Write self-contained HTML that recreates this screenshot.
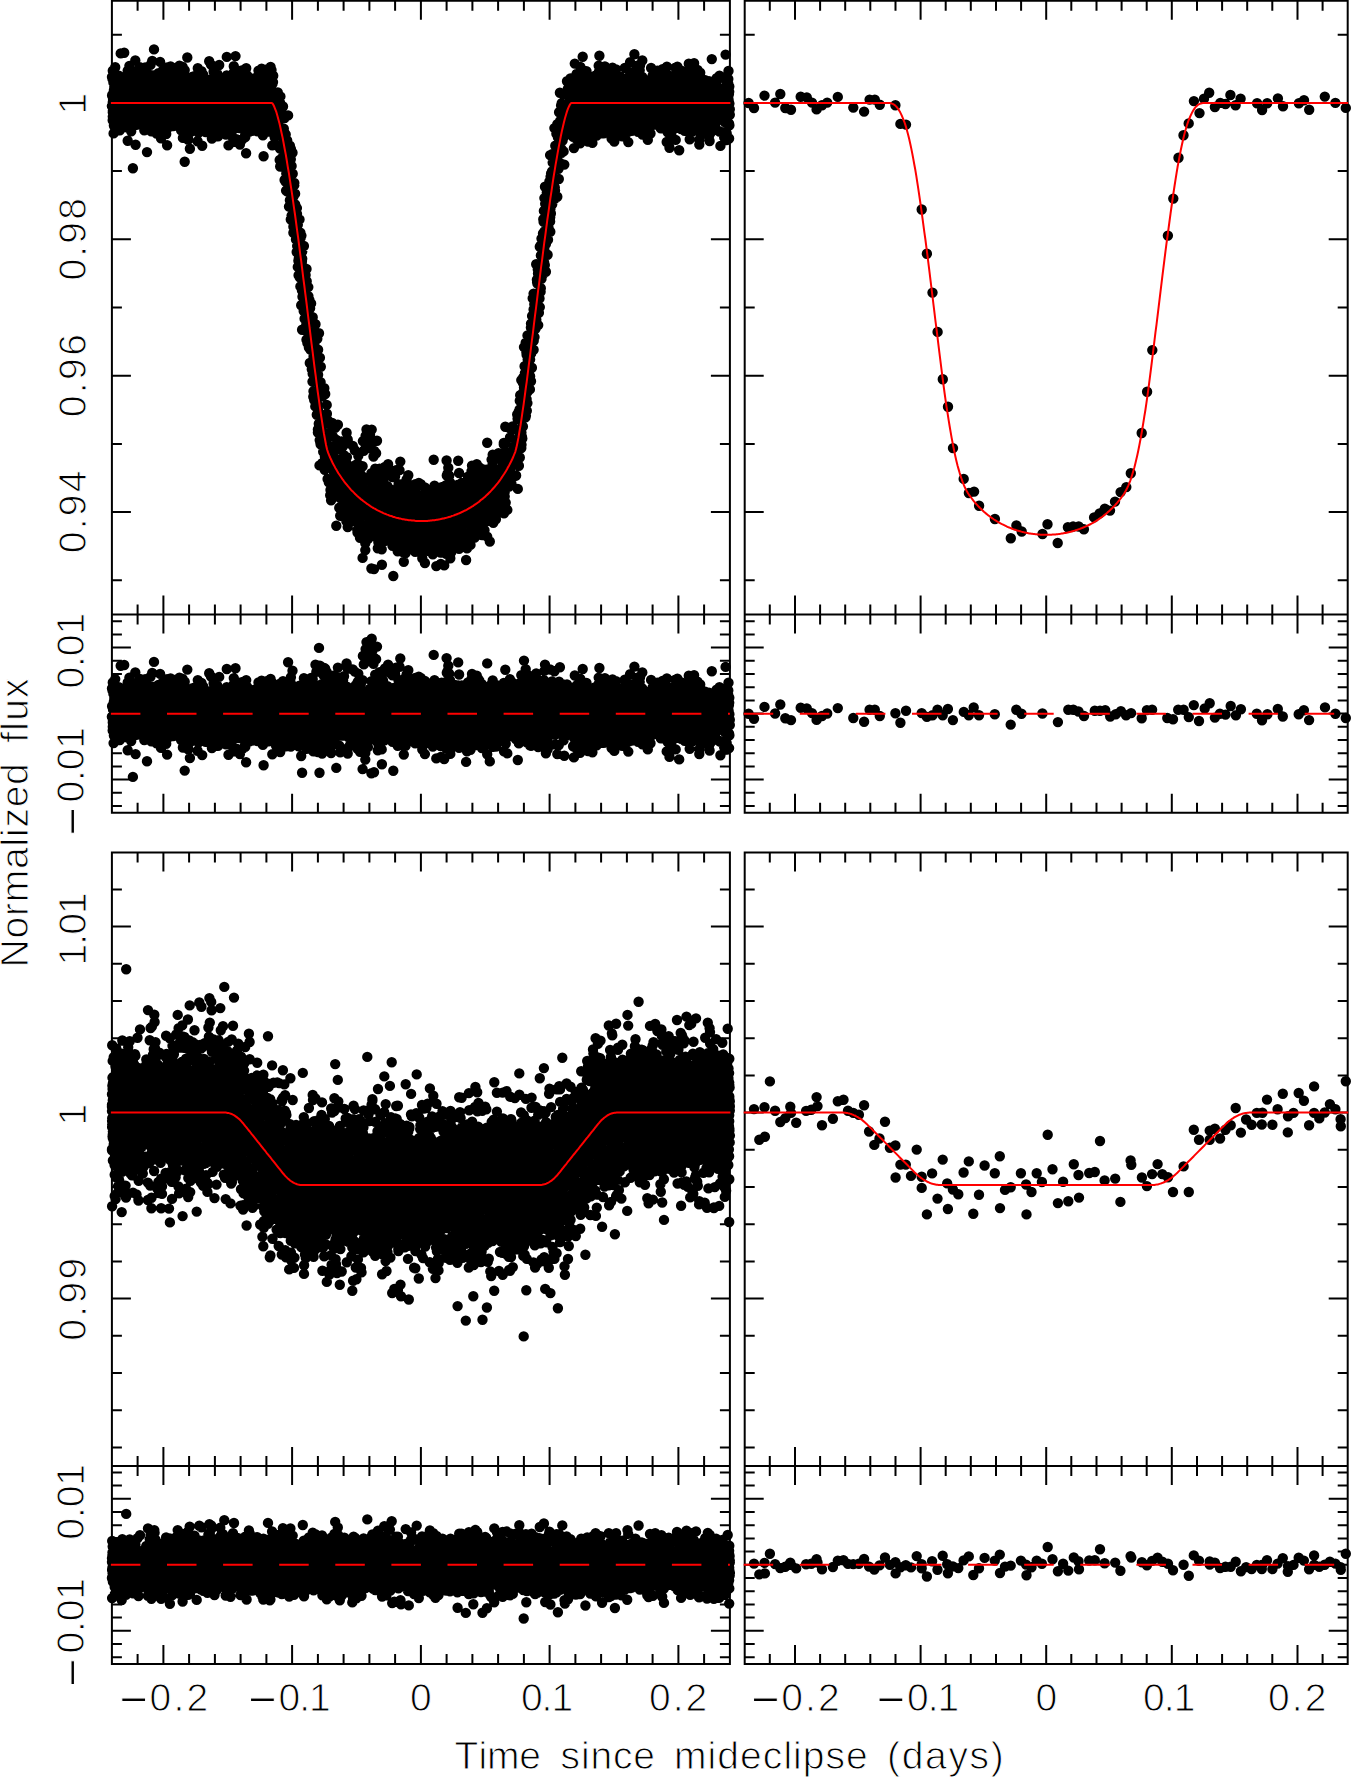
<!DOCTYPE html>
<html lang="en"><head><meta charset="utf-8"><title>Normalized flux vs time since mideclipse</title><style>html,body{margin:0;padding:0;background:#fff}svg{display:block}</style></head><body>
<svg width="1351" height="1777" viewBox="0 0 1351 1777">
<rect width="1351" height="1777" fill="#fff"/>
<path d="M111.9 0.8H729.9V614.5H111.9ZM111.9 0.8v10.0M111.9 614.5v-10.0M137.6 0.8v10.0M137.6 614.5v-10.0M163.4 0.8v19.0M163.4 614.5v-19.0M189.1 0.8v10.0M189.1 614.5v-10.0M214.9 0.8v10.0M214.9 614.5v-10.0M240.6 0.8v10.0M240.6 614.5v-10.0M266.4 0.8v10.0M266.4 614.5v-10.0M292.1 0.8v19.0M292.1 614.5v-19.0M317.9 0.8v10.0M317.9 614.5v-10.0M343.6 0.8v10.0M343.6 614.5v-10.0M369.4 0.8v10.0M369.4 614.5v-10.0M395.1 0.8v10.0M395.1 614.5v-10.0M420.9 0.8v19.0M420.9 614.5v-19.0M446.6 0.8v10.0M446.6 614.5v-10.0M472.4 0.8v10.0M472.4 614.5v-10.0M498.1 0.8v10.0M498.1 614.5v-10.0M523.9 0.8v10.0M523.9 614.5v-10.0M549.6 0.8v19.0M549.6 614.5v-19.0M575.4 0.8v10.0M575.4 614.5v-10.0M601.1 0.8v10.0M601.1 614.5v-10.0M626.9 0.8v10.0M626.9 614.5v-10.0M652.6 0.8v10.0M652.6 614.5v-10.0M678.4 0.8v19.0M678.4 614.5v-19.0M704.1 0.8v10.0M704.1 614.5v-10.0M729.9 0.8v10.0M729.9 614.5v-10.0M111.9 580.3h10.0M729.9 580.3h-10.0M111.9 512.1h19.0M729.9 512.1h-19.0M111.9 443.9h10.0M729.9 443.9h-10.0M111.9 375.7h19.0M729.9 375.7h-19.0M111.9 307.5h10.0M729.9 307.5h-10.0M111.9 239.3h19.0M729.9 239.3h-19.0M111.9 171.1h10.0M729.9 171.1h-10.0M111.9 102.9h19.0M729.9 102.9h-19.0M111.9 34.7h10.0M729.9 34.7h-10.0M111.9 614.5H729.9V812.8H111.9ZM111.9 614.5v10.0M111.9 812.8v-10.0M137.6 614.5v10.0M137.6 812.8v-10.0M163.4 614.5v19.0M163.4 812.8v-19.0M189.1 614.5v10.0M189.1 812.8v-10.0M214.9 614.5v10.0M214.9 812.8v-10.0M240.6 614.5v10.0M240.6 812.8v-10.0M266.4 614.5v10.0M266.4 812.8v-10.0M292.1 614.5v19.0M292.1 812.8v-19.0M317.9 614.5v10.0M317.9 812.8v-10.0M343.6 614.5v10.0M343.6 812.8v-10.0M369.4 614.5v10.0M369.4 812.8v-10.0M395.1 614.5v10.0M395.1 812.8v-10.0M420.9 614.5v19.0M420.9 812.8v-19.0M446.6 614.5v10.0M446.6 812.8v-10.0M472.4 614.5v10.0M472.4 812.8v-10.0M498.1 614.5v10.0M498.1 812.8v-10.0M523.9 614.5v10.0M523.9 812.8v-10.0M549.6 614.5v19.0M549.6 812.8v-19.0M575.4 614.5v10.0M575.4 812.8v-10.0M601.1 614.5v10.0M601.1 812.8v-10.0M626.9 614.5v10.0M626.9 812.8v-10.0M652.6 614.5v10.0M652.6 812.8v-10.0M678.4 614.5v19.0M678.4 812.8v-19.0M704.1 614.5v10.0M704.1 812.8v-10.0M729.9 614.5v10.0M729.9 812.8v-10.0M111.9 806h10.0M729.9 806h-10.0M111.9 792.8h10.0M729.9 792.8h-10.0M111.9 779.6h19.0M729.9 779.6h-19.0M111.9 766.4h10.0M729.9 766.4h-10.0M111.9 753.2h10.0M729.9 753.2h-10.0M111.9 740h10.0M729.9 740h-10.0M111.9 726.8h10.0M729.9 726.8h-10.0M111.9 713.6h19.0M729.9 713.6h-19.0M111.9 700.4h10.0M729.9 700.4h-10.0M111.9 687.2h10.0M729.9 687.2h-10.0M111.9 674h10.0M729.9 674h-10.0M111.9 660.8h10.0M729.9 660.8h-10.0M111.9 647.6h19.0M729.9 647.6h-19.0M111.9 634.4h10.0M729.9 634.4h-10.0M111.9 621.2h10.0M729.9 621.2h-10.0M111.9 852.5H729.9V1466.0H111.9ZM111.9 852.5v10.0M111.9 1466.0v-10.0M137.6 852.5v10.0M137.6 1466.0v-10.0M163.4 852.5v19.0M163.4 1466.0v-19.0M189.1 852.5v10.0M189.1 1466.0v-10.0M214.9 852.5v10.0M214.9 1466.0v-10.0M240.6 852.5v10.0M240.6 1466.0v-10.0M266.4 852.5v10.0M266.4 1466.0v-10.0M292.1 852.5v19.0M292.1 1466.0v-19.0M317.9 852.5v10.0M317.9 1466.0v-10.0M343.6 852.5v10.0M343.6 1466.0v-10.0M369.4 852.5v10.0M369.4 1466.0v-10.0M395.1 852.5v10.0M395.1 1466.0v-10.0M420.9 852.5v19.0M420.9 1466.0v-19.0M446.6 852.5v10.0M446.6 1466.0v-10.0M472.4 852.5v10.0M472.4 1466.0v-10.0M498.1 852.5v10.0M498.1 1466.0v-10.0M523.9 852.5v10.0M523.9 1466.0v-10.0M549.6 852.5v19.0M549.6 1466.0v-19.0M575.4 852.5v10.0M575.4 1466.0v-10.0M601.1 852.5v10.0M601.1 1466.0v-10.0M626.9 852.5v10.0M626.9 1466.0v-10.0M652.6 852.5v10.0M652.6 1466.0v-10.0M678.4 852.5v19.0M678.4 1466.0v-19.0M704.1 852.5v10.0M704.1 1466.0v-10.0M729.9 852.5v10.0M729.9 1466.0v-10.0M111.9 1447.4h10.0M729.9 1447.4h-10.0M111.9 1410.2h10.0M729.9 1410.2h-10.0M111.9 1373h10.0M729.9 1373h-10.0M111.9 1335.8h10.0M729.9 1335.8h-10.0M111.9 1298.6h19.0M729.9 1298.6h-19.0M111.9 1261.4h10.0M729.9 1261.4h-10.0M111.9 1224.2h10.0M729.9 1224.2h-10.0M111.9 1187h10.0M729.9 1187h-10.0M111.9 1149.8h10.0M729.9 1149.8h-10.0M111.9 1112.6h19.0M729.9 1112.6h-19.0M111.9 1075.4h10.0M729.9 1075.4h-10.0M111.9 1038.2h10.0M729.9 1038.2h-10.0M111.9 1001h10.0M729.9 1001h-10.0M111.9 963.8h10.0M729.9 963.8h-10.0M111.9 926.6h19.0M729.9 926.6h-19.0M111.9 889.4h10.0M729.9 889.4h-10.0M111.9 1466.0H729.9V1664.0H111.9ZM111.9 1466.0v10.0M111.9 1664.0v-10.0M137.6 1466.0v10.0M137.6 1664.0v-10.0M163.4 1466.0v19.0M163.4 1664.0v-19.0M189.1 1466.0v10.0M189.1 1664.0v-10.0M214.9 1466.0v10.0M214.9 1664.0v-10.0M240.6 1466.0v10.0M240.6 1664.0v-10.0M266.4 1466.0v10.0M266.4 1664.0v-10.0M292.1 1466.0v19.0M292.1 1664.0v-19.0M317.9 1466.0v10.0M317.9 1664.0v-10.0M343.6 1466.0v10.0M343.6 1664.0v-10.0M369.4 1466.0v10.0M369.4 1664.0v-10.0M395.1 1466.0v10.0M395.1 1664.0v-10.0M420.9 1466.0v19.0M420.9 1664.0v-19.0M446.6 1466.0v10.0M446.6 1664.0v-10.0M472.4 1466.0v10.0M472.4 1664.0v-10.0M498.1 1466.0v10.0M498.1 1664.0v-10.0M523.9 1466.0v10.0M523.9 1664.0v-10.0M549.6 1466.0v19.0M549.6 1664.0v-19.0M575.4 1466.0v10.0M575.4 1664.0v-10.0M601.1 1466.0v10.0M601.1 1664.0v-10.0M626.9 1466.0v10.0M626.9 1664.0v-10.0M652.6 1466.0v10.0M652.6 1664.0v-10.0M678.4 1466.0v19.0M678.4 1664.0v-19.0M704.1 1466.0v10.0M704.1 1664.0v-10.0M729.9 1466.0v10.0M729.9 1664.0v-10.0M111.9 1657.2h10.0M729.9 1657.2h-10.0M111.9 1644h10.0M729.9 1644h-10.0M111.9 1630.8h19.0M729.9 1630.8h-19.0M111.9 1617.6h10.0M729.9 1617.6h-10.0M111.9 1604.4h10.0M729.9 1604.4h-10.0M111.9 1591.2h10.0M729.9 1591.2h-10.0M111.9 1578h10.0M729.9 1578h-10.0M111.9 1564.8h19.0M729.9 1564.8h-19.0M111.9 1551.6h10.0M729.9 1551.6h-10.0M111.9 1538.4h10.0M729.9 1538.4h-10.0M111.9 1525.2h10.0M729.9 1525.2h-10.0M111.9 1512h10.0M729.9 1512h-10.0M111.9 1498.8h19.0M729.9 1498.8h-19.0M111.9 1485.6h10.0M729.9 1485.6h-10.0M111.9 1472.4h10.0M729.9 1472.4h-10.0M744.7 0.8H1347.7V614.5H744.7ZM744.7 0.8v10.0M744.7 614.5v-10.0M769.8 0.8v10.0M769.8 614.5v-10.0M795 0.8v19.0M795 614.5v-19.0M820.1 0.8v10.0M820.1 614.5v-10.0M845.2 0.8v10.0M845.2 614.5v-10.0M870.3 0.8v10.0M870.3 614.5v-10.0M895.5 0.8v10.0M895.5 614.5v-10.0M920.6 0.8v19.0M920.6 614.5v-19.0M945.7 0.8v10.0M945.7 614.5v-10.0M970.8 0.8v10.0M970.8 614.5v-10.0M996 0.8v10.0M996 614.5v-10.0M1021.1 0.8v10.0M1021.1 614.5v-10.0M1046.2 0.8v19.0M1046.2 614.5v-19.0M1071.3 0.8v10.0M1071.3 614.5v-10.0M1096.5 0.8v10.0M1096.5 614.5v-10.0M1121.6 0.8v10.0M1121.6 614.5v-10.0M1146.7 0.8v10.0M1146.7 614.5v-10.0M1171.8 0.8v19.0M1171.8 614.5v-19.0M1197 0.8v10.0M1197 614.5v-10.0M1222.1 0.8v10.0M1222.1 614.5v-10.0M1247.2 0.8v10.0M1247.2 614.5v-10.0M1272.3 0.8v10.0M1272.3 614.5v-10.0M1297.5 0.8v19.0M1297.5 614.5v-19.0M1322.6 0.8v10.0M1322.6 614.5v-10.0M1347.7 0.8v10.0M1347.7 614.5v-10.0M744.7 580.3h10.0M1347.7 580.3h-10.0M744.7 512.1h19.0M1347.7 512.1h-19.0M744.7 443.9h10.0M1347.7 443.9h-10.0M744.7 375.7h19.0M1347.7 375.7h-19.0M744.7 307.5h10.0M1347.7 307.5h-10.0M744.7 239.3h19.0M1347.7 239.3h-19.0M744.7 171.1h10.0M1347.7 171.1h-10.0M744.7 102.9h19.0M1347.7 102.9h-19.0M744.7 34.7h10.0M1347.7 34.7h-10.0M744.7 614.5H1347.7V812.8H744.7ZM744.7 614.5v10.0M744.7 812.8v-10.0M769.8 614.5v10.0M769.8 812.8v-10.0M795 614.5v19.0M795 812.8v-19.0M820.1 614.5v10.0M820.1 812.8v-10.0M845.2 614.5v10.0M845.2 812.8v-10.0M870.3 614.5v10.0M870.3 812.8v-10.0M895.5 614.5v10.0M895.5 812.8v-10.0M920.6 614.5v19.0M920.6 812.8v-19.0M945.7 614.5v10.0M945.7 812.8v-10.0M970.8 614.5v10.0M970.8 812.8v-10.0M996 614.5v10.0M996 812.8v-10.0M1021.1 614.5v10.0M1021.1 812.8v-10.0M1046.2 614.5v19.0M1046.2 812.8v-19.0M1071.3 614.5v10.0M1071.3 812.8v-10.0M1096.5 614.5v10.0M1096.5 812.8v-10.0M1121.6 614.5v10.0M1121.6 812.8v-10.0M1146.7 614.5v10.0M1146.7 812.8v-10.0M1171.8 614.5v19.0M1171.8 812.8v-19.0M1197 614.5v10.0M1197 812.8v-10.0M1222.1 614.5v10.0M1222.1 812.8v-10.0M1247.2 614.5v10.0M1247.2 812.8v-10.0M1272.3 614.5v10.0M1272.3 812.8v-10.0M1297.5 614.5v19.0M1297.5 812.8v-19.0M1322.6 614.5v10.0M1322.6 812.8v-10.0M1347.7 614.5v10.0M1347.7 812.8v-10.0M744.7 806h10.0M1347.7 806h-10.0M744.7 792.8h10.0M1347.7 792.8h-10.0M744.7 779.6h19.0M1347.7 779.6h-19.0M744.7 766.4h10.0M1347.7 766.4h-10.0M744.7 753.2h10.0M1347.7 753.2h-10.0M744.7 740h10.0M1347.7 740h-10.0M744.7 726.8h10.0M1347.7 726.8h-10.0M744.7 713.6h19.0M1347.7 713.6h-19.0M744.7 700.4h10.0M1347.7 700.4h-10.0M744.7 687.2h10.0M1347.7 687.2h-10.0M744.7 674h10.0M1347.7 674h-10.0M744.7 660.8h10.0M1347.7 660.8h-10.0M744.7 647.6h19.0M1347.7 647.6h-19.0M744.7 634.4h10.0M1347.7 634.4h-10.0M744.7 621.2h10.0M1347.7 621.2h-10.0M744.7 852.5H1347.7V1466.0H744.7ZM744.7 852.5v10.0M744.7 1466.0v-10.0M769.8 852.5v10.0M769.8 1466.0v-10.0M795 852.5v19.0M795 1466.0v-19.0M820.1 852.5v10.0M820.1 1466.0v-10.0M845.2 852.5v10.0M845.2 1466.0v-10.0M870.3 852.5v10.0M870.3 1466.0v-10.0M895.5 852.5v10.0M895.5 1466.0v-10.0M920.6 852.5v19.0M920.6 1466.0v-19.0M945.7 852.5v10.0M945.7 1466.0v-10.0M970.8 852.5v10.0M970.8 1466.0v-10.0M996 852.5v10.0M996 1466.0v-10.0M1021.1 852.5v10.0M1021.1 1466.0v-10.0M1046.2 852.5v19.0M1046.2 1466.0v-19.0M1071.3 852.5v10.0M1071.3 1466.0v-10.0M1096.5 852.5v10.0M1096.5 1466.0v-10.0M1121.6 852.5v10.0M1121.6 1466.0v-10.0M1146.7 852.5v10.0M1146.7 1466.0v-10.0M1171.8 852.5v19.0M1171.8 1466.0v-19.0M1197 852.5v10.0M1197 1466.0v-10.0M1222.1 852.5v10.0M1222.1 1466.0v-10.0M1247.2 852.5v10.0M1247.2 1466.0v-10.0M1272.3 852.5v10.0M1272.3 1466.0v-10.0M1297.5 852.5v19.0M1297.5 1466.0v-19.0M1322.6 852.5v10.0M1322.6 1466.0v-10.0M1347.7 852.5v10.0M1347.7 1466.0v-10.0M744.7 1447.4h10.0M1347.7 1447.4h-10.0M744.7 1410.2h10.0M1347.7 1410.2h-10.0M744.7 1373h10.0M1347.7 1373h-10.0M744.7 1335.8h10.0M1347.7 1335.8h-10.0M744.7 1298.6h19.0M1347.7 1298.6h-19.0M744.7 1261.4h10.0M1347.7 1261.4h-10.0M744.7 1224.2h10.0M1347.7 1224.2h-10.0M744.7 1187h10.0M1347.7 1187h-10.0M744.7 1149.8h10.0M1347.7 1149.8h-10.0M744.7 1112.6h19.0M1347.7 1112.6h-19.0M744.7 1075.4h10.0M1347.7 1075.4h-10.0M744.7 1038.2h10.0M1347.7 1038.2h-10.0M744.7 1001h10.0M1347.7 1001h-10.0M744.7 963.8h10.0M1347.7 963.8h-10.0M744.7 926.6h19.0M1347.7 926.6h-19.0M744.7 889.4h10.0M1347.7 889.4h-10.0M744.7 1466.0H1347.7V1664.0H744.7ZM744.7 1466.0v10.0M744.7 1664.0v-10.0M769.8 1466.0v10.0M769.8 1664.0v-10.0M795 1466.0v19.0M795 1664.0v-19.0M820.1 1466.0v10.0M820.1 1664.0v-10.0M845.2 1466.0v10.0M845.2 1664.0v-10.0M870.3 1466.0v10.0M870.3 1664.0v-10.0M895.5 1466.0v10.0M895.5 1664.0v-10.0M920.6 1466.0v19.0M920.6 1664.0v-19.0M945.7 1466.0v10.0M945.7 1664.0v-10.0M970.8 1466.0v10.0M970.8 1664.0v-10.0M996 1466.0v10.0M996 1664.0v-10.0M1021.1 1466.0v10.0M1021.1 1664.0v-10.0M1046.2 1466.0v19.0M1046.2 1664.0v-19.0M1071.3 1466.0v10.0M1071.3 1664.0v-10.0M1096.5 1466.0v10.0M1096.5 1664.0v-10.0M1121.6 1466.0v10.0M1121.6 1664.0v-10.0M1146.7 1466.0v10.0M1146.7 1664.0v-10.0M1171.8 1466.0v19.0M1171.8 1664.0v-19.0M1197 1466.0v10.0M1197 1664.0v-10.0M1222.1 1466.0v10.0M1222.1 1664.0v-10.0M1247.2 1466.0v10.0M1247.2 1664.0v-10.0M1272.3 1466.0v10.0M1272.3 1664.0v-10.0M1297.5 1466.0v19.0M1297.5 1664.0v-19.0M1322.6 1466.0v10.0M1322.6 1664.0v-10.0M1347.7 1466.0v10.0M1347.7 1664.0v-10.0M744.7 1657.2h10.0M1347.7 1657.2h-10.0M744.7 1644h10.0M1347.7 1644h-10.0M744.7 1630.8h19.0M1347.7 1630.8h-19.0M744.7 1617.6h10.0M1347.7 1617.6h-10.0M744.7 1604.4h10.0M1347.7 1604.4h-10.0M744.7 1591.2h10.0M1347.7 1591.2h-10.0M744.7 1578h10.0M1347.7 1578h-10.0M744.7 1564.8h19.0M1347.7 1564.8h-19.0M744.7 1551.6h10.0M1347.7 1551.6h-10.0M744.7 1538.4h10.0M1347.7 1538.4h-10.0M744.7 1525.2h10.0M1347.7 1525.2h-10.0M744.7 1512h10.0M1347.7 1512h-10.0M744.7 1498.8h19.0M1347.7 1498.8h-19.0M744.7 1485.6h10.0M1347.7 1485.6h-10.0M744.7 1472.4h10.0M1347.7 1472.4h-10.0" fill="none" stroke="#000" stroke-width="2" stroke-linecap="butt"/>
<path d="M111.9 83.8L113.4 83.8L115 83.8L116.5 83.8L118.1 83.8L119.6 83.8L121.2 83.8L122.7 83.8L124.3 83.8L125.8 83.8L127.4 83.8L128.9 83.8L130.5 83.8L132 83.8L133.6 83.8L135.1 83.8L136.7 83.8L138.2 83.8L139.8 83.8L141.3 83.8L142.9 83.8L144.4 83.8L146 83.8L147.5 83.8L149.1 83.8L150.6 83.8L152.2 83.8L153.7 83.8L155.3 83.8L156.8 83.8L158.4 83.8L159.9 83.8L161.5 83.8L163 83.8L164.6 83.8L166.1 83.8L167.7 83.8L169.2 83.8L170.8 83.8L172.3 83.8L173.9 83.8L175.4 83.8L177 83.8L178.5 83.8L180.1 83.8L181.6 83.8L183.1 83.8L184.7 83.8L186.2 83.8L187.8 83.8L189.3 83.8L190.9 83.8L192.4 83.8L194 83.8L195.5 83.8L197.1 83.8L198.6 83.8L200.2 83.8L201.7 83.8L203.3 83.8L204.8 83.8L206.4 83.8L207.9 83.8L209.5 83.8L211 83.8L212.6 83.8L214.1 83.8L215.7 83.8L217.2 83.8L218.8 83.8L220.3 83.8L221.9 83.8L223.4 83.8L225 83.8L226.5 83.8L228.1 83.8L229.6 83.8L231.2 83.8L232.7 83.8L234.3 83.8L235.8 83.8L237.4 83.8L238.9 83.8L240.5 83.8L242 83.8L243.6 83.8L245.1 83.8L246.7 83.8L248.2 83.8L249.7 83.8L251.3 83.8L252.8 83.8L254.4 83.8L255.9 83.8L257.5 83.8L259 83.8L260.6 83.8L262.1 83.8L263.7 83.8L265.2 83.8L266.8 83.8L268.3 83.8L269.9 83.8L271.4 83.8L273 85.2L274.5 88.2L276.1 92.3L277.6 97.5L279.2 103.4L280.7 110L282.3 117.1L283.8 125.1L285.4 133.4L286.9 142.3L288.5 151.6L290 161.5L291.6 171.7L293.1 182.2L294.7 193.2L296.2 204.4L297.8 215.9L299.3 227.6L300.9 239.6L302.4 251.6L304 263.9L305.5 276.1L307.1 288.5L308.6 300.9L310.2 313.4L311.7 325.8L313.3 338.1L314.8 350.1L316.4 362.2L317.9 373.6L319.4 385.1L321 395.7L322.5 405.9L324.1 415.3L325.6 423.9L327.2 430.7L328.7 435.1L330.3 438.7L331.8 442.2L333.4 445.2L334.9 448L336.5 450.7L338 453.4L339.6 455.9L341.1 458.1L342.7 460.4L344.2 462.5L345.8 464.6L347.3 466.3L348.9 468.2L350.4 469.9L352 471.8L353.5 473.2L355.1 474.9L356.6 476.2L358.2 477.7L359.7 479L361.3 480.4L362.8 481.6L364.4 482.8L365.9 483.9L367.5 485.1L369 486.1L370.6 487.1L372.1 488L373.7 489.1L375.2 489.9L376.8 490.9L378.3 491.5L379.9 492.4L381.4 493L383 493.8L384.5 494.4L386.1 495.1L387.6 495.6L389.1 496.4L390.7 496.9L392.2 497.3L393.8 497.8L395.3 498.3L396.9 498.8L398.4 499L400 499.4L401.5 499.9L403.1 500.3L404.6 500.3L406.2 500.7L407.7 500.8L409.3 501.2L410.8 501.2L412.4 501.6L413.9 501.5L415.5 501.9L417 501.8L418.6 501.9L420.1 501.9L421.7 502L423.2 501.9L424.8 502L426.3 501.8L427.9 501.8L429.4 501.6L431 501.5L432.5 501.2L434.1 501.1L435.6 500.8L437.2 500.8L438.7 500.3L440.3 500.2L441.8 499.7L443.4 499.4L444.9 499L446.5 498.7L448 498.2L449.6 497.8L451.1 497.2L452.7 496.8L454.2 496.2L455.7 495.5L457.3 494.9L458.8 494.4L460.4 493.7L461.9 492.9L463.5 492.1L465 491.4L466.6 490.7L468.1 489.7L469.7 488.9L471.2 487.8L472.8 487L474.3 485.9L475.9 484.9L477.4 483.7L479 482.6L480.5 481.4L482.1 480.2L483.6 478.7L485.2 477.5L486.7 476L488.3 474.7L489.8 473L491.4 471.4L492.9 469.6L494.5 468L496 466.1L497.6 464.2L499.1 462L500.7 460.1L502.2 457.7L503.8 455.5L505.3 452.9L506.9 450.4L508.4 447.6L510 444.8L511.5 441.6L513.1 438.2L514.6 434.4L516.2 429.7L517.7 422.5L519.3 413.7L520.8 404.2L522.4 394L523.9 383.2L525.4 371.7L527 360.1L528.5 348L530.1 336.1L531.6 323.6L533.2 311.3L534.7 298.8L536.3 286.4L537.8 274L539.4 261.8L540.9 249.5L542.5 237.6L544 225.6L545.6 214L547.1 202.5L548.7 191.3L550.2 180.5L551.8 170L553.3 159.8L554.9 150L556.4 140.7L558 132L559.5 123.7L561.1 115.9L562.6 108.8L564.2 102.4L565.7 96.5L567.3 91.6L568.8 87.6L570.4 84.8L571.9 83.8L573.5 83.8L575 83.8L576.6 83.8L578.1 83.8L579.7 83.8L581.2 83.8L582.8 83.8L584.3 83.8L585.9 83.8L587.4 83.8L589 83.8L590.5 83.8L592.1 83.8L593.6 83.8L595.1 83.8L596.7 83.8L598.2 83.8L599.8 83.8L601.3 83.8L602.9 83.8L604.4 83.8L606 83.8L607.5 83.8L609.1 83.8L610.6 83.8L612.2 83.8L613.7 83.8L615.3 83.8L616.8 83.8L618.4 83.8L619.9 83.8L621.5 83.8L623 83.8L624.6 83.8L626.1 83.8L627.7 83.8L629.2 83.8L630.8 83.8L632.3 83.8L633.9 83.8L635.4 83.8L637 83.8L638.5 83.8L640.1 83.8L641.6 83.8L643.2 83.8L644.7 83.8L646.3 83.8L647.8 83.8L649.4 83.8L650.9 83.8L652.5 83.8L654 83.8L655.6 83.8L657.1 83.8L658.7 83.8L660.2 83.8L661.7 83.8L663.3 83.8L664.8 83.8L666.4 83.8L667.9 83.8L669.5 83.8L671 83.8L672.6 83.8L674.1 83.8L675.7 83.8L677.2 83.8L678.8 83.8L680.3 83.8L681.9 83.8L683.4 83.8L685 83.8L686.5 83.8L688.1 83.8L689.6 83.8L691.2 83.8L692.7 83.8L694.3 83.8L695.8 83.8L697.4 83.8L698.9 83.8L700.5 83.8L702 83.8L703.6 83.8L705.1 83.8L706.7 83.8L708.2 83.8L709.8 83.8L711.3 83.8L712.9 83.8L714.4 83.8L716 83.8L717.5 83.8L719.1 83.8L720.6 83.8L722.2 83.8L723.7 83.8L725.3 83.8L726.8 83.8L728.4 83.8L729.9 83.8L729.9 122L728.4 122L726.8 122L725.3 122L723.7 122L722.2 122L720.6 122L719.1 122L717.5 122L716 122L714.4 122L712.9 122L711.3 122L709.8 122L708.2 122L706.7 122L705.1 122L703.6 122L702 122L700.5 122L698.9 122L697.4 122L695.8 122L694.3 122L692.7 122L691.2 122L689.6 122L688.1 122L686.5 122L685 122L683.4 122L681.9 122L680.3 122L678.8 122L677.2 122L675.7 122L674.1 122L672.6 122L671 122L669.5 122L667.9 122L666.4 122L664.8 122L663.3 122L661.7 122L660.2 122L658.7 122L657.1 122L655.6 122L654 122L652.5 122L650.9 122L649.4 122L647.8 122L646.3 122L644.7 122L643.2 122L641.6 122L640.1 122L638.5 122L637 122L635.4 122L633.9 122L632.3 122L630.8 122L629.2 122L627.7 122L626.1 122L624.6 122L623 122L621.5 122L619.9 122L618.4 122L616.8 122L615.3 122L613.7 122L612.2 122L610.6 122L609.1 122L607.5 122L606 122L604.4 122L602.9 122L601.3 122L599.8 122L598.2 122L596.7 122L595.1 122L593.6 122L592.1 122L590.5 122L589 122L587.4 122L585.9 122L584.3 122L582.8 122L581.2 122L579.7 122L578.1 122L576.6 122L575 122L573.5 122L571.9 122L570.4 123L568.8 125.8L567.3 129.8L565.7 134.7L564.2 140.6L562.6 147L561.1 154L559.5 161.9L558 170.2L556.4 178.9L554.9 188.2L553.3 198L551.8 208.2L550.2 218.6L548.7 229.5L547.1 240.7L545.6 252.2L544 263.8L542.5 275.8L540.9 287.7L539.4 300L537.8 312.2L536.3 324.6L534.7 337L533.2 349.5L531.6 361.8L530.1 374.3L528.5 386.2L527 398.3L525.4 409.9L523.9 421.4L522.4 432.2L520.8 442.3L519.3 451.9L517.7 460.7L516.2 467.9L514.6 472.6L513.1 476.4L511.5 479.8L510 482.9L508.4 485.7L506.9 488.6L505.3 491.1L503.8 493.7L502.2 495.9L500.7 498.3L499.1 500.2L497.6 502.4L496 504.3L494.5 506.2L492.9 507.8L491.4 509.6L489.8 511.1L488.3 512.8L486.7 514.2L485.2 515.7L483.6 516.9L482.1 518.4L480.5 519.5L479 520.8L477.4 521.9L475.9 523.1L474.3 524.1L472.8 525.2L471.2 526L469.7 527.1L468.1 527.8L466.6 528.9L465 529.6L463.5 530.3L461.9 531L460.4 531.9L458.8 532.6L457.3 533.1L455.7 533.7L454.2 534.4L452.7 535L451.1 535.4L449.6 535.9L448 536.4L446.5 536.9L444.9 537.2L443.4 537.6L441.8 537.9L440.3 538.4L438.7 538.5L437.2 538.9L435.6 539L434.1 539.3L432.5 539.4L431 539.7L429.4 539.8L427.9 540L426.3 540L424.8 540.2L423.2 540.1L421.7 540.2L420.1 540.1L418.6 540.1L417 540L415.5 540.1L413.9 539.7L412.4 539.8L410.8 539.4L409.3 539.3L407.7 539L406.2 538.9L404.6 538.5L403.1 538.5L401.5 538.1L400 537.6L398.4 537.2L396.9 537L395.3 536.5L393.8 536L392.2 535.5L390.7 535.1L389.1 534.6L387.6 533.8L386.1 533.3L384.5 532.5L383 532L381.4 531.2L379.9 530.6L378.3 529.7L376.8 529.1L375.2 528.1L373.7 527.2L372.1 526.2L370.6 525.3L369 524.3L367.5 523.3L365.9 522.1L364.4 521L362.8 519.8L361.3 518.6L359.7 517.2L358.2 515.9L356.6 514.4L355.1 513.1L353.5 511.4L352 509.9L350.4 508.1L348.9 506.4L347.3 504.5L345.8 502.8L344.2 500.6L342.7 498.6L341.1 496.3L339.6 494.1L338 491.6L336.5 488.9L334.9 486.2L333.4 483.4L331.8 480.4L330.3 476.9L328.7 473.3L327.2 468.8L325.6 462.1L324.1 453.4L322.5 444L321 433.9L319.4 423.2L317.9 411.8L316.4 400.4L314.8 388.3L313.3 376.3L311.7 363.9L310.2 351.6L308.6 339.1L307.1 326.7L305.5 314.3L304 302.1L302.4 289.8L300.9 277.7L299.3 265.8L297.8 254.1L296.2 242.6L294.7 231.4L293.1 220.4L291.6 209.9L290 199.7L288.5 189.8L286.9 180.5L285.4 171.6L283.8 163.3L282.3 155.3L280.7 148.2L279.2 141.6L277.6 135.7L276.1 130.5L274.5 126.4L273 123.3L271.4 122L269.9 122L268.3 122L266.8 122L265.2 122L263.7 122L262.1 122L260.6 122L259 122L257.5 122L255.9 122L254.4 122L252.8 122L251.3 122L249.7 122L248.2 122L246.7 122L245.1 122L243.6 122L242 122L240.5 122L238.9 122L237.4 122L235.8 122L234.3 122L232.7 122L231.2 122L229.6 122L228.1 122L226.5 122L225 122L223.4 122L221.9 122L220.3 122L218.8 122L217.2 122L215.7 122L214.1 122L212.6 122L211 122L209.5 122L207.9 122L206.4 122L204.8 122L203.3 122L201.7 122L200.2 122L198.6 122L197.1 122L195.5 122L194 122L192.4 122L190.9 122L189.3 122L187.8 122L186.2 122L184.7 122L183.1 122L181.6 122L180.1 122L178.5 122L177 122L175.4 122L173.9 122L172.3 122L170.8 122L169.2 122L167.7 122L166.1 122L164.6 122L163 122L161.5 122L159.9 122L158.4 122L156.8 122L155.3 122L153.7 122L152.2 122L150.6 122L149.1 122L147.5 122L146 122L144.4 122L142.9 122L141.3 122L139.8 122L138.2 122L136.7 122L135.1 122L133.6 122L132 122L130.5 122L128.9 122L127.4 122L125.8 122L124.3 122L122.7 122L121.2 122L119.6 122L118.1 122L116.5 122L115 122L113.4 122L111.9 122ZM111.9 695.1L113.4 695.1L115 695.1L116.5 695.1L118.1 695.1L119.6 695.1L121.2 695.1L122.7 695.1L124.3 695.1L125.8 695.1L127.4 695.1L128.9 695.1L130.5 695.1L132 695.1L133.6 695.1L135.1 695.1L136.7 695.1L138.2 695.1L139.8 695.1L141.3 695.1L142.9 695.1L144.4 695.1L146 695.1L147.5 695.1L149.1 695.1L150.6 695.1L152.2 695.1L153.7 695.1L155.3 695.1L156.8 695.1L158.4 695.1L159.9 695.1L161.5 695.1L163 695.1L164.6 695.1L166.1 695.1L167.7 695.1L169.2 695.1L170.8 695.1L172.3 695.1L173.9 695.1L175.4 695.1L177 695.1L178.5 695.1L180.1 695.1L181.6 695.1L183.1 695.1L184.7 695.1L186.2 695.1L187.8 695.1L189.3 695.1L190.9 695.1L192.4 695.1L194 695.1L195.5 695.1L197.1 695.1L198.6 695.1L200.2 695.1L201.7 695.1L203.3 695.1L204.8 695.1L206.4 695.1L207.9 695.1L209.5 695.1L211 695.1L212.6 695.1L214.1 695.1L215.7 695.1L217.2 695.1L218.8 695.1L220.3 695.1L221.9 695.1L223.4 695.1L225 695.1L226.5 695.1L228.1 695.1L229.6 695.1L231.2 695.1L232.7 695.1L234.3 695.1L235.8 695.1L237.4 695.1L238.9 695.1L240.5 695.1L242 695.1L243.6 695.1L245.1 695.1L246.7 695.1L248.2 695.1L249.7 695.1L251.3 695.1L252.8 695.1L254.4 695.1L255.9 695.1L257.5 695.1L259 695.1L260.6 695.1L262.1 695.1L263.7 695.1L265.2 695.1L266.8 695.1L268.3 695.1L269.9 695.1L271.4 695.1L273 695.1L274.5 695.1L276.1 695.1L277.6 695.1L279.2 695.1L280.7 695.1L282.3 695.1L283.8 695.1L285.4 695.1L286.9 695.1L288.5 695.1L290 695.1L291.6 695.1L293.1 695.1L294.7 695.1L296.2 695.1L297.8 695.1L299.3 695.1L300.9 695.1L302.4 695.1L304 695.1L305.5 695.1L307.1 695.1L308.6 695.1L310.2 695.1L311.7 695.1L313.3 695.1L314.8 695.1L316.4 695.1L317.9 695.1L319.4 695.1L321 695.1L322.5 695.1L324.1 695.1L325.6 695.1L327.2 695.1L328.7 695.1L330.3 695.1L331.8 695.1L333.4 695.1L334.9 695.1L336.5 695.1L338 695.1L339.6 695.1L341.1 695.1L342.7 695.1L344.2 695.1L345.8 695.1L347.3 695.1L348.9 695.1L350.4 695.1L352 695.1L353.5 695.1L355.1 695.1L356.6 695.1L358.2 695.1L359.7 695.1L361.3 695.1L362.8 695.1L364.4 695.1L365.9 695.1L367.5 695.1L369 695.1L370.6 695.1L372.1 695.1L373.7 695.1L375.2 695.1L376.8 695.1L378.3 695.1L379.9 695.1L381.4 695.1L383 695.1L384.5 695.1L386.1 695.1L387.6 695.1L389.1 695.1L390.7 695.1L392.2 695.1L393.8 695.1L395.3 695.1L396.9 695.1L398.4 695.1L400 695.1L401.5 695.1L403.1 695.1L404.6 695.1L406.2 695.1L407.7 695.1L409.3 695.1L410.8 695.1L412.4 695.1L413.9 695.1L415.5 695.1L417 695.1L418.6 695.1L420.1 695.1L421.7 695.1L423.2 695.1L424.8 695.1L426.3 695.1L427.9 695.1L429.4 695.1L431 695.1L432.5 695.1L434.1 695.1L435.6 695.1L437.2 695.1L438.7 695.1L440.3 695.1L441.8 695.1L443.4 695.1L444.9 695.1L446.5 695.1L448 695.1L449.6 695.1L451.1 695.1L452.7 695.1L454.2 695.1L455.7 695.1L457.3 695.1L458.8 695.1L460.4 695.1L461.9 695.1L463.5 695.1L465 695.1L466.6 695.1L468.1 695.1L469.7 695.1L471.2 695.1L472.8 695.1L474.3 695.1L475.9 695.1L477.4 695.1L479 695.1L480.5 695.1L482.1 695.1L483.6 695.1L485.2 695.1L486.7 695.1L488.3 695.1L489.8 695.1L491.4 695.1L492.9 695.1L494.5 695.1L496 695.1L497.6 695.1L499.1 695.1L500.7 695.1L502.2 695.1L503.8 695.1L505.3 695.1L506.9 695.1L508.4 695.1L510 695.1L511.5 695.1L513.1 695.1L514.6 695.1L516.2 695.1L517.7 695.1L519.3 695.1L520.8 695.1L522.4 695.1L523.9 695.1L525.4 695.1L527 695.1L528.5 695.1L530.1 695.1L531.6 695.1L533.2 695.1L534.7 695.1L536.3 695.1L537.8 695.1L539.4 695.1L540.9 695.1L542.5 695.1L544 695.1L545.6 695.1L547.1 695.1L548.7 695.1L550.2 695.1L551.8 695.1L553.3 695.1L554.9 695.1L556.4 695.1L558 695.1L559.5 695.1L561.1 695.1L562.6 695.1L564.2 695.1L565.7 695.1L567.3 695.1L568.8 695.1L570.4 695.1L571.9 695.1L573.5 695.1L575 695.1L576.6 695.1L578.1 695.1L579.7 695.1L581.2 695.1L582.8 695.1L584.3 695.1L585.9 695.1L587.4 695.1L589 695.1L590.5 695.1L592.1 695.1L593.6 695.1L595.1 695.1L596.7 695.1L598.2 695.1L599.8 695.1L601.3 695.1L602.9 695.1L604.4 695.1L606 695.1L607.5 695.1L609.1 695.1L610.6 695.1L612.2 695.1L613.7 695.1L615.3 695.1L616.8 695.1L618.4 695.1L619.9 695.1L621.5 695.1L623 695.1L624.6 695.1L626.1 695.1L627.7 695.1L629.2 695.1L630.8 695.1L632.3 695.1L633.9 695.1L635.4 695.1L637 695.1L638.5 695.1L640.1 695.1L641.6 695.1L643.2 695.1L644.7 695.1L646.3 695.1L647.8 695.1L649.4 695.1L650.9 695.1L652.5 695.1L654 695.1L655.6 695.1L657.1 695.1L658.7 695.1L660.2 695.1L661.7 695.1L663.3 695.1L664.8 695.1L666.4 695.1L667.9 695.1L669.5 695.1L671 695.1L672.6 695.1L674.1 695.1L675.7 695.1L677.2 695.1L678.8 695.1L680.3 695.1L681.9 695.1L683.4 695.1L685 695.1L686.5 695.1L688.1 695.1L689.6 695.1L691.2 695.1L692.7 695.1L694.3 695.1L695.8 695.1L697.4 695.1L698.9 695.1L700.5 695.1L702 695.1L703.6 695.1L705.1 695.1L706.7 695.1L708.2 695.1L709.8 695.1L711.3 695.1L712.9 695.1L714.4 695.1L716 695.1L717.5 695.1L719.1 695.1L720.6 695.1L722.2 695.1L723.7 695.1L725.3 695.1L726.8 695.1L728.4 695.1L729.9 695.1L729.9 732.1L728.4 732.1L726.8 732.1L725.3 732.1L723.7 732.1L722.2 732.1L720.6 732.1L719.1 732.1L717.5 732.1L716 732.1L714.4 732.1L712.9 732.1L711.3 732.1L709.8 732.1L708.2 732.1L706.7 732.1L705.1 732.1L703.6 732.1L702 732.1L700.5 732.1L698.9 732.1L697.4 732.1L695.8 732.1L694.3 732.1L692.7 732.1L691.2 732.1L689.6 732.1L688.1 732.1L686.5 732.1L685 732.1L683.4 732.1L681.9 732.1L680.3 732.1L678.8 732.1L677.2 732.1L675.7 732.1L674.1 732.1L672.6 732.1L671 732.1L669.5 732.1L667.9 732.1L666.4 732.1L664.8 732.1L663.3 732.1L661.7 732.1L660.2 732.1L658.7 732.1L657.1 732.1L655.6 732.1L654 732.1L652.5 732.1L650.9 732.1L649.4 732.1L647.8 732.1L646.3 732.1L644.7 732.1L643.2 732.1L641.6 732.1L640.1 732.1L638.5 732.1L637 732.1L635.4 732.1L633.9 732.1L632.3 732.1L630.8 732.1L629.2 732.1L627.7 732.1L626.1 732.1L624.6 732.1L623 732.1L621.5 732.1L619.9 732.1L618.4 732.1L616.8 732.1L615.3 732.1L613.7 732.1L612.2 732.1L610.6 732.1L609.1 732.1L607.5 732.1L606 732.1L604.4 732.1L602.9 732.1L601.3 732.1L599.8 732.1L598.2 732.1L596.7 732.1L595.1 732.1L593.6 732.1L592.1 732.1L590.5 732.1L589 732.1L587.4 732.1L585.9 732.1L584.3 732.1L582.8 732.1L581.2 732.1L579.7 732.1L578.1 732.1L576.6 732.1L575 732.1L573.5 732.1L571.9 732.1L570.4 732.1L568.8 732.1L567.3 732.1L565.7 732.1L564.2 732.1L562.6 732.1L561.1 732.1L559.5 732.1L558 732.1L556.4 732.1L554.9 732.1L553.3 732.1L551.8 732.1L550.2 732.1L548.7 732.1L547.1 732.1L545.6 732.1L544 732.1L542.5 732.1L540.9 732.1L539.4 732.1L537.8 732.1L536.3 732.1L534.7 732.1L533.2 732.1L531.6 732.1L530.1 732.1L528.5 732.1L527 732.1L525.4 732.1L523.9 732.1L522.4 732.1L520.8 732.1L519.3 732.1L517.7 732.1L516.2 732.1L514.6 732.1L513.1 732.1L511.5 732.1L510 732.1L508.4 732.1L506.9 732.1L505.3 732.1L503.8 732.1L502.2 732.1L500.7 732.1L499.1 732.1L497.6 732.1L496 732.1L494.5 732.1L492.9 732.1L491.4 732.1L489.8 732.1L488.3 732.1L486.7 732.1L485.2 732.1L483.6 732.1L482.1 732.1L480.5 732.1L479 732.1L477.4 732.1L475.9 732.1L474.3 732.1L472.8 732.1L471.2 732.1L469.7 732.1L468.1 732.1L466.6 732.1L465 732.1L463.5 732.1L461.9 732.1L460.4 732.1L458.8 732.1L457.3 732.1L455.7 732.1L454.2 732.1L452.7 732.1L451.1 732.1L449.6 732.1L448 732.1L446.5 732.1L444.9 732.1L443.4 732.1L441.8 732.1L440.3 732.1L438.7 732.1L437.2 732.1L435.6 732.1L434.1 732.1L432.5 732.1L431 732.1L429.4 732.1L427.9 732.1L426.3 732.1L424.8 732.1L423.2 732.1L421.7 732.1L420.1 732.1L418.6 732.1L417 732.1L415.5 732.1L413.9 732.1L412.4 732.1L410.8 732.1L409.3 732.1L407.7 732.1L406.2 732.1L404.6 732.1L403.1 732.1L401.5 732.1L400 732.1L398.4 732.1L396.9 732.1L395.3 732.1L393.8 732.1L392.2 732.1L390.7 732.1L389.1 732.1L387.6 732.1L386.1 732.1L384.5 732.1L383 732.1L381.4 732.1L379.9 732.1L378.3 732.1L376.8 732.1L375.2 732.1L373.7 732.1L372.1 732.1L370.6 732.1L369 732.1L367.5 732.1L365.9 732.1L364.4 732.1L362.8 732.1L361.3 732.1L359.7 732.1L358.2 732.1L356.6 732.1L355.1 732.1L353.5 732.1L352 732.1L350.4 732.1L348.9 732.1L347.3 732.1L345.8 732.1L344.2 732.1L342.7 732.1L341.1 732.1L339.6 732.1L338 732.1L336.5 732.1L334.9 732.1L333.4 732.1L331.8 732.1L330.3 732.1L328.7 732.1L327.2 732.1L325.6 732.1L324.1 732.1L322.5 732.1L321 732.1L319.4 732.1L317.9 732.1L316.4 732.1L314.8 732.1L313.3 732.1L311.7 732.1L310.2 732.1L308.6 732.1L307.1 732.1L305.5 732.1L304 732.1L302.4 732.1L300.9 732.1L299.3 732.1L297.8 732.1L296.2 732.1L294.7 732.1L293.1 732.1L291.6 732.1L290 732.1L288.5 732.1L286.9 732.1L285.4 732.1L283.8 732.1L282.3 732.1L280.7 732.1L279.2 732.1L277.6 732.1L276.1 732.1L274.5 732.1L273 732.1L271.4 732.1L269.9 732.1L268.3 732.1L266.8 732.1L265.2 732.1L263.7 732.1L262.1 732.1L260.6 732.1L259 732.1L257.5 732.1L255.9 732.1L254.4 732.1L252.8 732.1L251.3 732.1L249.7 732.1L248.2 732.1L246.7 732.1L245.1 732.1L243.6 732.1L242 732.1L240.5 732.1L238.9 732.1L237.4 732.1L235.8 732.1L234.3 732.1L232.7 732.1L231.2 732.1L229.6 732.1L228.1 732.1L226.5 732.1L225 732.1L223.4 732.1L221.9 732.1L220.3 732.1L218.8 732.1L217.2 732.1L215.7 732.1L214.1 732.1L212.6 732.1L211 732.1L209.5 732.1L207.9 732.1L206.4 732.1L204.8 732.1L203.3 732.1L201.7 732.1L200.2 732.1L198.6 732.1L197.1 732.1L195.5 732.1L194 732.1L192.4 732.1L190.9 732.1L189.3 732.1L187.8 732.1L186.2 732.1L184.7 732.1L183.1 732.1L181.6 732.1L180.1 732.1L178.5 732.1L177 732.1L175.4 732.1L173.9 732.1L172.3 732.1L170.8 732.1L169.2 732.1L167.7 732.1L166.1 732.1L164.6 732.1L163 732.1L161.5 732.1L159.9 732.1L158.4 732.1L156.8 732.1L155.3 732.1L153.7 732.1L152.2 732.1L150.6 732.1L149.1 732.1L147.5 732.1L146 732.1L144.4 732.1L142.9 732.1L141.3 732.1L139.8 732.1L138.2 732.1L136.7 732.1L135.1 732.1L133.6 732.1L132 732.1L130.5 732.1L128.9 732.1L127.4 732.1L125.8 732.1L124.3 732.1L122.7 732.1L121.2 732.1L119.6 732.1L118.1 732.1L116.5 732.1L115 732.1L113.4 732.1L111.9 732.1ZM111.9 1082.8L113.4 1082.8L115 1082.8L116.5 1082.8L118.1 1082.8L119.6 1082.8L121.2 1082.8L122.7 1082.8L124.3 1082.8L125.8 1082.8L127.4 1082.8L128.9 1082.8L130.5 1082.8L132 1082.8L133.6 1082.8L135.1 1082.8L136.7 1082.8L138.2 1082.8L139.8 1082.8L141.3 1082.8L142.9 1082.8L144.4 1082.8L146 1082.8L147.5 1082.8L149.1 1082.8L150.6 1082.8L152.2 1082.8L153.7 1082.8L155.3 1082.8L156.8 1082.8L158.4 1082.8L159.9 1082.8L161.5 1082.8L163 1082.8L164.6 1082.8L166.1 1082.8L167.7 1082.8L169.2 1082.8L170.8 1082.8L172.3 1082.8L173.9 1082.8L175.4 1082.8L177 1082.8L178.5 1082.8L180.1 1082.8L181.6 1082.8L183.1 1082.8L184.7 1082.8L186.2 1082.8L187.8 1082.8L189.3 1082.8L190.9 1082.8L192.4 1082.8L194 1082.8L195.5 1082.8L197.1 1082.8L198.6 1082.8L200.2 1082.8L201.7 1082.8L203.3 1082.8L204.8 1082.8L206.4 1082.8L207.9 1082.8L209.5 1082.8L211 1082.8L212.6 1082.8L214.1 1082.8L215.7 1082.8L217.2 1082.8L218.8 1082.8L220.3 1082.8L221.9 1082.8L223.4 1082.8L225 1082.8L226.5 1082.9L228.1 1083.1L229.6 1083.5L231.2 1084.1L232.7 1084.8L234.3 1085.7L235.8 1086.7L237.4 1087.8L238.9 1089.2L240.5 1090.7L242 1092.3L243.6 1094.1L245.1 1096L246.7 1098L248.2 1099.9L249.7 1101.8L251.3 1103.8L252.8 1105.7L254.4 1107.7L255.9 1109.6L257.5 1111.6L259 1113.5L260.6 1115.4L262.1 1117.4L263.7 1119.3L265.2 1121.3L266.8 1123.2L268.3 1125.2L269.9 1127.1L271.4 1129L273 1131L274.5 1132.9L276.1 1134.9L277.6 1136.8L279.2 1138.8L280.7 1140.7L282.3 1142.6L283.8 1144.5L285.4 1146.3L286.9 1147.9L288.5 1149.3L290 1150.6L291.6 1151.7L293.1 1152.7L294.7 1153.5L296.2 1154.1L297.8 1154.6L299.3 1155L300.9 1155.2L302.4 1155.2L304 1155.2L305.5 1155.2L307.1 1155.2L308.6 1155.2L310.2 1155.2L311.7 1155.2L313.3 1155.2L314.8 1155.2L316.4 1155.2L317.9 1155.2L319.4 1155.2L321 1155.2L322.5 1155.2L324.1 1155.2L325.6 1155.2L327.2 1155.2L328.7 1155.2L330.3 1155.2L331.8 1155.2L333.4 1155.2L334.9 1155.2L336.5 1155.2L338 1155.2L339.6 1155.2L341.1 1155.2L342.7 1155.2L344.2 1155.2L345.8 1155.2L347.3 1155.2L348.9 1155.2L350.4 1155.2L352 1155.2L353.5 1155.2L355.1 1155.2L356.6 1155.2L358.2 1155.2L359.7 1155.2L361.3 1155.2L362.8 1155.2L364.4 1155.2L365.9 1155.2L367.5 1155.2L369 1155.2L370.6 1155.2L372.1 1155.2L373.7 1155.2L375.2 1155.2L376.8 1155.2L378.3 1155.2L379.9 1155.2L381.4 1155.2L383 1155.2L384.5 1155.2L386.1 1155.2L387.6 1155.2L389.1 1155.2L390.7 1155.2L392.2 1155.2L393.8 1155.2L395.3 1155.2L396.9 1155.2L398.4 1155.2L400 1155.2L401.5 1155.2L403.1 1155.2L404.6 1155.2L406.2 1155.2L407.7 1155.2L409.3 1155.2L410.8 1155.2L412.4 1155.2L413.9 1155.2L415.5 1155.2L417 1155.2L418.6 1155.2L420.1 1155.2L421.7 1155.2L423.2 1155.2L424.8 1155.2L426.3 1155.2L427.9 1155.2L429.4 1155.2L431 1155.2L432.5 1155.2L434.1 1155.2L435.6 1155.2L437.2 1155.2L438.7 1155.2L440.3 1155.2L441.8 1155.2L443.4 1155.2L444.9 1155.2L446.5 1155.2L448 1155.2L449.6 1155.2L451.1 1155.2L452.7 1155.2L454.2 1155.2L455.7 1155.2L457.3 1155.2L458.8 1155.2L460.4 1155.2L461.9 1155.2L463.5 1155.2L465 1155.2L466.6 1155.2L468.1 1155.2L469.7 1155.2L471.2 1155.2L472.8 1155.2L474.3 1155.2L475.9 1155.2L477.4 1155.2L479 1155.2L480.5 1155.2L482.1 1155.2L483.6 1155.2L485.2 1155.2L486.7 1155.2L488.3 1155.2L489.8 1155.2L491.4 1155.2L492.9 1155.2L494.5 1155.2L496 1155.2L497.6 1155.2L499.1 1155.2L500.7 1155.2L502.2 1155.2L503.8 1155.2L505.3 1155.2L506.9 1155.2L508.4 1155.2L510 1155.2L511.5 1155.2L513.1 1155.2L514.6 1155.2L516.2 1155.2L517.7 1155.2L519.3 1155.2L520.8 1155.2L522.4 1155.2L523.9 1155.2L525.4 1155.2L527 1155.2L528.5 1155.2L530.1 1155.2L531.6 1155.2L533.2 1155.2L534.7 1155.2L536.3 1155.2L537.8 1155.2L539.4 1155.2L540.9 1155.2L542.5 1155L544 1154.6L545.6 1154.1L547.1 1153.5L548.7 1152.7L550.2 1151.7L551.8 1150.6L553.3 1149.3L554.9 1147.9L556.4 1146.3L558 1144.5L559.5 1142.6L561.1 1140.7L562.6 1138.8L564.2 1136.8L565.7 1134.9L567.3 1132.9L568.8 1131L570.4 1129L571.9 1127.1L573.5 1125.2L575 1123.2L576.6 1121.3L578.1 1119.3L579.7 1117.4L581.2 1115.4L582.8 1113.5L584.3 1111.6L585.9 1109.6L587.4 1107.7L589 1105.7L590.5 1103.8L592.1 1101.8L593.6 1099.9L595.1 1098L596.7 1096L598.2 1094.1L599.8 1092.3L601.3 1090.7L602.9 1089.2L604.4 1087.8L606 1086.7L607.5 1085.7L609.1 1084.8L610.6 1084.1L612.2 1083.5L613.7 1083.1L615.3 1082.9L616.8 1082.8L618.4 1082.8L619.9 1082.8L621.5 1082.8L623 1082.8L624.6 1082.8L626.1 1082.8L627.7 1082.8L629.2 1082.8L630.8 1082.8L632.3 1082.8L633.9 1082.8L635.4 1082.8L637 1082.8L638.5 1082.8L640.1 1082.8L641.6 1082.8L643.2 1082.8L644.7 1082.8L646.3 1082.8L647.8 1082.8L649.4 1082.8L650.9 1082.8L652.5 1082.8L654 1082.8L655.6 1082.8L657.1 1082.8L658.7 1082.8L660.2 1082.8L661.7 1082.8L663.3 1082.8L664.8 1082.8L666.4 1082.8L667.9 1082.8L669.5 1082.8L671 1082.8L672.6 1082.8L674.1 1082.8L675.7 1082.8L677.2 1082.8L678.8 1082.8L680.3 1082.8L681.9 1082.8L683.4 1082.8L685 1082.8L686.5 1082.8L688.1 1082.8L689.6 1082.8L691.2 1082.8L692.7 1082.8L694.3 1082.8L695.8 1082.8L697.4 1082.8L698.9 1082.8L700.5 1082.8L702 1082.8L703.6 1082.8L705.1 1082.8L706.7 1082.8L708.2 1082.8L709.8 1082.8L711.3 1082.8L712.9 1082.8L714.4 1082.8L716 1082.8L717.5 1082.8L719.1 1082.8L720.6 1082.8L722.2 1082.8L723.7 1082.8L725.3 1082.8L726.8 1082.8L728.4 1082.8L729.9 1082.8L729.9 1142.4L728.4 1142.4L726.8 1142.4L725.3 1142.4L723.7 1142.4L722.2 1142.4L720.6 1142.4L719.1 1142.4L717.5 1142.4L716 1142.4L714.4 1142.4L712.9 1142.4L711.3 1142.4L709.8 1142.4L708.2 1142.4L706.7 1142.4L705.1 1142.4L703.6 1142.4L702 1142.4L700.5 1142.4L698.9 1142.4L697.4 1142.4L695.8 1142.4L694.3 1142.4L692.7 1142.4L691.2 1142.4L689.6 1142.4L688.1 1142.4L686.5 1142.4L685 1142.4L683.4 1142.4L681.9 1142.4L680.3 1142.4L678.8 1142.4L677.2 1142.4L675.7 1142.4L674.1 1142.4L672.6 1142.4L671 1142.4L669.5 1142.4L667.9 1142.4L666.4 1142.4L664.8 1142.4L663.3 1142.4L661.7 1142.4L660.2 1142.4L658.7 1142.4L657.1 1142.4L655.6 1142.4L654 1142.4L652.5 1142.4L650.9 1142.4L649.4 1142.4L647.8 1142.4L646.3 1142.4L644.7 1142.4L643.2 1142.4L641.6 1142.4L640.1 1142.4L638.5 1142.4L637 1142.4L635.4 1142.4L633.9 1142.4L632.3 1142.4L630.8 1142.4L629.2 1142.4L627.7 1142.4L626.1 1142.4L624.6 1142.4L623 1142.4L621.5 1142.4L619.9 1142.4L618.4 1142.4L616.8 1142.4L615.3 1142.4L613.7 1142.7L612.2 1143.1L610.6 1143.6L609.1 1144.3L607.5 1145.2L606 1146.2L604.4 1147.4L602.9 1148.7L601.3 1150.2L599.8 1151.8L598.2 1153.6L596.7 1155.5L595.1 1157.5L593.6 1159.4L592.1 1161.4L590.5 1163.3L589 1165.3L587.4 1167.2L585.9 1169.1L584.3 1171.1L582.8 1173L581.2 1175L579.7 1176.9L578.1 1178.9L576.6 1180.8L575 1182.7L573.5 1184.7L571.9 1186.6L570.4 1188.6L568.8 1190.5L567.3 1192.5L565.7 1194.4L564.2 1196.3L562.6 1198.3L561.1 1200.2L559.5 1202.2L558 1204.1L556.4 1205.8L554.9 1207.4L553.3 1208.8L551.8 1210.1L550.2 1211.2L548.7 1212.2L547.1 1213L545.6 1213.7L544 1214.2L542.5 1214.5L540.9 1214.7L539.4 1214.7L537.8 1214.7L536.3 1214.7L534.7 1214.7L533.2 1214.7L531.6 1214.7L530.1 1214.7L528.5 1214.7L527 1214.7L525.4 1214.7L523.9 1214.7L522.4 1214.7L520.8 1214.7L519.3 1214.7L517.7 1214.7L516.2 1214.7L514.6 1214.7L513.1 1214.7L511.5 1214.7L510 1214.7L508.4 1214.7L506.9 1214.7L505.3 1214.7L503.8 1214.7L502.2 1214.7L500.7 1214.7L499.1 1214.7L497.6 1214.7L496 1214.7L494.5 1214.7L492.9 1214.7L491.4 1214.7L489.8 1214.7L488.3 1214.7L486.7 1214.7L485.2 1214.7L483.6 1214.7L482.1 1214.7L480.5 1214.7L479 1214.7L477.4 1214.7L475.9 1214.7L474.3 1214.7L472.8 1214.7L471.2 1214.7L469.7 1214.7L468.1 1214.7L466.6 1214.7L465 1214.7L463.5 1214.7L461.9 1214.7L460.4 1214.7L458.8 1214.7L457.3 1214.7L455.7 1214.7L454.2 1214.7L452.7 1214.7L451.1 1214.7L449.6 1214.7L448 1214.7L446.5 1214.7L444.9 1214.7L443.4 1214.7L441.8 1214.7L440.3 1214.7L438.7 1214.7L437.2 1214.7L435.6 1214.7L434.1 1214.7L432.5 1214.7L431 1214.7L429.4 1214.7L427.9 1214.7L426.3 1214.7L424.8 1214.7L423.2 1214.7L421.7 1214.7L420.1 1214.7L418.6 1214.7L417 1214.7L415.5 1214.7L413.9 1214.7L412.4 1214.7L410.8 1214.7L409.3 1214.7L407.7 1214.7L406.2 1214.7L404.6 1214.7L403.1 1214.7L401.5 1214.7L400 1214.7L398.4 1214.7L396.9 1214.7L395.3 1214.7L393.8 1214.7L392.2 1214.7L390.7 1214.7L389.1 1214.7L387.6 1214.7L386.1 1214.7L384.5 1214.7L383 1214.7L381.4 1214.7L379.9 1214.7L378.3 1214.7L376.8 1214.7L375.2 1214.7L373.7 1214.7L372.1 1214.7L370.6 1214.7L369 1214.7L367.5 1214.7L365.9 1214.7L364.4 1214.7L362.8 1214.7L361.3 1214.7L359.7 1214.7L358.2 1214.7L356.6 1214.7L355.1 1214.7L353.5 1214.7L352 1214.7L350.4 1214.7L348.9 1214.7L347.3 1214.7L345.8 1214.7L344.2 1214.7L342.7 1214.7L341.1 1214.7L339.6 1214.7L338 1214.7L336.5 1214.7L334.9 1214.7L333.4 1214.7L331.8 1214.7L330.3 1214.7L328.7 1214.7L327.2 1214.7L325.6 1214.7L324.1 1214.7L322.5 1214.7L321 1214.7L319.4 1214.7L317.9 1214.7L316.4 1214.7L314.8 1214.7L313.3 1214.7L311.7 1214.7L310.2 1214.7L308.6 1214.7L307.1 1214.7L305.5 1214.7L304 1214.7L302.4 1214.7L300.9 1214.7L299.3 1214.5L297.8 1214.2L296.2 1213.7L294.7 1213L293.1 1212.2L291.6 1211.2L290 1210.1L288.5 1208.8L286.9 1207.4L285.4 1205.8L283.8 1204.1L282.3 1202.2L280.7 1200.2L279.2 1198.3L277.6 1196.3L276.1 1194.4L274.5 1192.5L273 1190.5L271.4 1188.6L269.9 1186.6L268.3 1184.7L266.8 1182.7L265.2 1180.8L263.7 1178.9L262.1 1176.9L260.6 1175L259 1173L257.5 1171.1L255.9 1169.1L254.4 1167.2L252.8 1165.3L251.3 1163.3L249.7 1161.4L248.2 1159.4L246.7 1157.5L245.1 1155.5L243.6 1153.6L242 1151.8L240.5 1150.2L238.9 1148.7L237.4 1147.4L235.8 1146.2L234.3 1145.2L232.7 1144.3L231.2 1143.6L229.6 1143.1L228.1 1142.7L226.5 1142.4L225 1142.4L223.4 1142.4L221.9 1142.4L220.3 1142.4L218.8 1142.4L217.2 1142.4L215.7 1142.4L214.1 1142.4L212.6 1142.4L211 1142.4L209.5 1142.4L207.9 1142.4L206.4 1142.4L204.8 1142.4L203.3 1142.4L201.7 1142.4L200.2 1142.4L198.6 1142.4L197.1 1142.4L195.5 1142.4L194 1142.4L192.4 1142.4L190.9 1142.4L189.3 1142.4L187.8 1142.4L186.2 1142.4L184.7 1142.4L183.1 1142.4L181.6 1142.4L180.1 1142.4L178.5 1142.4L177 1142.4L175.4 1142.4L173.9 1142.4L172.3 1142.4L170.8 1142.4L169.2 1142.4L167.7 1142.4L166.1 1142.4L164.6 1142.4L163 1142.4L161.5 1142.4L159.9 1142.4L158.4 1142.4L156.8 1142.4L155.3 1142.4L153.7 1142.4L152.2 1142.4L150.6 1142.4L149.1 1142.4L147.5 1142.4L146 1142.4L144.4 1142.4L142.9 1142.4L141.3 1142.4L139.8 1142.4L138.2 1142.4L136.7 1142.4L135.1 1142.4L133.6 1142.4L132 1142.4L130.5 1142.4L128.9 1142.4L127.4 1142.4L125.8 1142.4L124.3 1142.4L122.7 1142.4L121.2 1142.4L119.6 1142.4L118.1 1142.4L116.5 1142.4L115 1142.4L113.4 1142.4L111.9 1142.4ZM111.9 1546.3L113.4 1546.3L115 1546.3L116.5 1546.3L118.1 1546.3L119.6 1546.3L121.2 1546.3L122.7 1546.3L124.3 1546.3L125.8 1546.3L127.4 1546.3L128.9 1546.3L130.5 1546.3L132 1546.3L133.6 1546.3L135.1 1546.3L136.7 1546.3L138.2 1546.3L139.8 1546.3L141.3 1546.3L142.9 1546.3L144.4 1546.3L146 1546.3L147.5 1546.3L149.1 1546.3L150.6 1546.3L152.2 1546.3L153.7 1546.3L155.3 1546.3L156.8 1546.3L158.4 1546.3L159.9 1546.3L161.5 1546.3L163 1546.3L164.6 1546.3L166.1 1546.3L167.7 1546.3L169.2 1546.3L170.8 1546.3L172.3 1546.3L173.9 1546.3L175.4 1546.3L177 1546.3L178.5 1546.3L180.1 1546.3L181.6 1546.3L183.1 1546.3L184.7 1546.3L186.2 1546.3L187.8 1546.3L189.3 1546.3L190.9 1546.3L192.4 1546.3L194 1546.3L195.5 1546.3L197.1 1546.3L198.6 1546.3L200.2 1546.3L201.7 1546.3L203.3 1546.3L204.8 1546.3L206.4 1546.3L207.9 1546.3L209.5 1546.3L211 1546.3L212.6 1546.3L214.1 1546.3L215.7 1546.3L217.2 1546.3L218.8 1546.3L220.3 1546.3L221.9 1546.3L223.4 1546.3L225 1546.3L226.5 1546.3L228.1 1546.3L229.6 1546.3L231.2 1546.3L232.7 1546.3L234.3 1546.3L235.8 1546.3L237.4 1546.3L238.9 1546.3L240.5 1546.3L242 1546.3L243.6 1546.3L245.1 1546.3L246.7 1546.3L248.2 1546.3L249.7 1546.3L251.3 1546.3L252.8 1546.3L254.4 1546.3L255.9 1546.3L257.5 1546.3L259 1546.3L260.6 1546.3L262.1 1546.3L263.7 1546.3L265.2 1546.3L266.8 1546.3L268.3 1546.3L269.9 1546.3L271.4 1546.3L273 1546.3L274.5 1546.3L276.1 1546.3L277.6 1546.3L279.2 1546.3L280.7 1546.3L282.3 1546.3L283.8 1546.3L285.4 1546.3L286.9 1546.3L288.5 1546.3L290 1546.3L291.6 1546.3L293.1 1546.3L294.7 1546.3L296.2 1546.3L297.8 1546.3L299.3 1546.3L300.9 1546.3L302.4 1546.3L304 1546.3L305.5 1546.3L307.1 1546.3L308.6 1546.3L310.2 1546.3L311.7 1546.3L313.3 1546.3L314.8 1546.3L316.4 1546.3L317.9 1546.3L319.4 1546.3L321 1546.3L322.5 1546.3L324.1 1546.3L325.6 1546.3L327.2 1546.3L328.7 1546.3L330.3 1546.3L331.8 1546.3L333.4 1546.3L334.9 1546.3L336.5 1546.3L338 1546.3L339.6 1546.3L341.1 1546.3L342.7 1546.3L344.2 1546.3L345.8 1546.3L347.3 1546.3L348.9 1546.3L350.4 1546.3L352 1546.3L353.5 1546.3L355.1 1546.3L356.6 1546.3L358.2 1546.3L359.7 1546.3L361.3 1546.3L362.8 1546.3L364.4 1546.3L365.9 1546.3L367.5 1546.3L369 1546.3L370.6 1546.3L372.1 1546.3L373.7 1546.3L375.2 1546.3L376.8 1546.3L378.3 1546.3L379.9 1546.3L381.4 1546.3L383 1546.3L384.5 1546.3L386.1 1546.3L387.6 1546.3L389.1 1546.3L390.7 1546.3L392.2 1546.3L393.8 1546.3L395.3 1546.3L396.9 1546.3L398.4 1546.3L400 1546.3L401.5 1546.3L403.1 1546.3L404.6 1546.3L406.2 1546.3L407.7 1546.3L409.3 1546.3L410.8 1546.3L412.4 1546.3L413.9 1546.3L415.5 1546.3L417 1546.3L418.6 1546.3L420.1 1546.3L421.7 1546.3L423.2 1546.3L424.8 1546.3L426.3 1546.3L427.9 1546.3L429.4 1546.3L431 1546.3L432.5 1546.3L434.1 1546.3L435.6 1546.3L437.2 1546.3L438.7 1546.3L440.3 1546.3L441.8 1546.3L443.4 1546.3L444.9 1546.3L446.5 1546.3L448 1546.3L449.6 1546.3L451.1 1546.3L452.7 1546.3L454.2 1546.3L455.7 1546.3L457.3 1546.3L458.8 1546.3L460.4 1546.3L461.9 1546.3L463.5 1546.3L465 1546.3L466.6 1546.3L468.1 1546.3L469.7 1546.3L471.2 1546.3L472.8 1546.3L474.3 1546.3L475.9 1546.3L477.4 1546.3L479 1546.3L480.5 1546.3L482.1 1546.3L483.6 1546.3L485.2 1546.3L486.7 1546.3L488.3 1546.3L489.8 1546.3L491.4 1546.3L492.9 1546.3L494.5 1546.3L496 1546.3L497.6 1546.3L499.1 1546.3L500.7 1546.3L502.2 1546.3L503.8 1546.3L505.3 1546.3L506.9 1546.3L508.4 1546.3L510 1546.3L511.5 1546.3L513.1 1546.3L514.6 1546.3L516.2 1546.3L517.7 1546.3L519.3 1546.3L520.8 1546.3L522.4 1546.3L523.9 1546.3L525.4 1546.3L527 1546.3L528.5 1546.3L530.1 1546.3L531.6 1546.3L533.2 1546.3L534.7 1546.3L536.3 1546.3L537.8 1546.3L539.4 1546.3L540.9 1546.3L542.5 1546.3L544 1546.3L545.6 1546.3L547.1 1546.3L548.7 1546.3L550.2 1546.3L551.8 1546.3L553.3 1546.3L554.9 1546.3L556.4 1546.3L558 1546.3L559.5 1546.3L561.1 1546.3L562.6 1546.3L564.2 1546.3L565.7 1546.3L567.3 1546.3L568.8 1546.3L570.4 1546.3L571.9 1546.3L573.5 1546.3L575 1546.3L576.6 1546.3L578.1 1546.3L579.7 1546.3L581.2 1546.3L582.8 1546.3L584.3 1546.3L585.9 1546.3L587.4 1546.3L589 1546.3L590.5 1546.3L592.1 1546.3L593.6 1546.3L595.1 1546.3L596.7 1546.3L598.2 1546.3L599.8 1546.3L601.3 1546.3L602.9 1546.3L604.4 1546.3L606 1546.3L607.5 1546.3L609.1 1546.3L610.6 1546.3L612.2 1546.3L613.7 1546.3L615.3 1546.3L616.8 1546.3L618.4 1546.3L619.9 1546.3L621.5 1546.3L623 1546.3L624.6 1546.3L626.1 1546.3L627.7 1546.3L629.2 1546.3L630.8 1546.3L632.3 1546.3L633.9 1546.3L635.4 1546.3L637 1546.3L638.5 1546.3L640.1 1546.3L641.6 1546.3L643.2 1546.3L644.7 1546.3L646.3 1546.3L647.8 1546.3L649.4 1546.3L650.9 1546.3L652.5 1546.3L654 1546.3L655.6 1546.3L657.1 1546.3L658.7 1546.3L660.2 1546.3L661.7 1546.3L663.3 1546.3L664.8 1546.3L666.4 1546.3L667.9 1546.3L669.5 1546.3L671 1546.3L672.6 1546.3L674.1 1546.3L675.7 1546.3L677.2 1546.3L678.8 1546.3L680.3 1546.3L681.9 1546.3L683.4 1546.3L685 1546.3L686.5 1546.3L688.1 1546.3L689.6 1546.3L691.2 1546.3L692.7 1546.3L694.3 1546.3L695.8 1546.3L697.4 1546.3L698.9 1546.3L700.5 1546.3L702 1546.3L703.6 1546.3L705.1 1546.3L706.7 1546.3L708.2 1546.3L709.8 1546.3L711.3 1546.3L712.9 1546.3L714.4 1546.3L716 1546.3L717.5 1546.3L719.1 1546.3L720.6 1546.3L722.2 1546.3L723.7 1546.3L725.3 1546.3L726.8 1546.3L728.4 1546.3L729.9 1546.3L729.9 1583.3L728.4 1583.3L726.8 1583.3L725.3 1583.3L723.7 1583.3L722.2 1583.3L720.6 1583.3L719.1 1583.3L717.5 1583.3L716 1583.3L714.4 1583.3L712.9 1583.3L711.3 1583.3L709.8 1583.3L708.2 1583.3L706.7 1583.3L705.1 1583.3L703.6 1583.3L702 1583.3L700.5 1583.3L698.9 1583.3L697.4 1583.3L695.8 1583.3L694.3 1583.3L692.7 1583.3L691.2 1583.3L689.6 1583.3L688.1 1583.3L686.5 1583.3L685 1583.3L683.4 1583.3L681.9 1583.3L680.3 1583.3L678.8 1583.3L677.2 1583.3L675.7 1583.3L674.1 1583.3L672.6 1583.3L671 1583.3L669.5 1583.3L667.9 1583.3L666.4 1583.3L664.8 1583.3L663.3 1583.3L661.7 1583.3L660.2 1583.3L658.7 1583.3L657.1 1583.3L655.6 1583.3L654 1583.3L652.5 1583.3L650.9 1583.3L649.4 1583.3L647.8 1583.3L646.3 1583.3L644.7 1583.3L643.2 1583.3L641.6 1583.3L640.1 1583.3L638.5 1583.3L637 1583.3L635.4 1583.3L633.9 1583.3L632.3 1583.3L630.8 1583.3L629.2 1583.3L627.7 1583.3L626.1 1583.3L624.6 1583.3L623 1583.3L621.5 1583.3L619.9 1583.3L618.4 1583.3L616.8 1583.3L615.3 1583.3L613.7 1583.3L612.2 1583.3L610.6 1583.3L609.1 1583.3L607.5 1583.3L606 1583.3L604.4 1583.3L602.9 1583.3L601.3 1583.3L599.8 1583.3L598.2 1583.3L596.7 1583.3L595.1 1583.3L593.6 1583.3L592.1 1583.3L590.5 1583.3L589 1583.3L587.4 1583.3L585.9 1583.3L584.3 1583.3L582.8 1583.3L581.2 1583.3L579.7 1583.3L578.1 1583.3L576.6 1583.3L575 1583.3L573.5 1583.3L571.9 1583.3L570.4 1583.3L568.8 1583.3L567.3 1583.3L565.7 1583.3L564.2 1583.3L562.6 1583.3L561.1 1583.3L559.5 1583.3L558 1583.3L556.4 1583.3L554.9 1583.3L553.3 1583.3L551.8 1583.3L550.2 1583.3L548.7 1583.3L547.1 1583.3L545.6 1583.3L544 1583.3L542.5 1583.3L540.9 1583.3L539.4 1583.3L537.8 1583.3L536.3 1583.3L534.7 1583.3L533.2 1583.3L531.6 1583.3L530.1 1583.3L528.5 1583.3L527 1583.3L525.4 1583.3L523.9 1583.3L522.4 1583.3L520.8 1583.3L519.3 1583.3L517.7 1583.3L516.2 1583.3L514.6 1583.3L513.1 1583.3L511.5 1583.3L510 1583.3L508.4 1583.3L506.9 1583.3L505.3 1583.3L503.8 1583.3L502.2 1583.3L500.7 1583.3L499.1 1583.3L497.6 1583.3L496 1583.3L494.5 1583.3L492.9 1583.3L491.4 1583.3L489.8 1583.3L488.3 1583.3L486.7 1583.3L485.2 1583.3L483.6 1583.3L482.1 1583.3L480.5 1583.3L479 1583.3L477.4 1583.3L475.9 1583.3L474.3 1583.3L472.8 1583.3L471.2 1583.3L469.7 1583.3L468.1 1583.3L466.6 1583.3L465 1583.3L463.5 1583.3L461.9 1583.3L460.4 1583.3L458.8 1583.3L457.3 1583.3L455.7 1583.3L454.2 1583.3L452.7 1583.3L451.1 1583.3L449.6 1583.3L448 1583.3L446.5 1583.3L444.9 1583.3L443.4 1583.3L441.8 1583.3L440.3 1583.3L438.7 1583.3L437.2 1583.3L435.6 1583.3L434.1 1583.3L432.5 1583.3L431 1583.3L429.4 1583.3L427.9 1583.3L426.3 1583.3L424.8 1583.3L423.2 1583.3L421.7 1583.3L420.1 1583.3L418.6 1583.3L417 1583.3L415.5 1583.3L413.9 1583.3L412.4 1583.3L410.8 1583.3L409.3 1583.3L407.7 1583.3L406.2 1583.3L404.6 1583.3L403.1 1583.3L401.5 1583.3L400 1583.3L398.4 1583.3L396.9 1583.3L395.3 1583.3L393.8 1583.3L392.2 1583.3L390.7 1583.3L389.1 1583.3L387.6 1583.3L386.1 1583.3L384.5 1583.3L383 1583.3L381.4 1583.3L379.9 1583.3L378.3 1583.3L376.8 1583.3L375.2 1583.3L373.7 1583.3L372.1 1583.3L370.6 1583.3L369 1583.3L367.5 1583.3L365.9 1583.3L364.4 1583.3L362.8 1583.3L361.3 1583.3L359.7 1583.3L358.2 1583.3L356.6 1583.3L355.1 1583.3L353.5 1583.3L352 1583.3L350.4 1583.3L348.9 1583.3L347.3 1583.3L345.8 1583.3L344.2 1583.3L342.7 1583.3L341.1 1583.3L339.6 1583.3L338 1583.3L336.5 1583.3L334.9 1583.3L333.4 1583.3L331.8 1583.3L330.3 1583.3L328.7 1583.3L327.2 1583.3L325.6 1583.3L324.1 1583.3L322.5 1583.3L321 1583.3L319.4 1583.3L317.9 1583.3L316.4 1583.3L314.8 1583.3L313.3 1583.3L311.7 1583.3L310.2 1583.3L308.6 1583.3L307.1 1583.3L305.5 1583.3L304 1583.3L302.4 1583.3L300.9 1583.3L299.3 1583.3L297.8 1583.3L296.2 1583.3L294.7 1583.3L293.1 1583.3L291.6 1583.3L290 1583.3L288.5 1583.3L286.9 1583.3L285.4 1583.3L283.8 1583.3L282.3 1583.3L280.7 1583.3L279.2 1583.3L277.6 1583.3L276.1 1583.3L274.5 1583.3L273 1583.3L271.4 1583.3L269.9 1583.3L268.3 1583.3L266.8 1583.3L265.2 1583.3L263.7 1583.3L262.1 1583.3L260.6 1583.3L259 1583.3L257.5 1583.3L255.9 1583.3L254.4 1583.3L252.8 1583.3L251.3 1583.3L249.7 1583.3L248.2 1583.3L246.7 1583.3L245.1 1583.3L243.6 1583.3L242 1583.3L240.5 1583.3L238.9 1583.3L237.4 1583.3L235.8 1583.3L234.3 1583.3L232.7 1583.3L231.2 1583.3L229.6 1583.3L228.1 1583.3L226.5 1583.3L225 1583.3L223.4 1583.3L221.9 1583.3L220.3 1583.3L218.8 1583.3L217.2 1583.3L215.7 1583.3L214.1 1583.3L212.6 1583.3L211 1583.3L209.5 1583.3L207.9 1583.3L206.4 1583.3L204.8 1583.3L203.3 1583.3L201.7 1583.3L200.2 1583.3L198.6 1583.3L197.1 1583.3L195.5 1583.3L194 1583.3L192.4 1583.3L190.9 1583.3L189.3 1583.3L187.8 1583.3L186.2 1583.3L184.7 1583.3L183.1 1583.3L181.6 1583.3L180.1 1583.3L178.5 1583.3L177 1583.3L175.4 1583.3L173.9 1583.3L172.3 1583.3L170.8 1583.3L169.2 1583.3L167.7 1583.3L166.1 1583.3L164.6 1583.3L163 1583.3L161.5 1583.3L159.9 1583.3L158.4 1583.3L156.8 1583.3L155.3 1583.3L153.7 1583.3L152.2 1583.3L150.6 1583.3L149.1 1583.3L147.5 1583.3L146 1583.3L144.4 1583.3L142.9 1583.3L141.3 1583.3L139.8 1583.3L138.2 1583.3L136.7 1583.3L135.1 1583.3L133.6 1583.3L132 1583.3L130.5 1583.3L128.9 1583.3L127.4 1583.3L125.8 1583.3L124.3 1583.3L122.7 1583.3L121.2 1583.3L119.6 1583.3L118.1 1583.3L116.5 1583.3L115 1583.3L113.4 1583.3L111.9 1583.3Z" fill="#000"/>
<path d="M371.7 429.6h0M366.5 429.5h0M370 435h0M377 440.8h0M368.2 436.6h0M319 333.2h0M370.8 439h0M365.6 436h0M132.9 168.3h0M372.6 442.1h0M369.1 441.3h0M371.4 568.5h0M302.1 329.8h0M319.5 465.4h0M374 569.1h0M433.7 459.7h0M362.9 441.1h0M364.7 442.9h0M393.3 576h0M184.7 161.8h0M374.3 451h0M362.6 557.9h0M446.6 460.5h0M400.3 461.6h0M376.1 453.2h0M336.3 525.7h0M367.3 448.2h0M524 347.1h0M154 49.4h0M263.6 156.3h0M288.1 115.4h0M458.2 460.7h0M381.9 564.7h0M346.6 432.7h0M487.2 442.8h0M373.5 456.5h0M363.8 450.7h0M388.1 464.3h0M545 186.7h0M315.5 324.2h0M246.1 153.2h0M124.2 52.7h0M466.1 560h0M120.7 53.4h0M319.9 357.8h0M448.3 467.7h0M489.8 541.5h0M317.3 338.7h0M147 152.1h0M634.4 54.3h0M399.5 470.1h0M725.6 54.6h0M517.8 488.9h0M559.9 92.8h0M365.3 550.1h0M396 470.1h0M337.9 424.7h0M679.2 150.3h0M324.3 388.3h0M599.4 55.7h0M444.2 565.4h0M235.5 56.1h0M384.9 467h0M320.8 366.8h0M347.7 439.4h0M325.2 394h0M387.2 468.2h0M436.3 566.1h0M582.7 56.8h0M226.8 56.9h0M525.7 342.6h0M189.9 148.8h0M550.1 155.1h0M352.8 445.9h0M187.3 57.5h0M505.3 426.7h0M573.9 148.1h0M440.8 564h0M408.3 475.3h0M318.1 349.7h0M669.5 147.7h0M292.5 152.8h0M544.4 198.1h0M711.8 59.1h0M301.2 305.3h0M447.5 473.8h0M554.4 128.1h0M564.3 164.6h0M354.8 450.3h0M720.4 145.9h0M326.7 404.9h0M202.2 145.8h0M379.6 468.6h0M228.5 145.4h0M642.3 60.5h0M135.3 60.5h0M167.1 145.3h0M403.8 561.7h0M389.9 473.4h0M446.8 475.5h0M272.3 145.4h0M487.2 536.6h0M152.2 60.9h0M424.9 563h0M557.3 196.7h0M135.6 144.7h0M525.7 346.9h0M239.9 144.6h0M699.3 144.6h0M450.3 558.3h0M209.2 61.3h0M536.2 264.3h0M347.7 527.1h0M322.1 463.2h0M358.3 455.7h0M449.2 475.7h0M507.3 509.9h0M395.1 476.3h0M160.1 61.9h0M545.9 271.7h0M377.9 469.5h0M472 465.6h0M630.1 62.1h0M365.3 543.3h0M331.1 500.3h0M580.1 143.3h0M459.1 473h0M406.6 479.4h0M375.2 468.7h0M527.5 335.4h0M340.2 515.8h0M592.4 142.9h0M335.2 427.9h0M317.9 432.6h0M521.3 380.1h0M694.1 63.2h0M280.2 166.5h0M360 537.8h0M392.5 477h0M574.8 63.6h0M628.3 142.1h0M476.8 464.1h0M688.8 63.8h0M666.7 142h0M313.3 396.8h0M234.6 141.9h0M467 548.4h0M332.2 423h0M504 513.2h0M344 442.5h0M588 141.6h0M381.4 473.4h0M614.3 141.5h0M211 64.6h0M197.6 141.2h0M709.6 141h0M418.8 482.9h0M150.5 64.9h0M219.2 65h0M377.8 548.3h0M127.7 140.7h0M330.2 495.3h0M689.7 65.4h0M290.9 149h0M470.5 544.9h0M640 65.6h0M598.7 65.7h0M637.1 65.7h0M669.3 140.1h0M726.5 140h0M422.3 558.2h0M179.4 65.8h0M381.7 549.3h0M647.8 139.9h0M129.4 65.9h0M547.6 254.8h0M675.7 139.9h0M420.8 484.3h0M699.4 139.8h0M415.3 484.1h0M469.6 544.8h0M346.3 521h0M311.1 303.4h0M188.2 139.7h0M233.8 66.2h0M342.8 516.2h0M317.9 429.5h0M303.9 246h0M306.5 339.8h0M604.9 66.5h0M242.5 139.3h0M170.6 66.5h0M236.4 139.2h0M689.7 139.2h0M666.9 66.7h0M357.5 532.5h0M677.4 66.7h0M341.4 441.5h0M451.2 552.3h0M580.4 67h0M380.2 475.8h0M331.1 423.7h0M446.1 553.8h0M270.6 67h0M182.7 67h0M139.9 67.1h0M471.5 471.2h0M532.7 298.3h0M211.9 138.6h0M115.2 67.2h0M729.1 138.5h0M279.7 160h0M611.6 138.5h0M312.7 317.3h0M167.2 67.4h0M481.9 535h0M509.9 428.3h0M478.4 466.8h0M161 138.3h0M575.7 138.3h0M145.2 67.5h0M314.2 400.1h0M403.1 484h0M612.5 67.6h0M459.1 548.7h0M176.8 67.7h0M380.5 476.6h0M675.4 67.8h0M545 272.1h0M187.9 138h0M449.4 551.9h0M182.9 137.9h0M624.8 67.9h0M326.9 413.7h0M586.2 137.8h0M651.1 68h0M724.2 137.6h0M543.9 210.9h0M538.2 325.1h0M197.8 68.3h0M246.2 68.3h0M367.9 539.1h0M144.3 68.3h0M434.5 485.6h0M306.5 269h0M178.5 68.5h0M493.3 522.7h0M362.6 466.2h0M319.7 440.1h0M492.7 454.7h0M450.1 482.5h0M245.3 137.1h0M290.8 219.5h0M261.6 68.8h0M383.1 478.9h0M495.9 519.3h0M357.3 530.1h0M432.8 554.3h0M449.4 550.8h0M343.1 446.1h0M289.9 145.7h0M398.6 484.3h0M349.5 521.8h0M479.4 467.5h0M573.1 136.7h0M286.1 190.6h0M662.5 69.2h0M298.6 275.2h0M424.9 487.4h0M366.1 536.8h0M315.3 406.4h0M371.4 473.3h0M616.1 69.4h0M440.6 552.6h0M283 106.5h0M709 136.3h0M615.5 136.3h0M622.2 136.3h0M218.1 136.2h0M265.3 69.6h0M533.6 293.6h0M232 136.2h0M339.3 507.8h0M397.7 551.2h0M552 154.1h0M405.6 553.1h0M455.9 547.8h0M349.7 521.4h0M309.8 363h0M361.2 466.2h0M614.1 69.7h0M266.2 69.7h0M671.5 136.1h0M276.1 144.8h0M531 381.2h0M484.5 530.3h0M161.9 136h0M403.3 552.4h0M271.5 69.9h0M593.2 135.9h0M307.4 343.1h0M416.1 487.8h0M697.6 70h0M559.1 112.2h0M615.2 135.7h0M405.6 552.7h0M410.9 487.5h0M475.8 471.3h0M184.7 70.1h0M474.7 537.5h0M245.1 135.7h0M357.7 463.6h0M242.6 70.2h0M529.9 389.4h0M596.7 135.5h0M145 70.3h0M639.7 70.3h0M472 474h0M289 206.6h0M558.8 179h0M550.3 231.7h0M688.8 70.5h0M445.7 485.4h0M162.8 70.5h0M680.9 70.5h0M262.9 135.2h0M127.7 70.6h0M258.5 70.6h0M320.3 442.6h0M320.6 444.3h0M112.8 70.7h0M238.1 70.8h0M595.9 135h0M468 476.8h0M473.2 538h0M591.5 135h0M657.3 70.8h0M378.4 542.6h0M545.2 203.7h0M512.5 426.4h0M185.3 134.8h0M297.8 266.9h0M625.5 134.8h0M290.7 153.4h0M313.5 391.3h0M728.5 71h0M175.9 71.1h0M441.6 487.2h0M284.6 180h0M555.3 198.3h0M586.5 71.1h0M245.2 134.7h0M434.5 488.4h0M201.5 71.2h0M520.2 395.2h0M330.5 490h0M324.7 469.7h0M642.4 134.5h0M225.9 134.5h0M503.8 442.9h0M230.5 134.5h0M694.1 71.4h0M213.6 71.5h0M546.8 192.8h0M526.4 352.5h0M133.8 71.5h0M300.4 286.4h0M700.9 134.2h0M583.6 71.7h0M505.7 502.6h0M227.6 134.1h0M159.5 134.1h0M139.1 71.7h0M603.8 71.7h0M543.3 219.3h0M280.4 96.4h0M166.2 134h0M304.6 318.7h0M453 546.8h0M360.9 468.2h0M616.9 133.9h0M539.8 246.8h0M581 133.9h0M358.6 466.2h0M598.8 72h0M131.2 72h0M415.2 551.7h0M327.6 420.2h0M518.9 465.8h0M421.4 551.8h0M233.9 72.2h0M312.5 381.6h0M648.5 133.6h0M482.8 529.3h0M383.7 482.5h0M491.6 459.6h0M650.5 133.5h0M671.3 133.5h0M726.7 133.5h0M630.9 72.3h0M524.6 366.3h0M156.6 133.5h0M169.7 72.3h0M308.3 287.1h0M557.3 124.1h0M246.9 133.4h0M113.6 133.4h0M321.7 388.7h0M130.3 72.4h0M481.9 469h0M664.3 72.5h0M429.3 551.1h0M303.7 311.1h0M523.1 377.6h0M454 545.8h0M284.6 118.1h0M603.8 133.2h0M602.9 133.2h0M424 551.2h0M567 81.3h0M364.4 532.1h0M584.3 72.7h0M687.9 72.7h0M710.5 133.1h0M683.5 72.8h0M170.6 72.8h0M495 456.3h0M556.4 129.6h0M503.8 444.4h0M700.2 72.8h0M563.4 94.5h0M472.4 476.3h0M113.8 72.9h0M517.2 414.4h0M645 132.8h0M463.7 541h0M316.8 414.8h0M377.6 480.4h0M198.5 132.8h0M526.8 410.8h0M398.6 488.5h0M293.4 232.8h0M158.4 73.3h0M320.6 382.3h0M448.6 487.5h0M218.8 132.5h0M336.1 439.8h0M454.7 485.5h0M217.1 73.4h0M274.7 137.3h0M667.7 132.3h0M496.8 454.8h0M239 73.5h0M355.7 465h0M287 191.4h0M561.1 105.5h0M392.5 545.8h0M539.8 307.1h0M587.1 132.1h0M461.8 482.9h0M155.5 132.1h0M205.7 132.1h0M398.8 489.2h0M458.2 484.6h0M353.2 521.1h0M147.8 73.8h0M158.4 131.9h0M720.3 131.9h0M576.6 73.9h0M638 131.9h0M273.2 75.7h0M561.7 103.2h0M498.5 453.1h0M519.8 400.7h0M236.7 73.9h0M226.5 131.9h0M190.8 131.8h0M695.8 74h0M724.8 131.7h0M339.9 446.6h0M465.2 539.3h0M641.5 131.7h0M299.5 219.5h0M677.2 74.2h0M503.6 503.6h0M268.8 131.6h0M692.5 131.6h0M719.5 131.5h0M322.5 396.2h0M426.7 492.3h0M249.5 131.5h0M417.9 549.5h0M682.7 74.4h0M219.5 131.4h0M583.6 131.4h0M382.2 484h0M285.5 181.6h0M151.3 131.4h0M656.4 74.4h0M670.7 131.4h0M629.1 131.4h0M327.8 423.3h0M597.6 74.4h0M330.9 430.6h0M445.2 489.7h0M387.5 486.2h0M257.4 131.3h0M526.6 410.4h0M498.6 510.4h0M131.2 131.3h0M397.7 489.7h0M262.5 74.6h0M403.2 491.1h0M214.2 131.2h0M263.7 131.2h0M162.7 131.2h0M339.6 446.8h0M133.8 74.7h0M521.3 448.1h0M525.9 415.7h0M244.2 74.7h0M643.4 131.1h0M282.6 166.1h0M719.5 131.1h0M601.2 131.1h0M203.2 74.8h0M636.5 74.8h0M328.8 482.3h0M337 442.7h0M495 514.4h0M137.3 74.9h0M131.1 130.9h0M684.6 130.9h0M205.7 130.9h0M437.2 491.9h0M412.6 492.6h0M612.6 130.9h0M252.2 130.8h0M318.2 367.3h0M327.6 479h0M538.9 312.7h0M432.8 548.1h0M631.8 130.7h0M148.7 75.1h0M669.3 130.7h0M154.8 75.1h0M346.9 457.1h0M161.9 75.1h0M360.9 527h0M353.7 520.2h0M644.1 130.7h0M151.3 75.2h0M375.6 536.9h0M660.8 75.2h0M506.2 442.7h0M331.7 433.4h0M450.1 544.5h0M299.5 276.2h0M460 540.6h0M695.3 75.3h0M384.5 541.1h0M563.6 151.4h0M338.7 446.1h0M704.4 130.5h0M519.8 457.5h0M526.6 354.7h0M196.1 130.4h0M455 542.4h0M168 75.4h0M301.4 235.6h0M247.2 75.4h0M579 130.4h0M438 547h0M144.3 130.3h0M226.7 75.5h0M181.1 130.3h0M668.6 75.5h0M119.8 130.3h0M585.4 75.6h0M138.2 75.6h0M527.4 403.1h0M710 130.2h0M595.2 75.6h0M118.9 75.6h0M719.5 75.7h0M444 491.3h0M299.7 277.2h0M114.7 75.7h0M350.3 516.1h0M359.1 524.8h0M540.4 245.6h0M202.5 75.8h0M696.7 130h0M634.5 130h0M652.6 75.8h0M189 129.9h0M513.5 429.3h0M449.5 489.8h0M586.9 75.9h0M161.9 129.9h0M610.8 75.9h0M427.5 547.9h0M184.7 76h0M715.1 129.8h0M475.7 531.1h0M525.5 417.2h0M531.9 367.8h0M444.5 545h0M676.7 76.1h0M232.9 129.7h0M662.8 76.1h0M394.2 543.8h0M499.4 454h0M332.9 436.5h0M160.1 129.6h0M333 490.3h0M428.4 494.1h0M194.3 76.2h0M670.2 76.2h0M183.7 129.6h0M478.4 475.6h0M522.9 382.8h0M606.2 76.2h0M410.6 493.7h0M516.1 475.5h0M575.7 129.5h0M479.3 475h0M244.6 129.4h0M226.7 76.4h0M636.9 129.4h0M543.6 221.8h0M467.8 535.5h0M334.6 492.9h0M464.3 484.5h0M702 129.3h0M261 129.3h0M596.8 76.5h0M205.7 129.3h0M592.4 129.3h0M432.2 494h0M692.3 76.5h0M510 437.5h0M355.6 520.7h0M392.5 490.2h0M625.7 129.2h0M487.1 521h0M201.3 76.6h0M607.3 129.2h0M294.3 183h0M192.6 76.7h0M290.8 159.3h0M455.5 488.4h0M544.8 265.1h0M309.4 300h0M116.4 76.7h0M403 545.5h0M598.5 76.7h0M592.1 129.1h0M681.1 129.1h0M369.4 531.6h0M291.6 217.4h0M118.7 129h0M339.9 449.3h0M381.7 538.3h0M474 531.4h0M696.7 129h0M692.3 129h0M396 491.6h0M642.3 76.9h0M344 455.2h0M683.6 128.9h0M556.4 133.8h0M112 76.9h0M233.2 128.9h0M541.5 238.6h0M685.3 128.8h0M521.5 444.7h0M590.9 77h0M620.4 77h0M378.7 485h0M410.9 546.2h0M379.3 485.2h0M143.2 77.1h0M302.5 296.8h0M180.1 77.1h0M273.2 130.5h0M693.2 77.1h0M657.2 77.1h0M125 77.1h0M669.7 128.7h0M718.6 77.1h0M603.8 77.1h0M418.8 495.3h0M486.3 469.8h0M444.8 492.4h0M453.3 490h0M442.4 493h0M440.7 493.5h0M474.2 479.5h0M643.9 128.5h0M331.1 485.2h0M266.9 77.3h0M492.6 514.7h0M430.2 546.1h0M235.8 77.3h0M423.8 546.5h0M601.1 128.5h0M385.2 539.4h0M660.8 128.4h0M587.9 128.4h0M349.5 513.4h0M369.7 480.1h0M574.2 128.4h0M681.6 128.4h0M576.6 128.3h0M373.3 482.5h0M401.2 544.1h0M438.1 544.9h0M356.3 469.7h0M390.9 490.6h0M570.4 78.4h0M479.2 526.9h0M627.4 77.6h0M195.2 128.2h0M471.4 532.2h0M623.7 128.1h0M456.5 539.8h0M271.4 77.7h0M618.5 128.1h0M345.1 457.6h0M440 494.2h0M239.2 128.1h0M291.6 166h0M296.7 252h0M476.6 478.2h0M568.7 81.9h0M643.9 128h0M200.4 77.8h0M587.1 128h0M181.8 77.8h0M458.4 488.5h0M253.9 127.9h0M259.2 77.9h0M132.1 77.9h0M444 493.5h0M370.6 481.3h0M272.1 78.2h0M220.6 77.9h0M257.6 77.9h0M420.3 545.9h0M700.2 127.8h0M474.9 529.5h0M608.2 127.8h0M678.3 127.8h0M481.2 474.9h0M522.3 438.6h0M606.4 78h0M265.6 127.8h0M248.7 78h0M419.6 496.1h0M652.9 78h0M180.4 127.8h0M308.9 347.6h0M451 491.5h0M582.7 78.1h0M517.9 416h0M469.8 483.1h0M189.1 127.7h0M593.3 78.2h0M463.3 536.1h0M465.3 535.1h0M168.2 127.6h0M409.8 495.7h0M502.4 501.3h0M715.1 127.6h0M475.1 479.9h0M291.6 215.6h0M629.2 78.3h0M437.2 495.2h0M429.3 545.3h0M716.6 78.3h0M313.8 336.7h0M115.4 127.5h0M488.9 517.5h0M254.8 127.5h0M254.6 78.3h0M417 496.4h0M243.6 127.4h0M724.8 78.4h0M126.8 127.4h0M413.5 545.2h0M277.8 92.5h0M160.3 78.4h0M622.2 127.3h0M577.2 127.3h0M281.8 158.2h0M402.8 494.9h0M292.7 173.8h0M237.3 127.3h0M682.7 78.5h0M531 323.6h0M473.1 481.6h0M543.4 273.7h0M440.5 543.5h0M666 127.2h0M644.1 127.2h0M294.3 185.1h0M168.3 127.2h0M227.6 78.6h0M179.7 78.7h0M549.4 181.4h0M191.7 127.1h0M260.1 78.7h0M548 239.8h0M609.9 127h0M236.4 127h0M468.5 532.7h0M492.4 465.2h0M518.7 411.8h0M397.7 493.9h0M318.8 423.7h0M148.5 78.8h0M451.9 492h0M537.8 269.4h0M579.2 78.9h0M411 544.4h0M728.3 78.9h0M212.5 78.9h0M254.1 78.9h0M112.5 78.9h0M717.7 78.9h0M211.8 78.9h0M150.8 126.9h0M486.5 519.2h0M393.5 540.8h0M411.8 496.7h0M280.2 103h0M662.3 79h0M515.2 476.1h0M444.2 542.3h0M597.6 126.8h0M646.7 126.8h0M363.7 525.3h0M359.2 473.8h0M114.5 126.7h0M156.6 79.1h0M699.3 79.1h0M266.4 126.7h0M149.6 126.7h0M415 497h0M479.9 524.7h0M258.3 126.6h0M230.3 126.6h0M381.1 535.6h0M389.8 491.9h0M188.3 126.6h0M208.3 126.6h0M310.1 308.2h0M197.2 126.5h0M362.1 476.3h0M165.3 79.3h0M463.5 487.6h0M272.4 127h0M190.8 79.3h0M306.7 281.2h0M248.7 126.4h0M460.8 536h0M335.5 444.7h0M403.9 495.8h0M588.3 79.4h0M461.9 488.5h0M311.8 369.3h0M218 126.3h0M230.2 79.5h0M122.4 79.5h0M301.9 290.3h0M659 79.5h0M142.4 79.5h0M532.1 315.9h0M517.6 418.7h0M132.9 79.6h0M477.7 479.2h0M293.4 226.8h0M123.3 79.6h0M115.4 126.2h0M504.7 496.5h0M511.5 484h0M347.1 508.5h0M175.7 79.7h0M417.8 544.2h0M373.1 530.9h0M669.5 126.1h0M391.6 539.4h0M706.4 126.1h0M194.5 126h0M501 455.7h0M173.3 126h0M423.1 544.1h0M131.5 79.8h0M479.3 524.6h0M352.3 514.3h0M136.2 79.8h0M339 497.1h0M220.6 125.9h0M255 79.9h0M323.2 451.8h0M651.1 125.9h0M377.6 487.3h0M409.3 497.3h0M417.2 543.8h0M630.7 79.9h0M306.3 324.6h0M324.9 461.9h0M182.3 80h0M429.5 543.6h0M358.3 519.8h0M590.6 125.8h0M455.6 491.7h0M436.5 542.6h0M676.5 80h0M421.2 498.3h0M716.9 80.1h0M378.4 487.8h0M183.6 125.7h0M287.2 140.5h0M640.6 80.1h0M533.6 349.8h0M124.3 125.6h0M611.4 125.6h0M300.4 232.6h0M114.8 80.2h0M342.5 502h0M577.2 80.2h0M228.8 125.6h0M374.7 486h0M629.4 80.2h0M609.9 80.3h0M113.9 125.5h0M440.7 496.5h0M382.6 535.4h0M705.2 80.3h0M308.4 296.1h0M280 148.5h0M468.8 486h0M664.3 125.4h0M695.8 80.4h0M251.1 125.4h0M243.4 80.4h0M591.5 80.4h0M694.2 125.3h0M647.9 80.5h0M607.3 125.3h0M115.4 80.5h0M241.4 80.5h0M445.4 540.4h0M131.2 125.3h0M729.4 125.3h0M395.2 539.8h0M693.4 80.5h0M459.1 491h0M409.3 497.9h0M193.4 125.3h0M599.2 80.6h0M611.7 125.2h0M635.1 125.2h0M615.2 125.2h0M427.6 543.2h0M464.5 488.5h0M595.2 125.1h0M366.2 525.5h0M588.9 80.7h0M255.7 80.7h0M186.4 125.1h0M273 82.1h0M617.8 125.1h0M566.9 133.8h0M484.5 474.9h0M640.6 125.1h0M455.7 536.8h0M168.8 125.1h0M314.6 345.7h0M484.3 519.5h0M185.6 80.8h0M368.8 527.1h0M709.9 125h0M592.6 80.8h0M452.1 538h0M195.8 80.8h0M361.6 477.7h0M524.9 373.1h0M203.3 80.9h0M346 461.9h0M408.2 542.2h0M700.9 80.9h0M555 190.6h0M471.6 528.9h0M264.4 124.9h0M712.5 124.9h0M269.7 124.9h0M612.5 80.9h0M253 124.8h0M645.6 124.8h0M677.4 81h0M295.1 193.7h0M439.8 541.2h0M543 274.3h0M431.2 498.8h0M215.4 124.7h0M439.8 497.5h0M131.8 81.1h0M658.3 81.1h0M396.9 496.1h0M658.3 124.7h0M190.6 124.7h0M227.4 124.7h0M114.5 124.7h0M125.9 124.7h0M116.9 81.1h0M136.4 124.7h0M116.3 124.6h0M656.4 124.6h0M674.2 81.2h0M606.4 124.6h0M665.1 81.2h0M415.9 499.3h0M522 437h0M652 124.6h0M121.5 124.5h0M403.9 497.7h0M696.5 124.5h0M377.3 531.8h0M709 81.3h0M385.7 492.4h0M268.9 81.3h0M210 81.3h0M692.6 81.4h0M198 124.4h0M690.3 81.4h0M648.5 81.4h0M453.2 494.2h0M142.9 81.5h0M304.8 268.1h0M233.8 81.5h0M605.5 124.3h0M472.2 485h0M572.9 124.3h0M626 81.5h0M429.9 542h0M651.8 81.5h0M519.6 409.4h0M703 124.3h0M600.2 81.6h0M172.4 81.6h0M348.4 465.5h0M356.5 473.9h0M372.3 486h0M364.6 480.8h0M530.1 376.3h0M352.2 469.8h0M388.7 493.9h0M569.6 84h0M616.2 81.6h0M128.3 81.6h0M594.8 124.2h0M305.6 275.1h0M224.1 81.7h0M715.3 124.1h0M312.7 373.8h0M509.1 486.6h0M478.5 480.9h0M180.3 124.1h0M490.7 470.2h0M421.4 500h0M168.9 124h0M204.8 123.9h0M619.5 123.9h0M628.3 123.9h0M586.9 123.9h0M218 81.9h0M601.1 123.9h0M607.3 82h0M174.4 82h0M161.6 123.8h0M688.8 82h0M447.7 496.6h0M261.8 82.1h0M240.8 123.7h0M561.7 152.9h0M670.4 82.1h0M298.4 260.7h0M177.9 123.7h0M536.9 279.8h0M559.7 162.7h0M540.6 291.8h0M419.6 541.8h0M550.1 221.5h0M729.1 123.7h0M260.9 123.7h0M555.3 145.7h0M386.3 535.1h0M190.8 82.2h0M687.4 82.2h0M530.9 327.6h0M581.1 123.5h0M566.4 92.8h0M296.9 208.1h0M255.5 82.3h0M476.6 524h0M680.9 82.3h0M714.9 82.3h0M622 82.3h0M289.9 200.2h0M552.7 162.5h0M145.9 123.4h0M726.5 82.4h0M113.4 82.4h0M500.1 459.4h0M424 500.5h0M671.3 123.3h0M638.2 82.5h0M550.6 176.7h0M665.3 123.3h0M206.6 123.2h0M381.9 492.1h0M251.3 82.6h0M558.5 168.7h0M497.5 503.7h0M438.9 499.2h0M567.8 89h0M235.5 123h0M673.9 123h0M691.7 122.9h0M674.7 122.9h0M504.6 453.3h0M308.3 337.5h0M272.5 83.7h0M551.1 173.4h0M118.2 83.1h0M505.6 451.8h0M407.1 539.7h0M218.9 122.6h0M285.7 134.4h0M150.4 122.5h0M689.8 122.5h0M410.8 539.9h0M523.8 383.8h0M158.4 83.3h0M686.2 122.4h0M143.5 122.4h0M460.9 532h0M242.5 122.4h0M522.4 393.4h0M679.5 122.3h0M645.2 83.6h0M318.1 374.8h0M133.8 83.6h0M150.5 83.8h0M728.3 83.8h0M544.2 262.8h0M724.8 122h0M543 233.4h0M568.9 125.7h0M588.9 83.9h0M389.8 534.5h0M527.5 356.5h0M401.2 537.6h0M539.5 298.5h0M504.7 492h0M560.1 121h0M550.9 213.4h0M536.4 323.3h0M496.1 503.7h0M716 84.2h0M245.2 121.6h0M493.4 506.8h0M552.9 200.3h0M155.9 121.5h0M180.3 84.3h0M540.8 288.3h0M585.3 84.4h0M300.6 237.9h0M165.4 84.7h0M554.8 187.5h0M538 273.6h0M548.7 228.4h0M533.6 309.4h0M552.2 204.2h0M308.1 333.5h0M295.3 234.5h0M550.2 217.2h0M324.9 456.8h0M527.6 391.8h0M534.5 337.1h0M488.9 510.4h0M296 239.5h0M112.7 120.3h0M534.3 304.3h0M302.2 251.6h0M521.6 435.6h0M315.1 354.3h0M535.5 328.7h0M522.9 426.5h0M561.6 149.1h0M526.6 399.1h0M537.1 282.3h0M729.3 86.5h0M281.1 114.6h0M552 171.4h0M114.3 86.9h0M284.8 133.3h0M298.8 258.5h0M286.3 173.6h0M727.4 118.6h0M297 214h0M310.3 349.5h0M564.3 136.2h0M297.2 246h0M296 206.8h0M283.8 128.8h0M541.5 278.8h0M524 387.4h0M527.7 359.6h0M536.3 319.8h0M546.2 242.5h0M557.9 137.2h0M533.7 340.7h0M112.8 116.6h0M545.9 244.1h0M727.2 89.7h0M543.9 258.8h0M540.9 255.4h0M311.8 332.7h0M521.4 432.6h0M115.4 90h0M537.4 283.6h0M113.9 90.3h0M562.6 140.6h0M729.8 114.7h0M528.4 356.8h0M295.2 204.5h0M299.3 257.8h0M729.2 91.7h0M299.7 260.6h0M550.4 209.1h0M729.2 113.7h0M113.7 92.4h0M297.8 224.7h0M312.4 361h0M544.4 231.5h0M302.2 258.8h0M728.3 93.3h0M112.8 112.2h0M728.9 94.2h0M112.2 94.9h0M112.9 110.5h0M112.1 95.4h0M531.2 353.4h0M544.3 249.2h0M729.8 109.3h0M293.3 196.8h0M301.9 261.7h0M727.6 97.8h0M113 98.7h0M530.1 359.4h0M728.4 98.8h0M313.6 356.3h0M111.9 106.1h0M728.6 99.9h0M728.3 105.7h0M728.9 102h0M729.4 103.6h0M112.8 102.2h0M371.7 638.7h0M366.5 642.1h0M370 644.9h0M377 646.6h0M368.2 647.7h0M319 647.9h0M370.8 648.3h0M365.6 649.1h0M132.9 776.9h0M372.6 650.3h0M369.1 651.7h0M371.4 773.2h0M302.1 772.8h0M319.5 772.8h0M374 772.3h0M433.7 654.9h0M362.9 655.9h0M364.7 656.1h0M393.3 770.8h0M184.7 770.6h0M374.3 658h0M362.6 769.1h0M446.6 658.1h0M400.3 658.5h0M376.1 659.2h0M336.3 767.9h0M367.3 659.4h0M524 660.6h0M154 661.9h0M263.6 765.3h0M288.1 662.2h0M458.2 662.4h0M381.9 764.2h0M346.6 663.4h0M487.2 663.4h0M373.5 663.8h0M363.8 664.4h0M388.1 664.6h0M545 664.6h0M315.5 664.7h0M388.1 664.7h0M246.1 762.2h0M124.2 665h0M466.1 761.9h0M120.7 665.7h0M319.9 665.7h0M448.3 665.7h0M489.8 761.4h0M317.3 665.8h0M147 761.2h0M634.4 666.6h0M399.5 666.7h0M725.6 666.9h0M517.8 760h0M559.9 667.2h0M365.3 759.6h0M396 667.6h0M337.9 667.6h0M679.2 759.4h0M324.3 667.9h0M599.4 668h0M444.2 759.1h0M235.5 668.3h0M384.9 668.5h0M320.8 668.5h0M347.7 668.6h0M325.2 668.7h0M387.2 668.7h0M436.3 758.4h0M582.7 669h0M226.8 669h0M525.7 669.1h0M189.9 758h0M550.1 669.5h0M352.8 669.5h0M187.3 669.6h0M505.3 669.8h0M573.9 757.4h0M440.8 757h0M408.3 670.2h0M318.1 670.2h0M669.5 756.9h0M292.5 670.8h0M544.4 670.9h0M711.8 671.2h0M301.2 756h0M447.5 671.3h0M554.4 671.3h0M564.3 755.8h0M354.8 671.6h0M316.4 671.7h0M720.4 755.2h0M326.7 672h0M202.2 755.1h0M379.6 672.3h0M228.5 754.7h0M642.3 672.5h0M135.3 672.5h0M167.1 754.6h0M403.8 754.6h0M389.9 672.8h0M446.8 672.8h0M272.3 754.3h0M487.2 754.3h0M152.2 673h0M424.9 754.1h0M557.3 754.1h0M135.6 754.1h0M525.7 673.1h0M239.9 754h0M699.3 754h0M450.3 753.9h0M209.2 673.3h0M536.2 673.4h0M347.7 753.5h0M322.1 753.5h0M358.3 673.7h0M449.2 673.7h0M507.3 753.4h0M395.1 673.9h0M160.1 673.9h0M545.9 753.3h0M377.9 673.9h0M472 674h0M630.1 674.1h0M365.3 753h0M331.1 753h0M580.1 752.7h0M459.1 674.5h0M406.6 674.5h0M375.2 674.6h0M527.5 674.8h0M340.2 752.4h0M592.4 752.3h0M335.2 675.1h0M323.4 675.1h0M317.9 752.1h0M521.3 675.1h0M694.1 675.2h0M280.2 752h0M360 751.8h0M392.5 675.4h0M574.8 675.5h0M628.3 751.6h0M476.8 675.7h0M688.8 675.7h0M666.7 751.4h0M313.3 751.4h0M234.6 751.3h0M467 751.3h0M332.2 675.9h0M504 751.3h0M344 676.2h0M588 751h0M381.4 676.2h0M614.3 750.9h0M211 676.5h0M197.6 750.7h0M709.6 750.5h0M418.8 676.7h0M150.5 676.8h0M219.2 676.9h0M377.8 750.2h0M127.7 750.2h0M330.2 750.1h0M689.7 677.3h0M290.9 677.3h0M470.5 749.8h0M640 677.5h0M598.7 677.6h0M637.1 677.6h0M669.3 749.6h0M726.5 749.5h0M422.3 749.5h0M179.4 677.7h0M381.7 749.4h0M647.8 749.4h0M129.4 677.8h0M547.6 749.4h0M675.7 749.4h0M420.8 677.9h0M699.4 749.3h0M415.3 677.9h0M469.6 749.2h0M346.3 749.2h0M311.1 678h0M188.2 749.2h0M233.8 678.1h0M342.8 749h0M317.9 749h0M303.9 678.3h0M306.5 748.9h0M604.9 678.3h0M242.5 748.8h0M170.6 678.4h0M236.4 748.8h0M689.7 748.7h0M666.9 678.5h0M357.5 748.7h0M677.4 678.6h0M341.4 678.7h0M451.2 748.4h0M580.4 678.9h0M380.2 678.9h0M331.1 678.9h0M446.1 748.3h0M270.6 678.9h0M182.7 678.9h0M139.9 679h0M471.5 679h0M532.7 679h0M211.9 748.1h0M115.2 679.1h0M729.1 748.1h0M279.7 748.1h0M611.6 748.1h0M312.7 679.2h0M167.2 679.2h0M481.9 748h0M509.9 679.2h0M478.4 679.3h0M161 747.9h0M575.7 747.9h0M145.2 679.3h0M314.2 747.9h0M403.1 679.4h0M612.5 679.4h0M459.1 747.7h0M176.8 679.5h0M380.5 679.5h0M675.4 679.6h0M545 747.6h0M187.9 747.5h0M449.4 747.5h0M182.9 747.5h0M624.8 679.7h0M326.9 679.8h0M586.2 747.4h0M651.1 679.9h0M724.2 747.2h0M543.9 680.1h0M538.2 747.1h0M197.8 680.1h0M246.2 680.1h0M367.9 747.1h0M144.3 680.1h0M434.5 680.1h0M306.5 680.2h0M178.5 680.3h0M537.2 680.3h0M493.3 746.9h0M362.6 680.3h0M319.7 746.8h0M492.7 680.4h0M450.1 680.4h0M245.3 746.7h0M290.8 746.6h0M261.6 680.6h0M383.1 680.7h0M495.9 746.5h0M357.3 746.5h0M432.8 746.5h0M449.4 746.5h0M343.1 680.8h0M289.9 680.8h0M398.6 680.8h0M349.5 746.4h0M479.4 680.8h0M573.1 746.3h0M286.1 746.3h0M662.5 681h0M298.6 746.2h0M424.9 681h0M366.1 746.1h0M315.3 746.1h0M371.4 681.1h0M616.1 681.1h0M440.6 746h0M283 681.2h0M709 745.9h0M615.5 745.9h0M622.2 745.9h0M218.1 745.9h0M265.3 681.4h0M533.6 681.4h0M232 745.8h0M339.3 745.8h0M397.7 745.8h0M552 681.4h0M405.6 745.8h0M455.9 745.8h0M349.7 745.8h0M309.8 745.8h0M361.2 681.5h0M614.1 681.5h0M266.2 681.5h0M671.5 745.7h0M276.1 745.7h0M531 745.7h0M484.5 745.6h0M161.9 745.6h0M403.3 745.6h0M271.5 681.6h0M593.2 745.6h0M307.4 745.5h0M416.1 681.7h0M697.6 681.8h0M559.1 681.8h0M615.2 745.4h0M405.6 745.4h0M410.9 681.8h0M475.8 681.8h0M184.7 681.8h0M474.7 745.4h0M245.1 745.3h0M357.7 681.9h0M242.6 681.9h0M529.9 745.2h0M596.7 745.2h0M145 682.1h0M639.7 682.1h0M472 682.1h0M289 745.1h0M558.8 745h0M550.3 745h0M688.8 682.2h0M445.7 682.2h0M162.8 682.2h0M680.9 682.2h0M262.9 744.9h0M127.7 682.4h0M281.3 744.8h0M258.5 682.4h0M320.3 744.8h0M320.6 744.7h0M112.8 682.5h0M238.1 682.5h0M595.9 744.7h0M468 682.5h0M473.2 744.6h0M591.5 744.6h0M657.3 682.6h0M378.4 744.6h0M545.2 682.6h0M512.5 682.7h0M185.3 744.5h0M297.8 744.5h0M625.5 744.5h0M290.7 682.7h0M313.5 744.5h0M728.5 682.8h0M175.9 682.8h0M441.6 682.8h0M284.6 744.4h0M555.3 744.4h0M586.5 682.9h0M245.2 744.3h0M434.5 682.9h0M201.5 682.9h0M520.2 682.9h0M330.5 744.3h0M324.7 744.2h0M545 683h0M642.4 744.2h0M225.9 744.2h0M503.8 683h0M230.5 744.1h0M694.1 683.1h0M213.6 683.2h0M546.8 683.2h0M526.4 683.2h0M133.8 683.2h0M300.4 743.9h0M700.9 743.8h0M583.6 683.4h0M505.7 743.8h0M159.5 743.8h0M139.1 683.4h0M603.8 683.4h0M543.3 683.4h0M280.4 683.5h0M166.2 743.7h0M304.6 743.7h0M453 743.7h0M360.9 683.6h0M616.9 743.6h0M539.8 683.6h0M581 743.6h0M358.6 683.6h0M598.8 683.7h0M131.2 683.7h0M415.2 743.4h0M327.6 683.8h0M518.9 743.4h0M421.4 743.4h0M233.9 683.9h0M303.2 683.9h0M312.5 743.3h0M648.5 743.3h0M482.8 743.3h0M383.7 683.9h0M491.6 683.9h0M650.5 743.2h0M671.3 743.2h0M726.7 743.2h0M630.9 684h0M524.6 684h0M156.6 743.2h0M169.7 684h0M308.3 684h0M557.3 684h0M246.9 743.1h0M113.6 743.1h0M321.7 684.1h0M130.3 684.1h0M481.9 684.1h0M664.3 684.2h0M429.3 743h0M303.7 743h0M523.1 684.3h0M454 742.9h0M284.6 684.3h0M603.8 742.9h0M602.9 742.9h0M424 742.9h0M567 684.4h0M364.4 742.8h0M584.3 684.4h0M687.9 684.4h0M710.5 742.8h0M683.5 684.4h0M170.6 684.4h0M495 684.5h0M556.4 684.5h0M324.1 742.7h0M503.8 684.5h0M700.2 684.5h0M563.4 684.5h0M472.4 684.6h0M113.8 684.6h0M517.2 684.6h0M645 742.6h0M463.7 742.6h0M316.8 742.6h0M377.6 684.7h0M198.5 742.5h0M526.8 742.4h0M398.6 684.8h0M520.5 684.8h0M293.4 742.3h0M158.4 684.9h0M320.6 684.9h0M448.6 685h0M218.8 742.2h0M336.1 685h0M454.7 685h0M217.1 685.1h0M274.7 742.1h0M667.7 742.1h0M496.8 685.1h0M239 685.2h0M355.7 685.2h0M287 742h0M561.1 685.2h0M392.5 741.9h0M539.8 741.9h0M587.1 741.9h0M461.8 685.4h0M155.5 741.8h0M205.7 741.8h0M398.8 685.4h0M458.2 685.5h0M353.2 741.7h0M147.8 685.5h0M158.4 741.7h0M720.3 741.7h0M576.6 685.5h0M638 741.7h0M273.2 685.6h0M498.5 685.6h0M519.8 685.6h0M236.7 685.6h0M226.5 741.6h0M190.8 741.6h0M695.8 685.7h0M724.8 741.5h0M339.9 685.7h0M465.2 741.5h0M641.5 741.5h0M299.5 685.7h0M677.2 685.8h0M503.6 741.4h0M268.8 741.4h0M692.5 741.4h0M719.5 741.3h0M322.5 685.9h0M426.7 686h0M249.5 741.2h0M417.9 741.2h0M682.7 686h0M219.5 741.2h0M583.6 741.2h0M382.2 686h0M285.5 741.2h0M151.3 741.2h0M656.4 686h0M670.7 741.2h0M629.1 741.2h0M327.8 686h0M597.6 686h0M330.9 686.1h0M445.2 686.1h0M387.5 686.1h0M257.4 741.1h0M526.6 741.1h0M498.6 741.1h0M131.2 741h0M397.7 686.2h0M262.5 686.2h0M403.2 686.2h0M214.2 741h0M263.7 741h0M162.7 741h0M339.6 686.3h0M133.8 686.3h0M521.3 740.9h0M244.2 686.3h0M643.4 740.9h0M282.6 740.9h0M719.5 740.9h0M601.2 740.8h0M203.2 686.4h0M636.5 686.4h0M328.8 740.8h0M337 686.5h0M495 740.7h0M137.3 686.5h0M131.1 740.7h0M684.6 740.7h0M205.7 740.7h0M437.2 686.5h0M412.6 686.5h0M612.6 740.6h0M252.2 740.6h0M318.2 686.6h0M327.6 740.6h0M538.9 740.6h0M432.8 740.6h0M631.8 740.5h0M148.7 686.7h0M669.3 740.5h0M154.8 686.7h0M346.9 686.7h0M161.9 686.7h0M360.9 740.5h0M353.7 740.5h0M644.1 740.5h0M151.3 686.8h0M375.6 740.4h0M660.8 686.8h0M506.2 686.8h0M331.7 686.8h0M450.1 740.4h0M299.5 740.4h0M460 740.4h0M695.3 686.9h0M384.5 740.3h0M563.6 740.3h0M338.7 686.9h0M704.4 740.3h0M519.8 740.3h0M526.6 687h0M196.1 740.2h0M455 740.2h0M168 687h0M301.4 687h0M247.2 687h0M579 740.2h0M438 740.2h0M144.3 740.1h0M314.2 740.1h0M226.7 687.1h0M181.1 740.1h0M668.6 687.1h0M544.8 687.1h0M119.8 740.1h0M585.4 687.1h0M138.2 687.2h0M527.4 740h0M710 740h0M595.2 687.2h0M118.9 687.2h0M719.5 687.2h0M444 687.2h0M299.7 739.9h0M114.7 687.3h0M350.3 739.9h0M359.1 739.9h0M540.4 687.3h0M202.5 687.3h0M696.7 739.8h0M634.5 739.8h0M324.2 687.4h0M652.6 687.4h0M189 739.8h0M513.5 687.4h0M449.5 687.5h0M586.9 687.5h0M161.9 739.7h0M610.8 687.5h0M427.5 739.7h0M184.7 687.5h0M715.1 739.6h0M475.7 739.6h0M525.5 739.6h0M531.9 739.6h0M444.5 739.6h0M676.7 687.6h0M232.9 739.6h0M662.8 687.6h0M394.2 739.5h0M499.4 687.7h0M332.9 687.7h0M160.1 739.5h0M333 739.5h0M428.4 687.7h0M194.3 687.8h0M670.2 687.8h0M183.7 739.4h0M478.4 687.8h0M522.9 687.8h0M606.2 687.8h0M410.6 687.8h0M516.1 739.4h0M575.7 739.4h0M479.3 687.9h0M244.6 739.3h0M226.7 687.9h0M636.9 739.3h0M543.6 688h0M467.8 739.2h0M334.6 739.2h0M464.3 688h0M702 739.2h0M261 739.2h0M514.1 688.1h0M596.8 688.1h0M205.7 739.1h0M592.4 739.1h0M432.2 688.1h0M692.3 688.1h0M510 688.1h0M355.6 739.1h0M392.5 688.1h0M625.7 739.1h0M487.1 739.1h0M201.3 688.1h0M607.3 739.1h0M294.3 688.2h0M192.6 688.2h0M290.8 688.2h0M455.5 688.2h0M544.8 739h0M309.4 688.2h0M116.4 688.2h0M403 738.9h0M598.5 688.3h0M592.1 738.9h0M560.8 688.3h0M681.1 738.9h0M369.4 738.9h0M291.6 738.9h0M118.7 738.9h0M339.9 688.3h0M381.7 738.8h0M474 738.8h0M696.7 738.8h0M692.3 738.8h0M396 688.4h0M642.3 688.4h0M344 688.4h0M683.6 738.8h0M556.4 688.4h0M112 688.4h0M233.2 738.8h0M541.5 688.5h0M685.3 738.7h0M521.5 738.7h0M590.9 688.5h0M620.4 688.5h0M378.7 688.5h0M410.9 738.7h0M518 738.6h0M143.2 688.6h0M545.7 688.6h0M520.5 688.6h0M302.5 738.6h0M180.1 688.6h0M273.2 738.6h0M693.2 688.6h0M657.2 688.7h0M125 688.7h0M669.7 738.5h0M718.6 688.7h0M603.8 688.7h0M418.8 688.7h0M486.3 688.7h0M444.8 688.7h0M453.3 688.8h0M508.2 688.8h0M442.4 688.8h0M440.7 688.8h0M474.2 688.8h0M643.9 738.4h0M331.1 738.4h0M266.9 688.8h0M492.6 738.4h0M430.2 738.4h0M329.5 688.8h0M235.8 688.8h0M423.8 738.4h0M560.8 688.8h0M601.1 738.3h0M385.2 738.3h0M660.8 738.3h0M587.9 738.3h0M349.5 738.3h0M340.5 688.9h0M369.7 688.9h0M574.2 738.3h0M681.6 738.2h0M576.6 738.2h0M373.3 689h0M401.2 738.2h0M438.1 738.1h0M356.3 689.1h0M390.9 689.1h0M570.4 689.1h0M479.2 738.1h0M627.4 689.1h0M195.2 738h0M471.4 738h0M623.7 738h0M456.5 738h0M271.4 689.2h0M618.5 738h0M345.1 689.2h0M440 689.2h0M239.2 738h0M291.6 689.2h0M296.7 738h0M476.6 689.3h0M328.4 689.3h0M568.7 689.3h0M643.9 737.9h0M200.4 689.3h0M523.8 689.3h0M587.1 737.8h0M181.8 689.4h0M458.4 689.4h0M253.9 737.8h0M259.2 689.4h0M132.1 689.4h0M444 689.4h0M370.6 689.4h0M272.1 689.4h0M220.6 689.4h0M257.6 689.5h0M420.3 737.7h0M700.2 737.7h0M474.9 737.7h0M608.2 737.7h0M678.3 737.7h0M481.2 689.5h0M522.3 737.7h0M606.4 689.5h0M265.6 737.7h0M248.7 689.5h0M419.6 689.5h0M652.9 689.5h0M180.4 737.7h0M308.9 737.7h0M451 689.6h0M582.7 689.6h0M517.9 689.6h0M469.8 689.6h0M189.1 737.6h0M593.3 689.7h0M463.3 737.5h0M340.5 689.7h0M301.1 737.5h0M465.3 737.5h0M168.2 737.5h0M409.8 689.7h0M502.4 737.5h0M715.1 737.5h0M475.1 689.7h0M291.6 737.4h0M629.2 689.8h0M437.2 689.8h0M429.3 737.4h0M716.6 689.8h0M313.8 689.8h0M115.4 737.4h0M488.9 737.4h0M254.8 737.4h0M254.6 689.8h0M417 689.8h0M243.6 737.3h0M724.8 689.9h0M126.8 737.3h0M413.5 737.3h0M277.8 689.9h0M160.3 689.9h0M622.2 737.3h0M577.2 737.3h0M281.8 737.2h0M402.8 690h0M292.7 690h0M237.3 737.2h0M682.7 690h0M531 690h0M287.3 737.2h0M543.4 737.1h0M440.5 737.1h0M322.3 690.1h0M666 737.1h0M644.1 737.1h0M294.3 690.1h0M168.3 737.1h0M227.6 690.1h0M179.7 690.1h0M549.4 690.1h0M191.7 737.1h0M260.1 690.2h0M509.1 690.2h0M328.5 690.2h0M548 737h0M609.9 737h0M468.5 737h0M492.4 690.2h0M518.7 690.2h0M397.7 690.3h0M318.8 736.9h0M148.5 690.3h0M451.9 690.3h0M537.8 690.3h0M579.2 690.3h0M411 736.9h0M728.3 690.4h0M212.5 690.4h0M254.1 690.4h0M112.5 690.4h0M717.7 690.4h0M211.8 690.4h0M150.8 736.8h0M486.5 736.7h0M393.5 736.7h0M411.8 690.5h0M280.2 690.5h0M662.3 690.5h0M515.2 736.7h0M444.2 736.7h0M597.6 736.7h0M646.7 736.7h0M363.7 736.7h0M359.2 690.5h0M114.5 736.6h0M156.6 690.6h0M699.3 690.6h0M266.4 736.6h0M149.6 736.6h0M415 690.6h0M479.9 736.6h0M258.3 736.6h0M230.3 736.6h0M381.1 736.6h0M389.8 690.6h0M188.3 736.5h0M208.3 736.5h0M310.1 690.7h0M197.2 736.5h0M362.1 690.7h0M165.3 690.7h0M286.4 736.4h0M463.5 690.8h0M272.4 736.4h0M190.8 690.8h0M306.7 690.8h0M248.7 736.4h0M460.8 736.4h0M335.5 690.9h0M303.3 736.3h0M403.9 690.9h0M588.3 690.9h0M315.1 736.3h0M461.9 690.9h0M311.8 736.3h0M218 736.3h0M230.2 690.9h0M122.4 690.9h0M301.9 736.3h0M659 691h0M142.4 691h0M532.1 691h0M517.6 691h0M132.9 691h0M477.7 691h0M293.4 736.2h0M123.3 691.1h0M115.4 736.1h0M504.7 736.1h0M511.5 736.1h0M347.1 736.1h0M175.7 691.1h0M417.8 736.1h0M373.1 736.1h0M669.5 736.1h0M391.6 736.1h0M706.4 736h0M541.7 691.2h0M194.5 736h0M338.1 691.2h0M501 691.2h0M173.3 736h0M562.7 691.2h0M423.1 735.9h0M131.5 691.3h0M479.3 735.9h0M332 735.9h0M352.3 735.9h0M136.2 691.3h0M339 735.9h0M220.6 735.9h0M255 691.3h0M323.2 735.9h0M651.1 735.9h0M311.8 691.3h0M377.6 691.3h0M409.3 691.4h0M417.2 735.8h0M630.7 691.4h0M306.3 735.8h0M353 735.8h0M291.8 735.8h0M324.9 735.8h0M182.3 691.4h0M429.5 735.8h0M358.3 735.8h0M590.6 735.7h0M309.2 735.7h0M455.6 691.5h0M436.5 735.7h0M676.5 691.5h0M421.2 691.5h0M716.9 691.5h0M331.7 691.5h0M378.4 691.5h0M183.6 735.6h0M287.2 691.6h0M561.5 691.6h0M640.6 691.6h0M533.6 735.6h0M124.3 735.6h0M611.4 735.6h0M300.4 691.6h0M114.8 691.6h0M342.5 735.5h0M577.2 691.7h0M228.8 735.5h0M374.7 691.7h0M629.4 691.7h0M609.9 691.7h0M113.9 735.5h0M440.7 691.7h0M301.3 735.5h0M382.6 735.5h0M705.2 691.8h0M308.4 691.8h0M280 735.4h0M468.8 691.8h0M664.3 735.4h0M695.8 691.8h0M540.8 691.8h0M251.1 735.4h0M361.7 735.4h0M243.4 691.8h0M591.5 691.9h0M694.2 735.3h0M647.9 691.9h0M350.4 735.3h0M607.3 735.3h0M115.4 691.9h0M241.4 691.9h0M445.4 735.3h0M131.2 735.3h0M729.4 735.3h0M395.2 735.3h0M693.4 691.9h0M459.1 691.9h0M409.3 692h0M193.4 735.2h0M599.2 692h0M635.1 735.2h0M615.2 735.2h0M427.6 735.1h0M464.5 692.1h0M595.2 735.1h0M366.2 735.1h0M588.9 692.1h0M255.7 692.1h0M186.4 735.1h0M273 692.1h0M617.8 735.1h0M566.9 735.1h0M484.5 692.1h0M640.6 735.1h0M455.7 735.1h0M168.8 735h0M314.6 692.2h0M484.3 735h0M185.6 692.2h0M319.7 735h0M368.8 735h0M709.9 735h0M541.3 692.2h0M515 692.2h0M452.1 735h0M195.8 692.2h0M361.6 692.3h0M306.5 692.3h0M524.9 692.3h0M203.3 692.3h0M346 692.3h0M408.2 734.9h0M700.9 692.3h0M555 734.9h0M471.6 734.9h0M264.4 734.9h0M712.5 734.9h0M269.7 734.9h0M612.5 692.3h0M548.5 734.8h0M253 734.8h0M645.6 734.8h0M677.4 692.4h0M357.2 692.4h0M502.2 734.8h0M295.1 692.4h0M439.8 734.8h0M543 734.8h0M431.2 692.5h0M215.4 734.7h0M439.8 692.5h0M131.8 692.5h0M658.3 692.5h0M396.9 692.5h0M658.3 734.7h0M227.4 734.7h0M472.9 734.7h0M114.5 734.7h0M337.9 692.5h0M116.9 692.5h0M136.4 734.7h0M116.3 734.6h0M674.2 692.6h0M606.4 734.6h0M665.1 692.6h0M483.6 692.6h0M415.9 692.6h0M522 734.6h0M334.4 692.6h0M652 734.6h0M121.5 734.5h0M403.9 692.7h0M696.5 734.5h0M377.3 734.5h0M547.6 692.7h0M709 692.7h0M385.7 692.7h0M268.9 692.7h0M210 692.7h0M275.8 734.4h0M441 692.8h0M481.9 692.8h0M595.9 692.8h0M692.6 692.8h0M198 734.4h0M690.3 692.8h0M534.7 692.8h0M648.5 692.8h0M453.2 692.8h0M142.9 692.9h0M233.8 692.9h0M605.5 734.3h0M472.2 692.9h0M572.9 734.3h0M626 692.9h0M429.9 734.3h0M286.4 734.3h0M651.8 692.9h0M519.6 692.9h0M703 734.3h0M600.2 692.9h0M172.4 692.9h0M348.4 693h0M372.3 693h0M364.6 693h0M530.1 734.2h0M388.7 693h0M569.6 693h0M616.2 693h0M128.3 693h0M224.1 693.1h0M316.2 734.1h0M715.3 734.1h0M509.1 734.1h0M478.5 693.1h0M480.8 734.1h0M180.3 734.1h0M278.5 693.2h0M490.7 693.2h0M421.4 693.2h0M168.9 734h0M322.6 693.2h0M204.8 733.9h0M619.5 733.9h0M628.3 733.9h0M586.9 733.9h0M218 693.3h0M601.1 733.9h0M538 733.9h0M607.3 693.4h0M174.4 693.4h0M161.6 733.8h0M688.8 693.4h0M332 693.4h0M447.7 693.4h0M261.8 693.4h0M240.8 733.8h0M561.7 733.8h0M670.4 693.4h0M298.4 733.8h0M419.6 733.7h0M729.1 733.7h0M260.9 733.7h0M555.3 693.5h0M386.3 733.7h0M190.8 693.5h0M687.4 693.5h0M530.9 693.6h0M329.6 733.6h0M172.2 733.6h0M581.1 733.6h0M566.4 693.6h0M255.5 693.6h0M680.9 693.6h0M714.9 693.7h0M622 693.7h0M145.9 733.4h0M726.5 693.8h0M113.4 693.8h0M500.1 693.8h0M424 693.8h0M501.2 693.8h0M671.3 733.3h0M638.2 693.9h0M206.6 733.3h0M381.9 694h0M287.4 694h0M251.3 694h0M497.5 733.2h0M235.5 733.1h0M333.7 733.1h0M673.9 733h0M691.7 733h0M511.7 733h0M504.6 694.3h0M513.7 732.8h0M230.4 694.4h0M118.2 694.4h0M407.1 732.7h0M511.7 694.5h0M218.9 732.6h0M150.4 732.6h0M689.8 732.6h0M410.8 732.6h0M158.4 694.7h0M686.2 732.5h0M574 694.7h0M460.9 732.5h0M242.5 732.5h0M438.9 694.8h0M464.4 732.4h0M679.5 732.4h0M484.5 732.3h0M645.2 694.9h0M133.8 695h0M150.5 695.1h0M728.3 695.1h0M724.8 732h0M588.9 695.2h0M727.7 731.9h0M401.2 731.9h0M496.1 731.7h0M716 695.5h0M493.4 731.6h0M155.9 731.6h0M180.3 695.6h0M585.3 695.7h0M300.6 695.8h0M724.1 695.8h0M633.8 695.9h0M165.4 696h0M240.9 696.2h0M112.7 730.5h0M315.1 697h0M729.3 697.7h0M344.5 729.2h0M114.3 698.1h0M727.4 728.8h0M112.8 726.8h0M727.2 700.8h0M115.4 701.2h0M113.9 701.4h0M729.8 725h0M729.2 702.8h0M729.2 724h0M113.7 703.5h0M728.3 704.3h0M112.8 722.6h0M728.9 705.2h0M112.2 705.9h0M112.9 721h0M112.1 706.3h0M729.8 719.8h0M727.6 708.7h0M113 709.5h0M728.4 709.7h0M111.9 716.7h0M728.6 710.7h0M728.9 712.7h0M729.4 714.3h0M523.7 1336.4h0M126.2 969.3h0M465.8 1320.6h0M482.5 1319.8h0M557.9 1308.3h0M367.3 1056.9h0M224.3 986.9h0M391.7 1062.2h0M486.9 1307.5h0M614.9 1234.3h0M457.6 1306.1h0M335.2 1064.1h0M268 1036.3h0M234 997.6h0M543.9 1068.1h0M585.4 1254.7h0M408.8 1299.5h0M209.4 998.1h0M302.8 1072.9h0M550.4 1293.1h0M519.3 1073.4h0M401 1296.3h0M473.3 1296.2h0M562.3 1057.8h0M638.6 1001.8h0M211.2 1001.9h0M416.7 1074.4h0M199.3 1002.5h0M169.9 1222.4h0M729.2 1222h0M564.9 1274.8h0M384.3 1076.4h0M392.2 1293h0M664 1219.9h0M189.7 1005.4h0M602.1 1226.7h0M539.8 1078.3h0M201.4 1006.7h0M352.3 1290.8h0M494.2 1290.7h0M526.3 1290.3h0M397.9 1290.1h0M337.8 1079.9h0M545.2 1288.9h0M220.3 1008.1h0M394.3 1289h0M182.6 1216.1h0M282.9 1070.3h0M494.3 1082.3h0M148 1010.1h0M290.4 1078.2h0M211.6 1010.3h0M405.7 1084.2h0M269.8 1257.2h0M564.5 1266.2h0M339.8 1284.8h0M400.5 1284.6h0M121.7 1212.1h0M389.9 1085.9h0M196.7 1211.6h0M627.2 1210.9h0M475.4 1087h0M154.3 1014.7h0M270.4 1255.4h0M246.6 1225.5h0M627.5 1014.9h0M177.7 1014.9h0M263.3 1246.3h0M568 1259h0M326.8 1281.9h0M248.9 1033.7h0M429.9 1088.4h0M378 1089h0M686.5 1016.6h0M169 1208.6h0M353.1 1280.8h0M151.4 1208.3h0M161.1 1208.3h0M713.9 1208h0M707 1207.8h0M713.9 1207.4h0M356.4 1279.2h0M696 1018.4h0M272.1 1065.4h0M506.5 1091.1h0M112.1 1206.3h0M418.8 1278.5h0M549.5 1088.6h0M719.2 1205.9h0M681.1 1205.8h0M435.5 1278.1h0M187.9 1019.5h0M477.2 1092.2h0M677 1020h0M502.6 1092.6h0M496.9 1092.8h0M468.9 1093.1h0M699.1 1204.4h0M491.2 1276.1h0M411.1 1093.9h0M609.1 1205.3h0M648.6 1203.3h0M154.6 1022h0M284.3 1084.4h0M704.7 1202.8h0M519.4 1094.8h0M312.7 1094.9h0M209.8 1022.6h0M707.8 1022.7h0M662.2 1202.5h0M502.7 1274.8h0M230.5 1203.4h0M289.2 1269.4h0M329.5 1274.5h0M249.6 1042h0M608.8 1025.5h0M433.3 1095.7h0M382.1 1274.2h0M262.4 1236.7h0M595.9 1215.9h0M233 1025.8h0M304 1273.9h0M595.6 1038.3h0M616.1 1023.8h0M691.2 1023.9h0M655.2 1023.9h0M699.3 1201.2h0M549.1 1093.7h0M510.2 1096.7h0M337 1273.1h0M611 1201.9h0M138.5 1200.5h0M459.2 1097.2h0M689.3 1025.1h0M361.5 1272.4h0M138.4 1200.1h0M147.9 1200h0M531.6 1097.6h0M461.6 1097.7h0M182.2 1025.4h0M652.9 1199.6h0M628.2 1025.6h0M514.9 1098.1h0M334.4 1098.2h0M650 1025.9h0M556.5 1089.3h0M315.4 1098.4h0M225.7 1199.1h0M341.7 1271.5h0M559.2 1086.3h0M115.6 1199.1h0M223 1026.2h0M490.3 1271.4h0M172 1198.9h0M243.1 1209.5h0M499 1271h0M329.9 1271h0M386.5 1271h0M525.9 1098.9h0M151.9 1026.6h0M621.4 1198.6h0M322.4 1270.8h0M372.4 1099.2h0M647.3 1198.3h0M510 1270.7h0M214.5 1198.1h0M438.5 1270.4h0M548.8 1267.8h0M568.8 1246h0M240.5 1205.7h0M279 1083.1h0M208.4 1027.5h0M151.5 1197.7h0M509.1 1270h0M294 1267.9h0M126 1197.5h0M313 1100h0M690.2 1197.4h0M150.6 1028h0M372.4 1100.5h0M709.6 1028.2h0M188.2 1197h0M724.8 1196.9h0M178.6 1028.3h0M575.8 1236.1h0M436.8 1268.9h0M727.7 1028.7h0M277.3 1082.4h0M432.9 1268.7h0M616.1 1196.3h0M338.3 1101.5h0M415.3 1268.3h0M114.7 1195.9h0M661.4 1029.4h0M140 1029.4h0M617.9 1195.7h0M361 1268h0M414.1 1267.7h0M281.8 1254.5h0M616.6 1195.3h0M468.8 1267.5h0M322 1102.4h0M355.8 1267.5h0M535.1 1267.5h0M220.8 1030.2h0M560 1089.4h0M194.5 1030.2h0M580.2 1228.8h0M292.7 1100h0M512.8 1267.1h0M478.5 1102.9h0M596.8 1207.6h0M243 1205.1h0M136.5 1194.4h0M657.4 1031.1h0M162 1193.9h0M590.3 1215h0M427.7 1103.8h0M436.5 1103.8h0M693.3 1193.7h0M593 1049.5h0M554.4 1258.9h0M385.7 1104.1h0M117.2 1193.4h0M179.1 1193.4h0M600.5 1040.6h0M285.1 1095.1h0M286 1257.4h0M159 1193.1h0M710 1032.1h0M597.9 1043.9h0M371.6 1104.6h0M304.1 1265.2h0M118.8 1192.9h0M473.7 1265h0M566.6 1083.5h0M133 1192.6h0M422 1105h0M611.9 1033.4h0M422.4 1105.2h0M331.6 1264.7h0M260.2 1224.5h0M120.5 1192.3h0M159.3 1192.3h0M680.7 1033h0M190.2 1192.1h0M336 1264.3h0M291.3 1260.5h0M207.4 1191.9h0M397.9 1105.7h0M353.6 1105.8h0M660.8 1191.7h0M396.2 1106h0M245.2 1047h0M537.3 1263.9h0M371.5 1106.1h0M273.5 1082.7h0M272.5 1238.8h0M424.6 1106.5h0M263.8 1227.7h0M125.2 1190.9h0M485.2 1106.7h0M176.2 1034.4h0M726.1 1190.7h0M603 1197h0M475 1106.9h0M278.7 1246h0M257.2 1062.8h0M438.7 1263h0M535.7 1106.9h0M436 1263h0M612.3 1035.3h0M550.9 1258.9h0M457.4 1262.8h0M618.9 1190.3h0M533.5 1262.4h0M283.1 1250.8h0M556.6 1253.2h0M338.2 1107.6h0M429.8 1262.2h0M681.9 1035.3h0M531.5 1107.7h0M346.8 1262.2h0M691.7 1189.7h0M544.1 1261.4h0M661.7 1035.6h0M481 1262h0M426.3 1108h0M308.9 1108h0M166.1 1035.7h0M487.8 1261.8h0M479.9 1108.1h0M587.2 1060.9h0M331.2 1108.4h0M668.7 1036.1h0M423.9 1108.5h0M157.5 1188.9h0M593.4 1053.6h0M385.6 1261.1h0M471.2 1261.1h0M120.7 1188.7h0M186.1 1188.6h0M183.5 1036.6h0M208.9 1036.6h0M344.4 1109h0M354.9 1109h0M708.4 1188.4h0M283 1097.6h0M682.4 1036.9h0M486.3 1109.2h0M375.1 1109.2h0M184.4 1036.9h0M483.6 1260.5h0M121.1 1188.1h0M137.5 1037.7h0M450 1259.8h0M568 1236.6h0M705.2 1037.8h0M554.8 1252.5h0M469.2 1110.2h0M665 1037.9h0M724.5 1187.3h0M539.5 1110.3h0M573.2 1229.8h0M457.1 1259.6h0M238.3 1043.8h0M231.7 1039.5h0M714.8 1187.1h0M541.6 1259.4h0M363.6 1110.5h0M294.5 1257.6h0M357.9 1259.4h0M285.2 1250.2h0M169.8 1038.3h0M335.6 1259.2h0M687.8 1186.8h0M538.7 1110.9h0M482.2 1110.9h0M334.3 1111h0M437.9 1258.9h0M450.5 1111h0M581.2 1071.3h0M263.4 1074.8h0M178.5 1186.5h0M526.8 1258.9h0M408 1258.9h0M442.5 1111.1h0M162 1186.4h0M477.4 1111.2h0M551.1 1107.1h0M488.8 1258.7h0M716.1 1039.1h0M118.1 1186.1h0M496.9 1111.6h0M544 1111.1h0M635.5 1039.3h0M203.2 1185.9h0M305.8 1258.1h0M423 1258.1h0M697.8 1185.7h0M213.6 1039.5h0M478.1 1258h0M125.6 1185.6h0M150.2 1185.6h0M462.7 1257.9h0M248.4 1202.8h0M471.1 1257.8h0M544.2 1257.2h0M252.5 1207.8h0M446.2 1257.7h0M723.7 1185.3h0M208.5 1039.9h0M384.2 1112.3h0M460 1112.3h0M390.4 1257.6h0M553.5 1251.4h0M218.6 1040.2h0M332.1 1112.5h0M521.1 1112.5h0M149.7 1040.2h0M684.3 1040.2h0M671.4 1040.3h0M207.6 1184.9h0M249.7 1059.3h0M645 1184.8h0M684.2 1184.8h0M189.3 1040.5h0M613.6 1185.1h0M122.3 1040.5h0M263.7 1221.2h0M511 1257h0M216.5 1184.6h0M570.5 1086.7h0M313.6 1256.8h0M660.4 1184.3h0M614.5 1184.5h0M508.8 1256.7h0M291 1252.8h0M281.7 1100h0M416.3 1113.3h0M448.8 1256.6h0M455.2 1256.4h0M675.1 1041.1h0M129.7 1041.2h0M351.4 1256.3h0M324.2 1256.3h0M545.6 1112.7h0M282.1 1101h0M592.9 1059.4h0M265.5 1222.4h0M228.2 1041.9h0M523.3 1255.9h0M476 1255.9h0M677.6 1183.5h0M375.2 1255.8h0M693.5 1041.7h0M268.2 1083.8h0M720 1183.5h0M588.1 1065.8h0M608.9 1185.4h0M253.2 1206.6h0M544.4 1113.7h0M192.6 1042.1h0M368.5 1114.5h0M155.5 1042.1h0M411 1114.5h0M207.5 1183h0M662.7 1042.2h0M217.3 1042.2h0M653.5 1042.3h0M560.1 1242h0M444 1114.8h0M681.1 1182.8h0M330.9 1255.1h0M147.9 1182.6h0M538.2 1114.9h0M200.9 1182.6h0M248.8 1200.4h0M321.5 1115h0M722.3 1042.7h0M421.5 1254.8h0M560.1 1101.9h0M524.7 1254.8h0M569.7 1229.4h0M639.8 1182.3h0M380.5 1115.2h0M265.9 1221.5h0M231.2 1183.5h0M523.8 1115.3h0M624.9 1182.2h0M179.6 1043h0M725.8 1182.2h0M672.6 1043h0M204.6 1043.1h0M243.6 1193.4h0M305 1254.5h0M218 1043.2h0M608.3 1184.4h0M253.8 1206.1h0M588.9 1066.2h0M158.5 1181.9h0M683.7 1043.3h0M697.2 1181.8h0M382.5 1254.2h0M248.9 1199.8h0M268 1223.8h0M506.2 1254.1h0M596.9 1194.6h0M171.6 1181.7h0M710.1 1043.6h0M604.5 1186.6h0M580.7 1214.8h0M686.4 1181.4h0M470.3 1253.7h0M672.8 1044h0M411.8 1116.4h0M473.9 1253.5h0M432.1 1116.4h0M195.3 1044.1h0M241 1189.3h0M612.4 1181.6h0M268.6 1086.9h0M418 1116.7h0M439.1 1116.7h0M264.2 1081.5h0M231.9 1182.3h0M190.5 1180.8h0M446 1253.1h0M138.7 1180.7h0M208 1044.5h0M313.2 1252.9h0M451.5 1117h0M119.2 1180.5h0M502.3 1252.9h0M303.8 1117.1h0M590.2 1066.1h0M391 1117.1h0M622.3 1044.8h0M662.6 1044.8h0M200.1 1045h0M589.4 1067.4h0M383.1 1252.5h0M459.3 1117.4h0M560.2 1239.1h0M363.5 1252.4h0M373.2 1252.4h0M382.2 1252.4h0M722.7 1179.9h0M246.5 1194.9h0M112.2 1045.3h0M617.8 1179.9h0M552.5 1247h0M419.3 1117.7h0M260.8 1078.3h0M597.7 1057.4h0M162.8 1179.7h0M560.8 1237.9h0M500 1252h0M347.7 1118h0M268.1 1221.6h0M642 1179.5h0M453.1 1118h0M387.5 1251.9h0M607.3 1182.4h0M460.6 1118h0M481.6 1251.8h0M172.5 1045.8h0M652.6 1045.8h0M663.9 1179.3h0M729.3 1179.2h0M395.3 1118.4h0M236.9 1050.7h0M664.5 1046.1h0M503 1118.5h0M566.2 1230.5h0M634.9 1046.2h0M345.7 1118.5h0M242.8 1189.4h0M220.7 1046.2h0M563.2 1234.2h0M436.9 1251.3h0M175.1 1046.3h0M186.5 1046.3h0M695.1 1178.9h0M594.2 1062.7h0M161.1 1178.8h0M380 1251.1h0M415.4 1251.1h0M324.8 1118.9h0M584.2 1207.5h0M398.4 1251h0M396.7 1119h0M451.3 1119.1h0M511.1 1119.1h0M353.2 1119.2h0M461.3 1250.7h0M359 1119.3h0M188.3 1178.1h0M202.8 1047.1h0M455.7 1250.4h0M365.5 1250.3h0M197 1178h0M200.1 1047.2h0M493.6 1119.6h0M257.1 1075.5h0M128.2 1047.3h0M225.1 1177.9h0M630.6 1177.8h0M319 1119.8h0M510.6 1250.1h0M118.6 1177.6h0M358 1119.9h0M180.4 1047.6h0M449.6 1249.9h0M359.6 1120.1h0M167.3 1177.5h0M448.3 1249.8h0M618 1047.8h0M183.9 1047.8h0M284.9 1110.8h0M116 1177.4h0M522.4 1249.7h0M154.9 1047.9h0M353.7 1249.7h0M473.9 1249.6h0M566.6 1098.9h0M526.8 1120.3h0M511.4 1120.4h0M175.6 1177.2h0M695.2 1177.2h0M360.1 1120.4h0M217.8 1048.1h0M246.8 1192.3h0M315.4 1249.3h0M241.1 1056.6h0M398.3 1249.3h0M517.1 1249.3h0M276.6 1229.6h0M187.2 1048.3h0M722.6 1176.8h0M631.9 1176.7h0M534.6 1120.8h0M201 1048.5h0M340.4 1249.1h0M116.3 1048.5h0M610.1 1050h0M358.8 1248.9h0M357.1 1121h0M270 1220.9h0M215.8 1048.7h0M505 1248.8h0M369.5 1121.1h0M314.2 1121.2h0M651.4 1048.9h0M439.9 1248.6h0M286 1113h0M245.3 1189.6h0M713.2 1049.1h0M569.3 1223.6h0M428.1 1121.5h0M303 1248.4h0M153.7 1049.2h0M472.1 1121.6h0M566.8 1100h0M600.2 1058.3h0M590.9 1196.3h0M333.9 1248.1h0M375.1 1121.9h0M336.2 1248h0M280.3 1233h0M355 1248h0M362 1248h0M498.2 1122h0M491.7 1122h0M347.5 1122h0M723.5 1175.6h0M641.1 1049.6h0M315.9 1122h0M670.5 1049.7h0M618 1049.8h0M212.4 1049.8h0M678.4 1049.8h0M132.7 1175.4h0M593.3 1067.3h0M305.9 1247.7h0M206 1175.3h0M595.1 1190.5h0M131.9 1175.3h0M436.1 1247.6h0M232.1 1176.8h0M642.4 1050h0M499.7 1122.4h0M352.3 1247.5h0M382.9 1247.5h0M509.3 1247.5h0M649.5 1175.1h0M432.9 1122.6h0M521.5 1122.6h0M696 1174.9h0M240.9 1058.6h0M646.6 1174.8h0M404.9 1247.2h0M114.7 1174.8h0M226.5 1050.5h0M321.2 1247.1h0M286.4 1115.1h0M223.8 1174.7h0M301.3 1247h0M323.5 1247h0M257.6 1079.5h0M307.6 1123.1h0M385.1 1123.1h0M430 1123.1h0M442.1 1123.2h0M443.6 1246.7h0M244.4 1063.1h0M646.7 1174.3h0M227.6 1051.2h0M237.4 1056h0M398.2 1246.5h0M425.2 1246.5h0M266.3 1213.9h0M307.1 1123.5h0M415.2 1246.4h0M192 1174h0M354.5 1123.6h0M546.1 1122.3h0M264.3 1211.2h0M666.3 1051.2h0M524 1246.3h0M303.2 1123.6h0M412.8 1246.3h0M593.4 1191.1h0M570.6 1219.7h0M613.5 1174.2h0M407.4 1246.1h0M509.2 1123.8h0M368.4 1246.1h0M360.7 1123.9h0M316.9 1246.1h0M639.3 1173.7h0M142.8 1173.6h0M378.5 1245.9h0M468.8 1124h0M130.5 1173.6h0M211.9 1051.7h0M400.2 1124h0M587.6 1076.3h0M484.6 1245.7h0M640.7 1051.9h0M388.2 1245.6h0M333.7 1245.6h0M634.4 1052h0M454 1245.5h0M234.4 1176h0M604.8 1177.8h0M557.5 1235.4h0M365.8 1245.4h0M456.3 1245.4h0M197.7 1173h0M476.7 1245.3h0M563.4 1107.3h0M165.6 1172.9h0M699.8 1052.3h0M534.8 1245.2h0M321.3 1124.7h0M191.4 1052.4h0M703.4 1172.8h0M575.7 1091.9h0M588.1 1076.4h0M593.8 1189.5h0M586.8 1198.3h0M258.4 1082.4h0M325.4 1124.9h0M674 1172.6h0M523.6 1125h0M159.4 1052.6h0M294.8 1243.2h0M650.3 1052.7h0M516.7 1244.9h0M509 1244.8h0M501.5 1125.1h0M724.6 1172.5h0M290.8 1240.8h0M321.7 1244.8h0M661.9 1172.4h0M555.8 1116.9h0M681.6 1172.4h0M333.4 1244.8h0M221.8 1052.8h0M387.8 1125.2h0M254.9 1078.3h0M420.4 1125.2h0M709.1 1172.3h0M169.8 1172.3h0M435.2 1125.3h0M385.5 1244.6h0M334.7 1244.6h0M431.2 1125.3h0M326.4 1244.6h0M653.4 1053h0M294.9 1242.9h0M517.1 1244.4h0M707.8 1053.1h0M557.8 1115h0M533.8 1125.5h0M380.3 1244.4h0M563.1 1108.6h0M212.6 1171.9h0M414.5 1244.3h0M122.1 1171.9h0M464.6 1125.7h0M120.3 1053.3h0M177.3 1171.8h0M461 1244.2h0M590.8 1074h0M406.6 1125.8h0M372.8 1244.1h0M224.3 1053.5h0M602.2 1178.7h0M329.1 1125.9h0M630.9 1053.6h0M645.1 1171.6h0M472.8 1125.9h0M698.7 1053.6h0M724.9 1171.6h0M231 1054.8h0M256.4 1198.9h0M339.9 1126h0M296.1 1125h0M556.1 1117.5h0M481.2 1243.8h0M692.9 1053.7h0M670.3 1053.7h0M546.4 1242.4h0M382.4 1126.2h0M133 1171.4h0M619.7 1171.4h0M166.5 1053.9h0M312.1 1243.7h0M466 1243.7h0M474.1 1243.6h0M390.1 1126.3h0M282.5 1231.3h0M654.6 1171.2h0M646.5 1054h0M199 1171.2h0M134.9 1054.1h0M118.1 1054.1h0M154.1 1171h0M648.6 1171h0M405 1243.4h0M161.6 1054.2h0M173.9 1054.2h0M263 1206.6h0M660 1171h0M445.2 1126.6h0M586.8 1079.8h0M478.2 1126.6h0M357.6 1243.3h0M540.8 1243.2h0M236.1 1058.4h0M451.7 1126.7h0M440.5 1126.7h0M435.3 1126.7h0M521 1243.2h0M540.4 1126.8h0M723.2 1054.4h0M340.3 1243.1h0M469.7 1126.8h0M656.5 1054.5h0M599 1064.9h0M270.2 1099.2h0M155 1054.6h0M133.7 1170.6h0M462 1127h0M270.9 1216.1h0M215.2 1054.6h0M297.9 1126.5h0M409.4 1127h0M488.2 1242.9h0M531.2 1127h0M166.7 1054.7h0M485.1 1242.8h0M426.8 1127.1h0M725 1170.4h0M656 1170.4h0M305.8 1127.1h0M184.9 1170.4h0M334.7 1242.8h0M302.3 1242.7h0M133.9 1054.9h0M242.7 1180.6h0M405.7 1127.3h0M693 1055h0M152.9 1055h0M127.4 1055h0M363.4 1127.4h0M379.5 1127.4h0M238.3 1060.9h0M426.7 1242.4h0M417.2 1242.4h0M515.2 1127.6h0M383.9 1242.3h0M579.5 1204.7h0M597.3 1067.7h0M216.3 1055.3h0M641.6 1055.3h0M573.3 1097.9h0M432.2 1127.7h0M486.8 1127.7h0M669.6 1055.4h0M614.8 1169.9h0M470.6 1127.8h0M476.2 1127.8h0M293.5 1239.8h0M278.2 1110.1h0M604.4 1174.8h0M240.9 1063.8h0M524.9 1127.9h0M195.5 1055.5h0M546.5 1126.5h0M171.4 1055.5h0M581.5 1087.8h0M356.7 1127.9h0M656.4 1055.6h0M306.5 1128h0M230.4 1170.5h0M483.8 1241.9h0M534.1 1128h0M475.1 1241.9h0M365.8 1241.9h0M424.3 1241.9h0M633.5 1169.5h0M234 1172.2h0M280.8 1113.7h0M583 1199.8h0M285.6 1233.1h0M409.7 1241.8h0M391.8 1241.8h0M501.3 1241.8h0M656.5 1169.5h0M718.8 1055.8h0M486 1128.1h0M135.4 1055.8h0M610.9 1057h0M272.5 1103.4h0M644.8 1055.9h0M348.3 1241.7h0M329.3 1128.2h0M514.4 1241.6h0M720.5 1169.2h0M393.4 1128.3h0M262.8 1091.4h0M672.9 1169.1h0M226 1056.1h0M598.7 1179.8h0M445.1 1241.5h0M409.3 1128.4h0M544.3 1127.8h0M605.5 1173.2h0M257.9 1198.2h0M711 1056.3h0M392.3 1128.6h0M720.6 1056.3h0M379.9 1241.2h0M723.3 1056.3h0M248.5 1186.3h0M644.7 1168.8h0M290.1 1124.2h0M189.2 1168.8h0M251.8 1078h0M669.3 1168.8h0M453.1 1128.8h0M718 1168.7h0M493.9 1128.8h0M322.9 1241h0M619.7 1168.7h0M492.6 1241h0M357.5 1128.9h0M254.5 1081.6h0M591.6 1076.1h0M267.6 1098h0M193.6 1056.6h0M354 1240.9h0M350.4 1129h0M142.5 1168.5h0M169.6 1056.7h0M636.3 1056.8h0M504.3 1129.1h0M434.7 1240.8h0M617.4 1168.4h0M420.2 1129.1h0M408.5 1129.2h0M635.5 1056.8h0M685.5 1056.8h0M567.5 1218.2h0M220.7 1056.9h0M442.9 1240.6h0M327 1129.3h0M418 1240.6h0M529 1240.6h0M579.3 1203.2h0M571.8 1101.4h0M315.8 1129.4h0M536 1240.5h0M706.4 1168.2h0M655.1 1057.1h0M243.7 1179.5h0M421.1 1240.4h0M402 1129.5h0M176 1168h0M397.4 1129.5h0M113.7 1057.2h0M537.9 1240.4h0M425.8 1240.4h0M320.8 1129.6h0M331.6 1129.6h0M448.8 1240.3h0M446.4 1129.7h0M130.4 1167.8h0M542.6 1239.9h0M552.8 1124.3h0M481.5 1129.8h0M260.9 1090.4h0M670 1167.7h0M705.1 1057.5h0M358.8 1129.8h0M424.2 1129.9h0M525.7 1239.9h0M574.2 1209h0M489.9 1130h0M414.2 1239.9h0M186.7 1167.6h0M602.2 1174.5h0M665.8 1167.5h0M120.7 1057.7h0M335.5 1239.8h0M652.5 1167.5h0M237.5 1172.6h0M322.4 1239.8h0M284 1119.7h0M461.4 1239.8h0M117.3 1167.4h0M166.4 1057.8h0M679 1167.3h0M711.7 1057.9h0M468.5 1130.3h0M694.4 1167.3h0M552 1234.8h0M225.1 1058h0M535.6 1130.4h0M119.1 1167.2h0M727.3 1058h0M604 1063.5h0M646.8 1058.1h0M135.6 1167.1h0M143.4 1167.1h0M434.6 1239.4h0M501.8 1130.5h0M129.3 1058.2h0M197.2 1167h0M452.4 1239.3h0M385.9 1239.3h0M643.8 1058.2h0M394.9 1239.3h0M608.3 1169.2h0M530.4 1239.2h0M638.5 1058.4h0M217 1166.8h0M444.3 1239.1h0M655.7 1058.5h0M263.6 1094.9h0M473.2 1239.1h0M301.9 1130.9h0M276.1 1218.8h0M665.3 1166.7h0M363.8 1239h0M464.1 1130.9h0M413.6 1239h0M118 1166.6h0M617.1 1166.6h0M556.3 1230.2h0M255.4 1192.7h0M244.1 1070.6h0M550.5 1235.2h0M451.4 1131.1h0M559.1 1226.8h0M729.3 1058.7h0M189.5 1166.4h0M724 1058.8h0M624 1166.4h0M188.8 1058.8h0M377.5 1131.1h0M186 1058.8h0M237.9 1171.8h0M588.1 1190.4h0M681.2 1166.4h0M714.4 1058.8h0M476.7 1131.2h0M610.2 1167.8h0M545.7 1130.2h0M200.7 1059h0M396.5 1238.6h0M570.9 1211.7h0M204 1059h0M589.6 1081.1h0M468.6 1131.4h0M136.6 1166.2h0M509.4 1131.4h0M534.7 1131.4h0M260.6 1198.7h0M440.3 1238.5h0M321.5 1131.4h0M340.9 1131.5h0M351.3 1238.4h0M445.3 1131.5h0M568.8 1214.3h0M499.9 1238.4h0M502.2 1238.4h0M582.9 1089.6h0M655.6 1059.2h0M481.5 1131.6h0M317.9 1238.3h0M408.3 1131.6h0M443.5 1131.6h0M199.8 1059.3h0M561.8 1116.2h0M281.2 1224.4h0M503.5 1131.6h0M481.1 1238.2h0M726.7 1059.3h0M682 1059.3h0M281.8 1225h0M600 1175.1h0M606 1169.7h0M115.9 1059.4h0M319 1131.7h0M650.2 1165.8h0M146.3 1059.4h0M721.3 1165.8h0M521.4 1131.8h0M384.7 1131.8h0M307.9 1238.1h0M473.4 1131.8h0M263.9 1202.4h0M172.5 1059.5h0M429.4 1238h0M557.5 1227.9h0M564 1219.8h0M459.2 1132h0M527.6 1237.9h0M537 1132h0M251.8 1187.2h0M190.9 1059.7h0M293.5 1235.6h0M622.5 1059.7h0M279.3 1221.6h0M195.8 1165.5h0M466.6 1237.8h0M197.7 1165.4h0M624.5 1165.4h0M312.3 1237.8h0M478.4 1237.8h0M216 1165.4h0M267.4 1100.9h0M394.3 1237.7h0M189.2 1059.8h0M595.1 1075h0M507.3 1237.7h0M364.3 1237.7h0M155.3 1059.9h0M578.5 1095.9h0M298.4 1131.8h0M634.3 1059.9h0M331.3 1132.3h0M217.6 1059.9h0M583.9 1194.5h0M679.7 1060h0M242.6 1070.1h0M307.1 1237.6h0M628.8 1060h0M462.5 1132.3h0M229.9 1166h0M577.3 1097.5h0M259.3 1196.2h0M450.4 1132.4h0M270.2 1104.7h0M703.1 1060h0M660 1060.1h0M605.2 1169.6h0M114.6 1165.1h0M563.5 1114.9h0M540.8 1132.4h0M360.2 1132.5h0M544.7 1131.7h0M658 1060.1h0M649.9 1060.1h0M348 1132.5h0M520.8 1132.5h0M143.3 1165h0M373.8 1237.4h0M728.3 1165h0M631.2 1165h0M196.2 1060.2h0M387.7 1237.3h0M636.4 1165h0M484.7 1237.3h0M716.1 1060.3h0M362.8 1132.6h0M226.9 1165h0M673.8 1164.9h0M403 1132.7h0M172.9 1164.9h0M722.2 1164.8h0M215.6 1164.8h0M170.8 1060.4h0M592.2 1079.2h0M372.1 1237.1h0M150.3 1060.4h0M574.6 1205.7h0M592.4 1183.2h0M377.6 1132.9h0M535.9 1132.9h0M290.5 1128.6h0M662.7 1060.6h0M718.5 1164.6h0M304.9 1237h0M330.3 1133h0M456.2 1236.9h0M136.4 1164.5h0M694.2 1164.5h0M670.3 1060.7h0M603.5 1170.3h0M612.6 1165h0M554.9 1125.8h0M490.7 1236.8h0M172.9 1164.4h0M706 1060.8h0M408.4 1236.8h0M281.3 1119.4h0M132.8 1060.8h0M695 1164.3h0M316.3 1236.6h0M112.7 1060.9h0M553.7 1230.4h0M129.6 1061h0M336.5 1236.6h0M299.7 1236.4h0M507.6 1133.4h0M496 1236.5h0M225.9 1061.1h0M372.5 1236.5h0M643.2 1164.1h0M537.2 1236.5h0M704.7 1061.1h0M308.4 1133.5h0M288.1 1230.2h0M519.7 1236.4h0M713.4 1164.1h0M374.8 1236.4h0M559.3 1121.2h0M529.4 1133.5h0M439.7 1236.4h0M660.1 1164h0M329.4 1133.6h0M490.9 1236.3h0M389.9 1133.7h0M555.6 1228.1h0M274.7 1111.7h0M553.1 1128h0M394.8 1133.9h0M422.3 1133.9h0M203.9 1163.7h0M168.1 1061.5h0M237.8 1066.9h0M319.9 1236h0M130.6 1163.6h0M253.6 1085.4h0M602.1 1170.7h0M220.9 1163.6h0M182.2 1061.6h0M413.7 1235.9h0M422.8 1134h0M208 1061.6h0M722.4 1061.6h0M582 1093.3h0M488.3 1235.9h0M378.6 1235.9h0M278.6 1116.8h0M195.7 1061.7h0M249.8 1182.6h0M651.8 1061.7h0M271.7 1210.1h0M235.6 1065.4h0M519.9 1134.1h0M125.6 1163.5h0M643.3 1061.8h0M651.9 1163.4h0M141.8 1163.4h0M188.3 1061.8h0M606.6 1065.2h0M625.3 1061.8h0M693.3 1163.3h0M428.9 1134.2h0M565.1 1216.1h0M356.6 1134.2h0M311.9 1134.2h0M697.7 1061.9h0M463.7 1134.3h0M197.1 1061.9h0M614.6 1062.1h0M452.3 1235.6h0M132.3 1062h0M609.6 1063.7h0M209.1 1062h0M671.1 1062h0M476.8 1235.5h0M327.5 1134.4h0M597.5 1074.2h0M726.2 1062.1h0M585.5 1190.4h0M149.3 1163.1h0M312 1235.4h0M295.9 1133.3h0M552.2 1230.5h0M199.4 1163.1h0M325.8 1134.5h0M205.9 1163h0M227 1163.1h0M468.1 1134.6h0M575.8 1202.3h0M522.3 1134.7h0M160.6 1162.9h0M686.4 1062.3h0M571.5 1207.7h0M303.6 1134.7h0M693.7 1162.8h0M344.3 1134.8h0M688.7 1162.7h0M404.9 1235.1h0M725.5 1062.5h0M622.3 1162.7h0M304.9 1134.9h0M475.8 1134.9h0M222.2 1062.6h0M518.5 1235h0M388.6 1235h0M337.4 1134.9h0M267.2 1103.5h0M661.3 1062.6h0M306.6 1135h0M666 1062.6h0M558.4 1223.7h0M357 1135.1h0M724 1162.5h0M300.5 1234.7h0M712.4 1162.4h0M325.9 1234.7h0M502.6 1234.7h0M706.5 1062.9h0M518.8 1234.7h0M223.2 1162.3h0M130 1062.9h0M275.9 1114.7h0M285.3 1225.7h0M528.4 1234.6h0M227.4 1063.1h0M513.5 1234.6h0M549.6 1231.5h0M181.4 1063h0M437.3 1234.5h0M336.1 1135.4h0M710.1 1162.1h0M369.8 1234.4h0M601.3 1071h0M372.8 1234.4h0M425.9 1234.4h0M281.1 1121.5h0M245.3 1175.4h0M466.4 1135.6h0M520.6 1234.3h0M149.8 1162h0M289.8 1130.8h0M399.5 1234.3h0M252.9 1184.9h0M325 1234.3h0M208.1 1161.9h0M223.1 1063.3h0M219.1 1161.9h0M618.9 1063.3h0M228.4 1063.7h0M337.5 1135.7h0M229 1162.4h0M651.7 1161.8h0M189.6 1161.8h0M569.4 1209.2h0M483.7 1135.7h0M342.6 1234.2h0M431 1234.1h0M311 1135.8h0M507.5 1234.1h0M362.4 1135.8h0M727.2 1063.5h0M514.1 1135.8h0M477.5 1234h0M500.4 1234h0M324.1 1135.9h0M118.8 1161.7h0M689.5 1161.7h0M525.8 1234h0M560.4 1122.3h0M530.7 1136h0M214.1 1161.5h0M463.2 1136h0M466.3 1233.9h0M417.1 1233.9h0M238.8 1167.7h0M392.7 1136h0M668 1161.5h0M401.8 1233.8h0M552.2 1228.9h0M199.7 1161.5h0M668.8 1063.7h0M260.6 1096.3h0M173.5 1063.8h0M241.8 1170.7h0M309.4 1136.1h0M605.7 1067.8h0M257.6 1092.6h0M679.3 1161.4h0M229.3 1162h0M509.2 1233.7h0M518.4 1136.2h0M146.6 1063.9h0M492.1 1233.7h0M662.6 1063.9h0M596.1 1175.3h0M119 1161.3h0M243.5 1075.1h0M230.5 1064.9h0M240.8 1072h0M228.2 1161.6h0M425.9 1136.3h0M477.6 1233.6h0M303.8 1233.6h0M638.8 1064h0M224.8 1064h0M558.3 1125.3h0M512.7 1233.6h0M481.2 1233.5h0M653 1064h0M645.5 1064h0M504.8 1233.5h0M551.4 1132.2h0M565.5 1116.5h0M318.7 1233.4h0M499.5 1136.5h0M658.1 1064.1h0M538.1 1136.5h0M380.4 1233.4h0M666.2 1161h0M571.9 1205.3h0M431.2 1233.3h0M326.4 1233.3h0M413.6 1233.3h0M618.4 1064.2h0M490.9 1136.6h0M352.2 1233.3h0M593.1 1082h0M523.2 1136.6h0M636.7 1064.4h0M407.3 1233.2h0M646 1064.4h0M699.5 1064.4h0M542.5 1136.5h0M157.6 1064.4h0M603.9 1069.8h0M283.8 1222.5h0M427.3 1233.2h0M632.8 1064.4h0M179.3 1160.8h0M134.1 1064.5h0M641.2 1160.7h0M689.5 1160.7h0M353.1 1233.1h0M269.3 1108.1h0M475.6 1136.9h0M140.4 1160.6h0M229 1161.2h0M497.4 1137h0M482.9 1137h0M423.1 1137h0M112.9 1160.5h0M230.9 1065.8h0M488.1 1137.1h0M126.5 1160.5h0M424.2 1232.8h0M694.8 1064.7h0M457.9 1232.8h0M173.3 1160.5h0M401.4 1232.8h0M547.4 1135.3h0M256.6 1092.4h0M144.8 1160.4h0M419.8 1232.7h0M151.2 1064.8h0M539 1137.2h0M480.9 1232.7h0M170.4 1160.3h0M710.7 1160.3h0M621.9 1064.9h0M687.3 1064.9h0M605.7 1069h0M651.6 1160.3h0M391.2 1137.3h0M427.1 1137.3h0M274.6 1115.1h0M705.4 1160.2h0M580.3 1194h0M578 1196.9h0M346.1 1137.4h0M717.9 1065h0M706.1 1065.1h0M134.3 1160.1h0M230.2 1161h0M184.3 1065.1h0M623.1 1065.1h0M349.5 1232.4h0M699.4 1160.1h0M496.2 1137.5h0M270.7 1110.4h0M662.1 1160.1h0M436.2 1232.4h0M354.7 1137.5h0M256.7 1187.8h0M572.3 1109h0M231.7 1161.5h0M554.4 1130.7h0M146 1065.2h0M247.9 1081.9h0M615.7 1065.3h0M428.6 1137.6h0M596.6 1173.2h0M713.5 1159.9h0M273.4 1208.6h0M522 1137.6h0M475 1137.7h0M194.5 1159.9h0M294.9 1136.1h0M204.2 1159.9h0M499.5 1137.7h0M391.7 1232.2h0M411.7 1232.2h0M273.7 1114.5h0M240.4 1073.1h0M316.8 1232.2h0M300.9 1232.2h0M629.5 1065.4h0M178.3 1065.4h0M227.7 1160h0M341.7 1232.1h0M210.2 1159.8h0M491.7 1232.1h0M670.1 1065.4h0M708.3 1159.8h0M120.1 1159.7h0M602.5 1072.1h0M374.2 1232.1h0M622.4 1159.7h0M560.1 1218.8h0M430.8 1137.9h0M277.9 1119.8h0M654.8 1065.5h0M408.4 1137.9h0M351.1 1232h0M262.5 1194.7h0M314.3 1232h0M613 1066h0M668.7 1065.6h0M318.1 1232h0M553.8 1225.7h0M666.8 1065.6h0M376.9 1231.9h0M565.3 1118.2h0M497.9 1231.9h0M440 1231.9h0M294.5 1230.1h0M685.4 1159.5h0M582.3 1190.7h0M310.6 1231.8h0M418.9 1138.1h0M282.2 1219.1h0M219.9 1065.8h0M373.4 1138.2h0M437.8 1231.7h0M402.7 1231.7h0M133.9 1159.3h0M717.9 1159.3h0M154.1 1159.3h0M372.9 1231.6h0M330.4 1138.3h0M573.6 1108.1h0M711.5 1065.9h0M635.3 1159.3h0M126 1065.9h0M341.9 1138.3h0M467.1 1138.3h0M427.6 1231.6h0M199.7 1159.2h0M532.5 1231.6h0M508 1231.5h0M368.9 1138.4h0M560.7 1217.5h0M703.8 1066h0M250.6 1179.2h0M673.2 1159.1h0M685.2 1159.1h0M297 1230.6h0M506.9 1231.4h0M552.8 1133.1h0M444.8 1138.5h0M129 1066.2h0M485.5 1231.3h0M342.3 1231.3h0M666.5 1158.9h0M315.4 1231.3h0M690.7 1066.3h0M209.9 1158.9h0M617 1158.9h0M293.6 1136.4h0M326 1231.2h0M263.2 1102.2h0M174.4 1066.3h0M247.5 1082.6h0M376.7 1231.2h0M131 1158.8h0M480.4 1138.8h0M542.1 1138.7h0M339.2 1138.8h0M584.7 1094.7h0M458.7 1231h0M386.4 1231h0M714.4 1066.5h0M416.3 1231h0M207.7 1158.6h0M664.8 1158.6h0M152.3 1158.6h0M197 1066.6h0M532.9 1139h0M248 1083.4h0M115.5 1066.6h0M520.5 1230.9h0M233.5 1160.9h0M120 1066.7h0M504.5 1139h0M595.7 1173h0M252.3 1088.9h0M658.9 1066.7h0M135.2 1066.7h0M629.5 1158.5h0M566.7 1209.2h0M525 1139.1h0M454.8 1139.1h0M717.8 1158.5h0M133.1 1066.7h0M183 1158.5h0M354.6 1230.8h0M121.5 1158.4h0M584.6 1095.1h0M639.7 1066.8h0M684.4 1066.8h0M138.3 1158.4h0M342.8 1139.2h0M461.9 1230.7h0M491.4 1230.7h0M614.4 1067.1h0M694.3 1158.3h0M128.4 1158.3h0M231.9 1159.8h0M706.1 1066.9h0M158.5 1066.9h0M655.3 1158.2h0M600.8 1075.4h0M201.6 1158.2h0M381.2 1139.4h0M320.7 1230.5h0M322.2 1139.4h0M292.7 1227.7h0M296.5 1229.6h0M148 1067h0M364.6 1230.5h0M687 1067.1h0M598.7 1077.8h0M607.6 1160.9h0M117.2 1158.1h0M539 1230.5h0M262.9 1102.6h0M267.9 1108.9h0M691.6 1067.1h0M150.1 1067.1h0M361 1230.4h0M376.9 1139.5h0M528.6 1230.4h0M498.6 1139.5h0M420.2 1139.5h0M678.2 1158h0M533.6 1230.4h0M704.8 1158h0M592.5 1176.5h0M163.9 1067.2h0M410.5 1139.6h0M513.7 1139.6h0M628.1 1067.3h0M468.9 1230.3h0M260.3 1190.1h0M422.4 1139.6h0M515.1 1230.3h0M645.8 1157.9h0M367.8 1230.2h0M236.4 1162.1h0M511.1 1139.7h0M687.1 1157.8h0M239.7 1164.9h0M221.2 1157.8h0M672.3 1157.8h0M340 1230.1h0M639 1157.8h0M154.2 1157.8h0M602.7 1073.9h0M480.1 1139.8h0M472.9 1139.8h0M246.2 1172.3h0M632.1 1067.5h0M638.2 1067.5h0M145.1 1067.5h0M581.6 1189.8h0M429.6 1139.9h0M623.2 1157.7h0M179.5 1067.5h0M486.4 1139.9h0M244.9 1170.5h0M279.6 1214h0M233.1 1069.7h0M503.1 1139.9h0M637.7 1157.6h0M269.6 1201.5h0M652.5 1067.6h0M551.3 1225.7h0M365.3 1140h0M212.4 1157.5h0M216.8 1157.5h0M424 1229.9h0M317.1 1229.9h0M162.1 1157.5h0M666.9 1067.7h0M462.8 1229.8h0M573.2 1110.4h0M349.8 1140.1h0M665.9 1157.4h0M155.9 1157.4h0M314.7 1140.2h0M619.4 1157.4h0M545.1 1139.3h0M287.7 1223.2h0M389.5 1229.7h0M209.5 1067.8h0M117.3 1067.8h0M396.9 1229.7h0M728.2 1157.3h0M561 1125.8h0M153.2 1067.9h0M616.2 1157.3h0M123 1157.3h0M224 1067.9h0M634.5 1157.3h0M280 1124.8h0M305.4 1229.6h0M708.3 1157.3h0M320.8 1140.3h0M489.1 1229.6h0M302.2 1229.6h0M643.9 1068h0M545.1 1228.7h0M410.1 1140.4h0M424 1229.5h0M541.6 1140.3h0M355.5 1140.4h0M538 1140.4h0M676.6 1068h0M437.4 1229.5h0M623.9 1157.1h0M558.3 1129.4h0M671.2 1068.1h0M425.9 1229.4h0M566.3 1119.5h0M288.6 1223.7h0M224.3 1157.1h0M504.8 1140.5h0M467.1 1229.4h0M149 1068.2h0M532.5 1140.6h0M139.2 1068.2h0M486.3 1229.3h0M631.7 1068.2h0M391.3 1140.6h0M518.1 1140.6h0M605.6 1072.3h0M174.3 1068.3h0M241.5 1165.8h0M261.2 1101.7h0M678.9 1156.9h0M118 1156.9h0M657.1 1156.9h0M433.8 1229.2h0M335.6 1140.7h0M592.1 1175.8h0M689.8 1156.8h0M116.6 1156.8h0M728.5 1068.4h0M605.6 1160.9h0M327.3 1229.2h0M598.5 1167.8h0M200.6 1068.4h0M422.9 1229.2h0M494 1229.1h0M426.8 1140.8h0M525 1229.1h0M599.5 1078.2h0M457.5 1229.1h0M440.9 1140.8h0M573.2 1111.2h0M147.1 1156.7h0M332 1229.1h0M298.8 1140.6h0M633.4 1068.5h0M597.8 1080.3h0M306.2 1140.9h0M145.9 1156.6h0M169 1156.6h0M721 1156.6h0M615.3 1156.7h0M373.3 1228.9h0M386.6 1228.9h0M197.9 1068.7h0M595.8 1170.8h0M586.7 1094.4h0M183.9 1068.7h0M671.4 1156.5h0M122.9 1156.5h0M429.4 1228.8h0M697.7 1068.8h0M189.2 1156.4h0M542 1141h0M176.5 1068.8h0M617.7 1156.4h0M325.5 1228.7h0M631.1 1156.4h0M570.1 1203h0M429 1141.2h0M400.5 1141.2h0M472.7 1141.2h0M212.7 1068.9h0M527.6 1228.7h0M658.3 1068.9h0M532.9 1141.2h0M360.5 1228.6h0M433 1141.3h0M724 1068.9h0M628.5 1068.9h0M715.8 1156.3h0M454.9 1141.3h0M246 1170.6h0M481.9 1228.6h0M615 1156.4h0M545.1 1140.4h0M665.6 1156.2h0M669.4 1069h0M729.1 1156.2h0M405.7 1141.3h0M240 1076.4h0M423.4 1141.4h0M299.6 1141.2h0M691.3 1069h0M658.7 1156.2h0M389.4 1228.5h0M233.1 1158.3h0M418.6 1228.5h0M441.7 1141.4h0M161.7 1069.1h0M655.6 1069.1h0M363.6 1141.4h0M647.9 1156.1h0M359.4 1141.5h0M552.2 1223.5h0M495.6 1141.5h0M411.5 1228.4h0M702.2 1156h0M317.3 1228.4h0M218.9 1069.2h0M535 1141.6h0M419.7 1228.3h0M404.8 1228.3h0M467.6 1228.3h0M347.9 1141.6h0M454.6 1228.3h0M319.5 1141.6h0M342.1 1141.7h0M574.9 1196.4h0M584.4 1184.5h0M295.3 1140.3h0M162.6 1155.8h0M330.4 1228.2h0M396.8 1228.2h0M645.5 1155.8h0M392.5 1228.1h0M415 1228.1h0M624.9 1069.4h0M281.6 1214.8h0M341.3 1228.1h0M223.4 1069.4h0M553 1222.5h0M244.8 1082.2h0M288.2 1222h0M198.1 1069.5h0M195.4 1155.7h0M369.7 1141.8h0M196.3 1069.5h0M521.3 1141.9h0M668.1 1155.7h0M445.9 1228h0M311 1228h0M452.6 1141.9h0M160 1069.5h0M332.9 1228h0M624.1 1069.6h0M327.7 1141.9h0M601.2 1163.6h0M231.2 1156.9h0M279.1 1211.4h0M632.5 1069.6h0M701.6 1155.6h0M444.9 1142h0M567.9 1204.9h0M728.3 1069.6h0M176.8 1069.6h0M682.8 1155.5h0M575 1110.1h0M265.4 1108.3h0M151.4 1069.7h0M512.2 1227.8h0M492.7 1142.2h0M286.6 1134.6h0M484.1 1142.2h0M687.6 1069.8h0M147.8 1069.8h0M162.9 1069.9h0M125.2 1155.3h0M402 1227.7h0M372.9 1142.2h0M358.1 1142.2h0M721.8 1155.3h0M318.9 1142.2h0M529.8 1142.2h0M269.5 1113.7h0M375.5 1142.3h0M542.2 1227.5h0M346.1 1142.3h0M485.5 1142.3h0M134.8 1070h0M457.9 1142.3h0M277.7 1124h0M119.9 1070h0M510.7 1142.3h0M183 1070h0M662.6 1070h0M575.4 1195.1h0M159.8 1070h0M473.7 1142.4h0M415.9 1142.4h0M686.3 1070.1h0M210 1070.1h0M354.6 1142.4h0M567.9 1119.4h0M471 1142.5h0M376 1227.4h0M258.9 1185.6h0M387.3 1142.5h0M700.8 1070.2h0M180.1 1155h0M593.5 1172.1h0M618.7 1070.2h0M603.6 1160.6h0M290.9 1223.3h0M382 1142.7h0M238.2 1076h0M476.8 1142.7h0M725.6 1070.3h0M333.4 1227.2h0M366.6 1142.7h0M439 1227.2h0M728.3 1070.3h0M463.5 1227.2h0M202 1070.3h0M413.1 1142.7h0M621.6 1154.8h0M321.4 1142.7h0M659.9 1070.4h0M262 1189.2h0M196.6 1154.8h0M216.8 1070.4h0M483.9 1142.8h0M206.3 1070.4h0M431.1 1227.1h0M599.2 1164.8h0M461.9 1227.1h0M681.1 1070.5h0M330.7 1227h0M653.1 1070.5h0M700.7 1070.5h0M433.4 1227h0M501.3 1142.9h0M573.3 1197.1h0M406.6 1227h0M566.1 1122.1h0M168.2 1154.6h0M140 1154.6h0M423.2 1142.9h0M200.2 1154.6h0M454.1 1227h0M243.3 1081.5h0M691.6 1154.6h0M690.3 1070.6h0M502.8 1143h0M477.7 1226.9h0M133.4 1070.6h0M288.8 1221.4h0M166.2 1070.6h0M250.5 1090.6h0M262.8 1106.1h0M644.1 1154.5h0M498.7 1143h0M265 1192.6h0M193.9 1154.5h0M456.4 1143.1h0M253.2 1177.8h0M454.8 1143.1h0M258.2 1184h0M425.6 1143.1h0M560.9 1212.6h0M634.1 1154.4h0M722.8 1154.4h0M547.3 1141.4h0M411.8 1143.1h0M619.7 1070.8h0M386.8 1143.1h0M540.6 1143.2h0M453.6 1226.7h0M475.5 1226.7h0M481.1 1226.7h0M190.1 1070.8h0M366.3 1143.2h0M236.6 1158.7h0M528.1 1226.7h0M307.5 1143.2h0M608.3 1073.2h0M362.9 1143.2h0M145.8 1070.9h0M117 1070.9h0M125.9 1070.9h0M558.3 1215.6h0M718.8 1154.3h0M551.3 1139.1h0M605.4 1158.5h0M239.5 1077.8h0M143.7 1070.9h0M495.3 1143.3h0M715.4 1154.2h0M485.1 1226.6h0M159.4 1071h0M557.4 1133.4h0M371.1 1226.5h0M256.8 1182.1h0M349.7 1143.4h0M252.2 1176.3h0M343.6 1226.5h0M428.7 1143.4h0M468.7 1143.4h0M270.7 1116.4h0M306.2 1143.4h0M708.4 1071.1h0M210.4 1154.1h0M250.6 1174.2h0M173.3 1071.1h0M603.4 1077h0M452.7 1226.4h0M130.8 1071.1h0M632.9 1154h0M640.7 1071.2h0M287.9 1137.1h0M357.4 1226.4h0M248.8 1171.8h0M676.7 1154h0M628.1 1071.2h0M224.2 1071.2h0M397.1 1226.3h0M603.4 1159.8h0M563.3 1209.1h0M447.8 1226.3h0M166 1153.9h0M536.1 1226.3h0M199.2 1071.3h0M284.7 1134h0M694.6 1071.3h0M114.8 1153.9h0M582.8 1184.5h0M465.4 1226.3h0M392.6 1143.6h0M202.1 1153.9h0M649.6 1071.3h0M214.6 1071.3h0M286.1 1218.1h0M611 1155h0M123.8 1071.3h0M211 1153.8h0M461.8 1226.2h0M590.7 1174.6h0M721.2 1071.4h0M510.9 1226.2h0M717.2 1071.4h0M407.6 1143.7h0M383.5 1226.2h0M712.2 1153.8h0M152 1153.8h0M656.6 1071.4h0M485.6 1143.8h0M564.4 1207.5h0M425.5 1226.1h0M680.7 1071.4h0M496.7 1143.8h0M506.6 1143.8h0M408.1 1226.1h0M651.4 1153.7h0M684.5 1153.7h0M211.8 1153.7h0M590 1175.2h0M415.8 1226h0M356.1 1143.9h0M388.1 1226h0M493.4 1226h0M344.8 1143.9h0M437.2 1144h0M714.1 1071.6h0M425 1144h0M424.8 1225.9h0M529.2 1225.9h0M711.8 1153.6h0M701.4 1071.7h0M332.9 1144h0M172.6 1071.7h0M288.7 1138.4h0M360.1 1144.1h0M257.7 1100.7h0M138.1 1071.7h0M574 1113.3h0M566 1123.4h0M341.8 1144.1h0M290.8 1221.8h0M404.6 1225.7h0M541.2 1225.7h0M497.1 1225.7h0M470.2 1225.7h0M661.7 1153.3h0M667.4 1153.3h0M278.6 1208.5h0M574.2 1194.6h0M620.2 1153.3h0M340.9 1225.6h0M543.1 1225.3h0M258.2 1101.6h0M553.9 1219.2h0M609 1074h0M498.6 1225.6h0M190.6 1072h0M149.7 1072h0M227.4 1072.2h0M623.6 1153.2h0M252.7 1175.9h0M196.1 1072h0M500.9 1144.4h0M630.1 1072h0M565.2 1124.8h0M353.2 1144.4h0M597.7 1165h0M660 1072.1h0M137.5 1153.1h0M508.3 1225.5h0M368 1225.5h0M582 1103.7h0M650.7 1153.1h0M284.8 1134.9h0M542.9 1144.2h0M440.4 1144.5h0M322.9 1144.5h0M681.9 1153.1h0M166 1072.1h0M448.4 1225.4h0M369.1 1225.4h0M712.3 1072.2h0M391.9 1144.5h0M186.4 1153h0M130 1153h0M550.2 1141.1h0M457 1225.4h0M583.7 1101.7h0M357.5 1225.3h0M310.7 1144.6h0M245.8 1086.2h0M552.1 1220.5h0M663 1072.2h0M699.4 1153h0M498.8 1144.6h0M704.3 1153h0M274.7 1203.2h0M406.6 1225.3h0M530.8 1144.6h0M339 1225.3h0M330.8 1144.6h0M697.7 1152.9h0M432.5 1225.3h0M269.8 1197.1h0M134 1072.3h0M653.9 1152.9h0M609.7 1154.6h0M713.6 1152.9h0M592.6 1171.1h0M579.4 1187.7h0M422.1 1225.2h0M701.1 1072.3h0M454.9 1225.2h0M264.6 1190.5h0M432.4 1144.7h0M273.7 1121.5h0M665.4 1152.8h0M474.9 1144.8h0M352.2 1144.8h0M273.8 1202h0M168.7 1152.8h0M549 1142.1h0M206.9 1072.4h0M312.8 1225.1h0M304.8 1225.1h0M234.8 1075.6h0M297.9 1144.3h0M575.1 1193h0M117.3 1072.5h0M506.2 1225.1h0M409.2 1225.1h0M170.7 1152.7h0M225.2 1152.7h0M569.2 1200.4h0M503.5 1144.9h0M401.4 1225h0M545.6 1143.8h0M509.7 1225h0M668.8 1072.5h0M520.3 1225h0M374.2 1144.9h0M465.5 1225h0M341.9 1144.9h0M715.2 1152.6h0M610.8 1073.8h0M128.7 1152.5h0M171.8 1072.7h0M323.2 1224.9h0M212.3 1152.5h0M508.4 1145h0M617.6 1152.5h0M558.7 1133.6h0M716.7 1152.5h0M585.2 1100.3h0M471.5 1145.1h0M690 1072.7h0M363.2 1145.1h0M667.7 1072.7h0M616.2 1152.5h0M610 1154h0M510 1145.1h0M413.4 1224.8h0M447.4 1224.8h0M376.4 1145.1h0M291.5 1141.6h0M684.5 1072.8h0M646.8 1152.4h0M379.5 1145.2h0M129.2 1072.8h0M348.7 1224.7h0M469.3 1145.2h0M349.7 1145.2h0M273 1200.5h0M313.6 1224.7h0M537.7 1224.7h0M564.4 1206h0M624 1152.3h0M222.9 1072.9h0M672.2 1152.3h0M620.1 1073h0M207.5 1152.2h0M343.9 1145.3h0M659.2 1073h0M532.4 1145.3h0M547.8 1222.5h0M292.6 1221.7h0M367.8 1224.5h0M652.3 1073h0M130.9 1152.2h0M458.8 1145.4h0M156.3 1152.2h0M296 1144.3h0M353.5 1224.5h0M256.2 1179.2h0M510.2 1145.4h0M729.1 1073.1h0M119.8 1152.1h0M402.2 1145.5h0M268.7 1115.9h0M595.2 1088.2h0M281.3 1131.7h0M648.3 1073.1h0M187.6 1073.1h0M649.4 1152.1h0M615.8 1073.2h0M138.3 1152.1h0M144.2 1073.1h0M142 1073.2h0M280.4 1209.5h0M305.7 1145.5h0M128.7 1152h0M446.1 1145.5h0M624.1 1073.2h0M658.3 1073.2h0M357.9 1224.3h0M289 1218.8h0M401.3 1224.3h0M625 1151.9h0M695.8 1151.9h0M155.4 1073.3h0M694.7 1073.3h0M400.5 1145.7h0M243.6 1163.1h0M193.2 1151.9h0M467.5 1224.2h0M491.8 1145.7h0M234.7 1076.5h0M311.9 1145.7h0M576.2 1112.2h0M717.6 1151.8h0M176.9 1151.8h0M651.3 1151.7h0M602.3 1080.4h0M585.3 1179.2h0M170.9 1151.7h0M626.4 1073.5h0M419.8 1145.9h0M464.9 1224h0M183.2 1151.7h0M545.1 1223.1h0M395 1145.9h0M461.8 1145.9h0M539 1145.9h0M515.7 1145.9h0M328.1 1224h0M565.7 1203.6h0M501.7 1224h0M583.7 1181.1h0M198 1151.6h0M368.6 1223.9h0M482 1223.9h0M203 1151.6h0M276 1203.5h0M646.9 1151.5h0M726.7 1151.5h0M419 1146h0M306.7 1223.9h0M620.4 1073.7h0M446.6 1223.8h0M658.1 1073.7h0M269.9 1118h0M515.9 1223.8h0M454.1 1223.8h0M628.5 1073.7h0M357.5 1146.1h0M559.8 1133.2h0M273.9 1123.1h0M384.4 1146.1h0M718.7 1073.7h0M547.7 1221.8h0M720.2 1151.5h0M253.2 1174.8h0M522.5 1146.1h0M136.1 1151.4h0M607.8 1154.1h0M418.4 1223.8h0M493.9 1223.8h0M233.4 1153.7h0M706.5 1151.4h0M573.3 1194h0M246.6 1088.9h0M481.7 1223.8h0M311.9 1223.8h0M448.2 1146.2h0M714.4 1073.8h0M602.7 1080.4h0M709.2 1073.8h0M596.8 1086.9h0M611.6 1152.2h0M220.8 1073.9h0M319.4 1146.2h0M302.4 1223.7h0M707.8 1073.9h0M698.5 1151.3h0M138.3 1073.9h0M664.5 1151.3h0M617.2 1073.9h0M721.7 1151.3h0M342.6 1146.3h0M189.1 1074h0M131.7 1151.2h0M539.4 1146.3h0M360.1 1146.3h0M289.9 1218.9h0M638.1 1074h0M726.2 1151.2h0M405.2 1146.4h0M456.6 1146.4h0M260 1105.9h0M160.9 1151.2h0M600.9 1159.5h0M391.7 1146.4h0M538.6 1223.5h0M155 1074.1h0M675.4 1074.1h0M180.8 1074.1h0M701.7 1151.1h0M177.8 1074.1h0M693.9 1074.1h0M499.6 1146.5h0M485.5 1223.4h0M553.1 1217.8h0M497.7 1146.5h0M419.6 1146.5h0M429.5 1146.5h0M156.5 1151h0M436.4 1146.5h0M249.4 1169.6h0M201.3 1074.2h0M398.9 1223.4h0M291.9 1143.3h0M650.9 1151h0M320.3 1223.3h0M279.4 1130.4h0M374.1 1146.6h0M196.2 1074.2h0M188.4 1151h0M287 1216.1h0M642.5 1074.3h0M176.9 1150.9h0M153.8 1074.3h0M398.5 1146.6h0M204.4 1074.3h0M708.2 1074.3h0M157.1 1074.3h0M384.7 1146.7h0M267.7 1115.8h0M360.2 1146.7h0M456.7 1146.7h0M496.5 1223.2h0M277.9 1205.2h0M404.9 1223.2h0M385.3 1223.2h0M263.6 1187.2h0M424.1 1223.2h0M354.2 1223.2h0M477.6 1223.2h0M127 1150.8h0M389.7 1223.2h0M161.1 1150.8h0M285.8 1214.7h0M479.8 1146.8h0M526.3 1146.8h0M149.4 1074.4h0M465.5 1146.8h0M585.4 1101.7h0M334.7 1146.8h0M585.9 1101.2h0M493.4 1146.8h0M187.4 1074.4h0M604.8 1079.2h0M215.6 1150.7h0M137.9 1150.7h0M159.8 1074.5h0M254 1175.1h0M667.1 1150.7h0M574.2 1115.8h0M230.7 1151.8h0M699.4 1150.7h0M393.9 1223h0M677.5 1150.7h0M727.1 1150.7h0M440.1 1223h0M594.4 1090.6h0M281.3 1133.1h0M554.8 1215.8h0M552 1142.1h0M567.2 1200.8h0M301.8 1146.9h0M310.3 1146.9h0M235.4 1154.1h0M583.7 1104.1h0M198.4 1150.6h0M374 1147h0M487.1 1222.9h0M527.5 1147h0M373 1222.9h0M593.2 1092.2h0M280.7 1208.4h0M498.8 1147h0M581.1 1183.3h0M238.3 1156.4h0M490.8 1222.9h0M410.6 1222.9h0M284.8 1213.4h0M345.6 1147h0M270.4 1119.6h0M660.6 1074.7h0M571.5 1119.5h0M647.8 1150.5h0M725 1074.7h0M133.5 1074.7h0M186.3 1150.4h0M660.4 1150.4h0M673.2 1150.4h0M629.4 1074.8h0M124.7 1074.8h0M254.9 1175.9h0M505.8 1222.8h0M652.1 1150.4h0M239.8 1157.6h0M272.2 1122h0M614.3 1075h0M402.2 1147.2h0M484.5 1222.7h0M724.7 1150.3h0M705.5 1074.9h0M537.8 1222.7h0M600.9 1158.5h0M399.2 1147.3h0M112 1150.3h0M555.5 1214.7h0M118.2 1074.9h0M409.1 1222.6h0M248.7 1092.7h0M688.4 1150.3h0M377.6 1147.3h0M147.9 1075h0M318 1222.6h0M311 1222.6h0M129.4 1150.2h0M453.2 1147.3h0M512.7 1222.6h0M263.7 1111.5h0M411 1147.4h0M560.9 1208.3h0M479.4 1147.4h0M543.4 1222.1h0M460.1 1147.4h0M407.9 1147.4h0M580.1 1109h0M366.3 1147.4h0M522.4 1147.4h0M370.6 1147.4h0M470.4 1147.5h0M626.5 1075.1h0M177.5 1075.1h0M578.5 1186.1h0M316.8 1147.5h0M177.7 1150.1h0M228.6 1075.6h0M436.4 1147.5h0M357.3 1147.5h0M549.5 1219.4h0M234.8 1078.3h0M225.5 1150h0M450.9 1147.5h0M270.7 1195.3h0M674.5 1075.2h0M192.6 1150h0M155.1 1075.2h0M322.5 1222.4h0M495.9 1147.6h0M123.2 1150h0M294.5 1145.8h0M134 1075.2h0M589.1 1172.7h0M644.2 1150h0M455 1222.3h0M181.4 1149.9h0M259.3 1181h0M448.6 1222.3h0M239.3 1081.9h0M223.4 1075.3h0M709 1075.3h0M284.8 1212.7h0M579.3 1110.3h0M155.8 1149.9h0M571.3 1194.9h0M704.4 1075.3h0M349.7 1147.7h0M301.1 1147.7h0M604.8 1154.6h0M326.7 1147.7h0M152.1 1149.8h0M433.7 1147.7h0M446.1 1147.7h0M303.6 1222.2h0M697.3 1075.4h0M118.6 1075.4h0M716.2 1149.8h0M689.4 1149.8h0M503.4 1147.8h0M562.4 1131.6h0M316.3 1222.1h0M630.2 1149.8h0M454.5 1147.8h0M114.8 1149.7h0M445.7 1222.1h0M174.3 1075.5h0M442.4 1222.1h0M272 1196.6h0M186.4 1149.7h0M381.9 1222.1h0M643.3 1149.7h0M671.8 1149.7h0M508.3 1147.9h0M515.4 1147.9h0M641.5 1075.5h0M439.1 1222h0M358.3 1222h0M289.5 1142.9h0M205.6 1149.7h0M171.7 1075.5h0M297.6 1221.4h0M597.4 1162h0M627.6 1149.6h0M181.6 1075.6h0M203.7 1075.6h0M437.2 1147.9h0M248.7 1167.3h0M497.7 1222h0M151.6 1075.6h0M572.9 1192.6h0M682.1 1149.6h0M581 1108.5h0M611.8 1076.5h0M330.1 1221.9h0M505.7 1221.9h0M721.9 1149.6h0M531.1 1148h0M617.1 1075.7h0M519.9 1221.9h0M728.9 1149.5h0M716.8 1075.7h0M127.7 1149.5h0M254 1100.1h0M636.1 1075.7h0M610.6 1150.8h0M703.4 1149.5h0M512.8 1221.9h0M310.2 1148.1h0M664.4 1149.5h0M517.6 1148.1h0M527.6 1221.8h0M406.6 1221.8h0M245.1 1162.7h0M115.4 1149.5h0M169.9 1149.5h0M169.1 1075.7h0M391.4 1221.8h0M699.5 1149.5h0M335.5 1221.8h0M432 1221.8h0M623.3 1075.8h0M502.2 1148.1h0M594.8 1164.9h0M658.2 1075.8h0M682.3 1075.8h0M129.4 1075.8h0M577.3 1186.9h0M641.7 1149.4h0M357.2 1221.7h0M354.1 1148.2h0M351 1221.7h0M191 1075.9h0M480 1148.2h0M460.9 1148.2h0M470.1 1148.2h0M415.4 1148.2h0M258 1105.2h0M493.4 1221.6h0M455.7 1148.3h0M724.6 1149.3h0M312.4 1148.3h0M345.3 1221.6h0M593.9 1092.7h0M342.7 1221.6h0M489.8 1221.6h0M228.6 1149.7h0M468 1148.3h0M586.3 1102.2h0M183.6 1076h0M117.1 1149.2h0M112 1149.2h0M440.8 1148.4h0M332.2 1148.4h0M261.5 1109.9h0M317.2 1221.5h0M498.5 1148.5h0M247.9 1092.8h0M327.8 1221.4h0M704.7 1076.1h0M650.5 1149.1h0M728.1 1149.1h0M321.1 1148.5h0M687.1 1149.1h0M430.9 1148.5h0M249.7 1168h0M323.3 1148.5h0M627.1 1149h0M676.5 1076.2h0M425 1221.4h0M219.6 1076.2h0M217.7 1076.2h0M336.5 1221.3h0M296.2 1147.5h0M637.2 1076.2h0M575 1116.6h0M137.5 1076.2h0M435.5 1221.3h0M208.5 1076.3h0M503.1 1221.3h0M385.6 1148.6h0M549.2 1218.5h0M160.4 1076.3h0M477.7 1221.3h0M124 1148.9h0M533.7 1221.3h0M629.9 1148.9h0M645.9 1076.3h0M536.8 1221.3h0M295.2 1219.8h0M681.7 1148.9h0M427.7 1221.2h0M467.3 1148.7h0M180.4 1076.3h0M291.7 1145.3h0M710 1148.9h0M317 1221.2h0M527.8 1221.2h0M274.3 1198.7h0M525.8 1221.2h0M218.1 1148.9h0M485.5 1148.7h0M377.6 1148.7h0M215.5 1148.8h0M519.7 1148.7h0M506.6 1221.2h0M431.5 1148.8h0M367 1221.1h0M496.1 1148.8h0M411.8 1221.1h0M142.6 1076.4h0M690.2 1076.4h0M380.9 1221.1h0M501.4 1221.1h0M312.1 1221.1h0M321.2 1148.8h0M663 1148.7h0M655.6 1076.5h0M408.3 1148.9h0M608.1 1079h0M201.5 1148.7h0M443.4 1221h0M586.9 1174.1h0M117.3 1076.5h0M173.9 1076.5h0M129.5 1148.7h0M239.9 1155.9h0M152.4 1148.7h0M461 1221h0M553.9 1214.6h0M388.6 1221h0M717.7 1076.6h0M580.9 1109.6h0M435.6 1149h0M261.6 1182.4h0M666.2 1148.6h0M245 1089.7h0M586.3 1174.7h0M305.3 1220.9h0M177.6 1148.5h0M412.3 1149h0M259.9 1108.4h0M379.2 1149h0M671.4 1076.7h0M269.4 1120.4h0M675.1 1148.5h0M142.4 1076.7h0M315.6 1220.8h0M116.9 1148.4h0M315 1149.1h0M370.2 1149.1h0M218.5 1148.4h0M609.8 1150h0M237.3 1081.8h0M475.9 1220.7h0M460.1 1149.2h0M152.4 1148.4h0M382.5 1149.2h0M225.1 1148.4h0M186.5 1148.4h0M524.1 1220.7h0M500.4 1220.7h0M549.3 1146.4h0M658.2 1148.3h0M211.1 1076.9h0M159.1 1148.3h0M663.3 1076.9h0M423.8 1149.3h0M461.8 1220.6h0M542.7 1149h0M175.8 1076.9h0M177.8 1148.2h0M448 1220.6h0M603 1083.2h0M323.3 1220.6h0M194.5 1148.2h0M149.5 1077h0M431.1 1220.6h0M709.1 1077h0M191.6 1077h0M588.2 1100.8h0M223.3 1148.2h0M488.6 1220.5h0M267 1188.8h0M304 1149.4h0M498.7 1149.4h0M505.7 1220.5h0M240 1084.4h0M567.1 1127.3h0M720.4 1148.1h0M206.6 1077.1h0M118.2 1077.1h0M657 1077.1h0M320 1149.4h0M165.9 1148.1h0M394.4 1149.4h0M631 1077.1h0M401.3 1149.4h0M471.9 1220.5h0M586 1103.6h0M153 1148.1h0M602.2 1084.1h0M681.9 1077.1h0M192.3 1148.1h0M576.2 1187h0M114.7 1148.1h0M534.5 1149.5h0M516.2 1220.4h0M687.2 1148.1h0M568.8 1196.2h0M200.3 1077.1h0M433.6 1149.5h0M418 1220.4h0M536.1 1220.4h0M339.2 1220.4h0M171.6 1148h0M621.5 1077.2h0M349.1 1149.5h0M390.9 1220.4h0M112.9 1077.2h0M595.3 1092.2h0M543.9 1149h0M166.4 1077.2h0M441 1149.6h0M164.1 1147.9h0M535.4 1149.6h0M529.5 1220.3h0M588.8 1170.9h0M377.7 1149.6h0M542.5 1220h0M470.6 1149.7h0M674.1 1077.3h0M422.3 1220.2h0M630.6 1147.9h0M134.4 1077.3h0M345.9 1149.7h0M451.2 1220.2h0M195 1147.8h0M155.1 1077.4h0M475.7 1220.2h0M388.3 1220.2h0M643.4 1147.8h0M133.7 1147.8h0M703.7 1147.8h0M209.3 1077.4h0M328.3 1149.7h0M662.2 1147.8h0M193.5 1077.4h0M375.7 1149.8h0M455 1149.8h0M427.8 1220.1h0M457.3 1220.1h0M620.6 1077.5h0M480.3 1220.1h0M367.2 1220.1h0M403.1 1220.1h0M418.1 1149.8h0M471.5 1149.9h0M442.4 1149.9h0M221.6 1147.7h0M198 1077.5h0M644.7 1077.6h0M285.1 1140.8h0M121.7 1077.6h0M719.8 1077.6h0M288.3 1214h0M169.1 1077.6h0M636.9 1147.6h0M510.4 1149.9h0M473.7 1149.9h0M525.1 1149.9h0M153.6 1077.6h0M592.4 1096.2h0M398.4 1219.9h0M661 1077.6h0M203.9 1147.6h0M334.7 1219.9h0M162.1 1077.6h0M571.4 1122.5h0M452.4 1219.9h0M378.5 1219.9h0M675 1077.7h0M646.4 1077.7h0M252.4 1169.8h0M528.5 1150h0M217.2 1077.7h0M112.5 1077.7h0M465.4 1150h0M319.8 1150.1h0M274.2 1127.3h0M323.3 1219.8h0M215 1077.7h0M574.1 1189h0M276 1129.7h0M233.9 1080.4h0M210.3 1077.8h0M604 1152.8h0M198.3 1147.4h0M341.8 1150.1h0M514.5 1150.2h0M580.6 1111.1h0M657.9 1147.4h0M541.7 1219.6h0M600.1 1087h0M372.4 1150.2h0M170.8 1147.3h0M503.2 1219.7h0M722.3 1147.3h0M693 1147.3h0M384.8 1150.2h0M694.3 1147.3h0M552.6 1144.9h0M449.6 1219.6h0M144.4 1077.9h0M536.5 1219.6h0M674.6 1147.3h0M695.1 1147.3h0M544.3 1149.7h0M271.1 1193h0M242.5 1087.9h0M707.4 1078h0M190 1147.2h0M484.7 1150.3h0M499.4 1150.4h0M203.1 1078h0M728.4 1078h0M516.1 1219.5h0M227.2 1147.3h0M233.8 1149.7h0M625.3 1147.1h0M496 1219.5h0M418.2 1219.5h0M318.2 1150.4h0M185.7 1078.1h0M548.7 1147.9h0M246.3 1161.8h0M443.4 1150.4h0M193.6 1147.1h0M705.6 1078.1h0M341.6 1150.5h0M551.1 1215.3h0M310.2 1150.5h0M389 1150.5h0M160.3 1147.1h0M393.5 1150.5h0M116.4 1078.2h0M493 1219.4h0M575 1118.5h0M723.2 1078.2h0M466.3 1219.4h0M299.7 1219.2h0M235.6 1081.9h0M304 1150.6h0M343.5 1219.3h0M301.9 1219.3h0M170.6 1078.2h0M500.5 1219.3h0M634.5 1078.2h0M378.4 1219.3h0M181.3 1147h0M441.7 1150.6h0M578.5 1114.2h0M632.4 1078.3h0M162.4 1146.9h0M610.7 1148.1h0M249.6 1097.2h0M640.8 1078.3h0M603 1084.6h0M400.4 1150.7h0M511 1219.2h0M172.6 1078.3h0M592.5 1165.2h0M124.3 1078.4h0M430 1219.2h0M240 1085.7h0M277.5 1200.7h0M341.7 1150.7h0M474.7 1219.2h0M217.7 1078.4h0M601.4 1154.5h0M159.7 1078.4h0M609.1 1080.4h0M465 1219.1h0M326.9 1150.8h0M577.1 1184.5h0M113 1078.4h0M307.3 1219.1h0M452.2 1219.1h0M604.7 1151.5h0M141.9 1146.7h0M440 1150.8h0M524.9 1150.8h0M256.3 1105.7h0M389.1 1219.1h0M339 1150.8h0M520.7 1219.1h0M158.1 1078.5h0M726.5 1146.7h0M116.4 1146.7h0M629.7 1078.5h0M346.9 1150.8h0M199.5 1078.5h0M715.3 1146.7h0M500.6 1150.9h0M222.5 1078.5h0M117.8 1078.5h0M472.3 1150.9h0M715.7 1078.5h0M494.9 1150.9h0M618.8 1078.5h0M258.4 1176.5h0M219.7 1146.7h0M683.3 1078.5h0M454.9 1150.9h0M527.5 1150.9h0M699.4 1146.6h0M565.3 1131.2h0M295.2 1149.5h0M645.9 1078.6h0M657.3 1078.6h0M241.4 1155.4h0M310 1219h0M524 1150.9h0M173.5 1078.6h0M612.7 1079.2h0M504 1151h0M290.7 1214.9h0M311.1 1151h0M693.2 1078.6h0M516.8 1218.9h0M661.6 1146.6h0M179.1 1146.6h0M436.5 1151h0M355.9 1151h0M290 1146.4h0M297 1150.2h0M321.2 1218.9h0M689 1146.5h0M473.1 1218.8h0M317.1 1218.8h0M710.7 1078.7h0M491.3 1151.1h0M504.3 1218.8h0M397 1151.1h0M530 1218.8h0M147.2 1078.7h0M337.3 1218.8h0M194.5 1078.8h0M209.7 1146.4h0M307.5 1151.1h0M163 1146.4h0M712.1 1146.4h0M720.3 1078.8h0M703 1146.4h0M637.7 1078.8h0M261.8 1112.9h0M410.1 1218.7h0M539.9 1151.2h0M651 1078.8h0M611.5 1147.3h0M174.3 1146.4h0M469.8 1151.2h0M154.5 1146.4h0M653.6 1146.4h0M723.9 1078.9h0M394.4 1218.7h0M499.5 1218.7h0M688.1 1146.3h0M360.3 1151.2h0M563.5 1201.1h0M356.3 1218.7h0M211.7 1146.3h0M240.7 1154.4h0M407.2 1151.3h0M134.7 1078.9h0M376.1 1218.6h0M322.4 1151.3h0M197.9 1146.3h0M604.7 1083.7h0M644.3 1079h0M343.1 1218.6h0M648.1 1146.2h0M561.3 1136.5h0M686.4 1146.2h0M655.8 1079h0M385.1 1151.3h0M693.1 1146.2h0M621 1079h0M555.2 1143.8h0M541.4 1218.4h0M440.8 1218.5h0M212.9 1079.1h0M509.2 1151.5h0M444.4 1151.5h0M399.6 1151.5h0M311.2 1151.5h0M460.2 1151.5h0M143.6 1079.1h0M348.7 1151.5h0M524.1 1218.4h0M162.9 1079.1h0M455.9 1151.5h0M536.4 1218.4h0M715.3 1146h0M425.7 1218.4h0M392.6 1218.4h0M135 1146h0M208.5 1146h0M141.1 1146h0M526.8 1218.4h0M625.5 1079.2h0M421.2 1218.4h0M554.9 1211h0M120.6 1146h0M180 1146h0M617.9 1146h0M155.5 1079.2h0M363.6 1218.3h0M724.9 1146h0M695.1 1079.2h0M489.6 1151.6h0M113.8 1146h0M115.3 1079.2h0M230.3 1080.2h0M728.4 1079.3h0M408.4 1151.6h0M434 1218.3h0M328.4 1218.3h0M150.7 1079.3h0M559.2 1139.5h0M397.7 1218.3h0M337.2 1218.3h0M266.3 1185.6h0M714.9 1079.3h0M369.7 1218.3h0M365.9 1218.2h0M134.8 1079.3h0M685.5 1145.9h0M344.2 1218.2h0M179.5 1079.3h0M558.9 1206.5h0M657.3 1145.9h0M549.3 1148.8h0M472.4 1151.7h0M187.3 1079.4h0M281.7 1138.5h0M637.3 1145.8h0M598.3 1157h0M131.3 1145.8h0M541.8 1151.6h0M263.4 1115.5h0M350.2 1151.8h0M458.2 1218.1h0M549.7 1215h0M140.1 1145.8h0M152.4 1145.8h0M531.3 1151.8h0M635.3 1145.8h0M383 1218.1h0M613.9 1079.7h0M123.4 1145.7h0M583.8 1175.1h0M725 1145.7h0M707.3 1145.7h0M724 1079.5h0M463.1 1218.1h0M189.2 1145.7h0M686.1 1079.5h0M370.2 1151.8h0M387.2 1151.9h0M636.2 1079.5h0M154 1145.7h0M695.1 1079.6h0M329.5 1218h0M309.2 1218h0M608.2 1082h0M119.6 1145.6h0M500.4 1152h0M497.5 1152h0M577.7 1182.6h0M313.7 1217.9h0M324.4 1152h0M371.3 1217.9h0M347.1 1152h0M710.8 1079.7h0M399.6 1217.9h0M656.1 1079.7h0M514.2 1152h0M375.9 1217.9h0M355.4 1217.9h0M390.6 1217.9h0M231.6 1147h0M617.5 1145.5h0M477.2 1217.8h0M497.6 1217.8h0M165.2 1079.8h0M138.8 1079.8h0M488 1152.1h0M692.8 1145.4h0M440.8 1217.8h0M430.4 1152.1h0M452.2 1152.1h0M285.6 1209h0M539.7 1152.2h0M157.2 1145.3h0M527.2 1152.2h0M616 1079.9h0M211.2 1079.9h0M173.4 1079.9h0M501.8 1217.6h0M127.9 1079.9h0M335.4 1217.6h0M687.9 1080h0M224.3 1145.2h0M206.4 1080h0M215.4 1080h0M276.5 1132.6h0M269 1123.2h0M317.3 1152.4h0M185.7 1080h0M465.4 1217.5h0M413.5 1217.5h0M236.9 1084.7h0M677.1 1145.1h0M719.3 1080.1h0M634.7 1145.1h0M292.2 1214.4h0M618.8 1145.1h0M296.8 1151.6h0M331.1 1152.5h0M168.1 1080.1h0M505.6 1152.5h0M303.9 1217.4h0M194 1080.1h0M325.1 1217.4h0M634.6 1080.1h0M657.1 1080.2h0M334.9 1152.5h0M536.5 1217.4h0M296.1 1216.3h0M671.9 1145h0M632.3 1145h0M402.4 1217.4h0M441.6 1152.6h0M368.1 1152.6h0M532.8 1217.3h0M504.9 1217.3h0M371.6 1152.6h0M236.5 1149.3h0M470.6 1217.3h0M383.3 1152.6h0M715.1 1145h0M665.3 1144.9h0M518.8 1152.6h0M700.4 1080.3h0M380.3 1217.3h0M546 1216.1h0M603.9 1150.4h0M361.8 1152.7h0M392.1 1152.7h0M457.4 1217.3h0M524.1 1217.3h0M289.1 1147.4h0M625.1 1080.3h0M645 1144.9h0M227.8 1145.1h0M689.1 1144.9h0M404 1217.2h0M525 1152.7h0M428.2 1152.7h0M545.3 1151.8h0M611.4 1145.8h0M398.6 1152.8h0M674.8 1080.4h0M227.3 1080.6h0M298.5 1152.4h0M437.3 1152.8h0M644.2 1080.5h0M404.4 1152.8h0M140.1 1144.7h0M490.9 1152.8h0M180.9 1144.7h0M176.6 1144.7h0M319.8 1217h0M464.3 1152.9h0M631.4 1080.6h0M414.4 1152.9h0M144.5 1144.6h0M472.9 1153h0M668.7 1080.6h0M113.8 1144.6h0M198.1 1080.6h0M437.4 1216.9h0M348.9 1216.9h0M662.7 1144.5h0M373.2 1153h0M479.8 1216.9h0M161.2 1080.7h0M183 1144.5h0M214.6 1144.5h0M678.4 1080.7h0M638.1 1144.5h0M308.5 1153.1h0M305.9 1153.1h0M431.7 1216.8h0M376 1153.1h0M485.6 1153.2h0M443.8 1153.2h0M218.3 1080.9h0M663.5 1080.9h0M706 1144.3h0M698.2 1144.3h0M358.5 1216.7h0M512.3 1216.7h0M422.6 1153.3h0M477.8 1153.3h0M425.4 1216.6h0M336.4 1153.3h0M280.3 1201.6h0M519.6 1216.6h0M651.3 1144.2h0M537.4 1153.4h0M723.1 1144.2h0M648.7 1081.1h0M418.2 1216.5h0M146.2 1081.1h0M134.5 1144.1h0M220.8 1144.1h0M125.1 1081.2h0M113.8 1144h0M344.3 1153.6h0M165 1144h0M124.4 1144h0M387.1 1216.3h0M167.6 1143.9h0M683.2 1143.8h0M710.4 1081.4h0M358.5 1153.7h0M489.2 1216.1h0M628.9 1143.8h0M452.3 1153.9h0M195.8 1143.6h0M728.8 1081.6h0M618.7 1143.6h0M728.5 1143.5h0M585.6 1109h0M210.1 1143.3h0M316.7 1154.3h0M460.7 1154.3h0M146.7 1143.2h0M454 1215.4h0M116.1 1082.2h0M714.8 1142.9h0M706.3 1082.5h0M729.2 1082.6h0M729.7 1142.4h0M206.3 1142.4h0M342.5 1214.4h0M112.9 1083.3h0M449.3 1214.2h0M729.3 1085.1h0M113.8 1139.9h0M113.4 1139.4h0M112.4 1085.8h0M727.5 1139.3h0M112.8 1138.1h0M729.6 1087.6h0M113.1 1088.1h0M113.3 1136.5h0M112.6 1136.4h0M728.6 1089.1h0M112.6 1089.1h0M729.9 1135.6h0M113 1134.8h0M112.8 1134.4h0M727.4 1091.3h0M113.4 1091.4h0M728.1 1133.2h0M727.7 1093.5h0M112.9 1131.4h0M112 1094.2h0M729.4 1130.7h0M727.5 1094.5h0M728.3 1095.4h0M113.6 1096.1h0M729.4 1128.9h0M729.3 1096.5h0M113.6 1128.6h0M729.2 1097.4h0M729.3 1098.1h0M113.9 1098.1h0M112.1 1127h0M729 1126.8h0M728.9 1126h0M728.9 1125.6h0M113.7 1099.8h0M112.8 1100.2h0M727.9 1100.2h0M112.2 1124.8h0M729.8 1101.3h0M113.7 1122.9h0M728.5 1122.8h0M729 1103h0M114.7 1103.4h0M728.4 1121.7h0M113.8 1103.8h0M113 1103.9h0M729.2 1121.2h0M112.4 1121.1h0M112.1 1121h0M728.5 1104.5h0M112 1104.6h0M729.8 1106h0M112 1106h0M729.8 1106.8h0M112 1106.9h0M112.2 1118.2h0M728.4 1117.3h0M729.3 1107.9h0M112.6 1108.2h0M729.4 1108.5h0M729.2 1115.2h0M729.8 1110.5h0M112 1111.1h0M523.7 1618.5h0M126.2 1513.9h0M465.8 1612.9h0M482.5 1612.7h0M557.9 1612.3h0M367.3 1519.4h0M224.3 1520.2h0M391.7 1521.2h0M486.9 1608.3h0M614.9 1608h0M457.6 1607.8h0M335.2 1521.9h0M268 1522.9h0M234 1523h0M543.9 1523.5h0M585.4 1605.5h0M408.8 1605.4h0M209.4 1524.2h0M302.8 1525h0M550.4 1604.5h0M519.3 1525.2h0M401 1604.3h0M473.3 1604.3h0M562.3 1525.4h0M638.6 1525.5h0M211.2 1525.5h0M416.7 1525.6h0M199.3 1525.7h0M169.9 1603.7h0M729.2 1603.6h0M564.9 1603.5h0M384.3 1526.3h0M392.2 1603.1h0M664 1602.9h0M189.7 1526.8h0M602.1 1602.8h0M539.8 1527h0M201.4 1527.2h0M352.3 1602.4h0M494.2 1602.3h0M526.3 1602.2h0M397.9 1602.1h0M337.8 1527.5h0M545.2 1602h0M220.3 1527.7h0M394.3 1601.7h0M182.6 1601.5h0M282.9 1528.3h0M494.3 1528.4h0M148 1528.4h0M290.4 1528.5h0M211.6 1528.5h0M405.7 1529.1h0M269.8 1600.4h0M564.5 1600.3h0M339.8 1600.2h0M400.5 1600.2h0M121.7 1600.1h0M389.9 1529.6h0M196.7 1599.9h0M627.2 1599.7h0M475.4 1530h0M154.3 1530.1h0M270.4 1599.5h0M246.6 1599.5h0M627.5 1530.1h0M177.7 1530.1h0M263.3 1599.5h0M568 1599.3h0M326.8 1599.2h0M248.9 1530.5h0M429.9 1530.5h0M378 1530.7h0M686.5 1530.7h0M169 1598.9h0M353.1 1598.8h0M151.4 1598.8h0M161.1 1598.7h0M713.9 1598.7h0M707 1598.6h0M356.4 1598.2h0M696 1531.4h0M272.1 1531.4h0M506.5 1531.5h0M112.1 1598.1h0M418.8 1598h0M549.5 1531.7h0M719.2 1597.9h0M681.1 1597.9h0M435.5 1597.9h0M187.9 1531.8h0M477.2 1531.9h0M677 1532h0M502.6 1532h0M496.9 1532.1h0M468.9 1532.2h0M699.1 1597.4h0M491.2 1597.1h0M411.1 1532.5h0M609.1 1597h0M648.6 1597h0M154.6 1532.7h0M284.3 1532.7h0M704.7 1596.8h0M519.4 1532.8h0M312.7 1532.8h0M209.8 1532.9h0M707.8 1532.9h0M662.2 1596.7h0M502.7 1596.7h0M230.5 1596.7h0M289.2 1596.6h0M329.5 1596.6h0M249.6 1533.1h0M608.8 1533.1h0M433.3 1533.1h0M382.1 1596.5h0M262.4 1596.5h0M595.9 1596.4h0M233 1533.2h0M304 1596.3h0M595.6 1533.3h0M616.1 1533.3h0M691.2 1533.3h0M655.2 1533.3h0M699.3 1596.2h0M549.1 1533.4h0M510.2 1533.5h0M337 1596.1h0M611 1596.1h0M138.5 1596h0M459.2 1533.7h0M689.3 1533.7h0M361.5 1595.8h0M138.4 1595.8h0M147.9 1595.8h0M531.6 1533.8h0M461.6 1533.8h0M182.2 1533.9h0M652.9 1595.7h0M628.2 1533.9h0M514.9 1534h0M334.4 1534h0M650 1534h0M556.5 1534.1h0M315.4 1534.1h0M225.7 1595.5h0M341.7 1595.5h0M559.2 1534.1h0M115.6 1595.5h0M223 1534.1h0M490.3 1595.5h0M172 1595.4h0M243.1 1595.4h0M499 1595.4h0M329.9 1595.3h0M386.5 1595.3h0M525.9 1534.3h0M151.9 1534.3h0M621.4 1595.3h0M322.4 1595.3h0M372.4 1534.4h0M647.3 1595.2h0M510 1595.2h0M214.5 1595.1h0M438.5 1595.1h0M548.8 1595.1h0M568.8 1595.1h0M240.5 1595h0M279 1534.6h0M208.4 1534.6h0M151.5 1595h0M509.1 1595h0M294 1594.9h0M126 1594.9h0M313 1534.7h0M690.2 1594.9h0M150.6 1534.8h0M372.4 1534.8h0M709.6 1534.8h0M188.2 1594.7h0M724.8 1594.7h0M178.6 1534.9h0M575.8 1594.6h0M436.8 1594.6h0M727.7 1535h0M277.3 1535.1h0M432.9 1594.5h0M616.1 1594.5h0M338.3 1535.2h0M415.3 1594.4h0M114.7 1594.4h0M661.4 1535.3h0M140 1535.3h0M617.9 1594.3h0M361 1594.3h0M414.1 1594.1h0M281.8 1594.1h0M468.8 1594.1h0M322 1535.5h0M355.8 1594.1h0M535.1 1594.1h0M220.8 1535.6h0M560 1535.6h0M194.5 1535.6h0M580.2 1594h0M292.7 1535.6h0M512.8 1593.9h0M478.5 1535.7h0M596.8 1593.9h0M243 1593.9h0M136.5 1593.8h0M657.4 1535.9h0M162 1593.7h0M590.3 1593.6h0M427.7 1536h0M436.5 1536h0M693.3 1593.6h0M593 1536.1h0M554.4 1593.5h0M385.7 1536.1h0M117.2 1593.5h0M179.1 1593.5h0M600.5 1536.2h0M285.1 1536.2h0M286 1593.4h0M159 1593.4h0M710 1536.2h0M597.9 1536.3h0M371.6 1536.3h0M304.1 1593.3h0M118.8 1593.3h0M473.7 1593.2h0M566.6 1536.4h0M133 1593.2h0M422 1536.4h0M611.9 1536.4h0M331.6 1593.1h0M260.2 1593.1h0M120.5 1593.1h0M680.7 1536.6h0M190.2 1593h0M336 1593h0M291.3 1592.9h0M207.4 1592.9h0M397.9 1536.7h0M353.6 1536.7h0M660.8 1592.9h0M396.2 1536.8h0M245.2 1536.8h0M537.3 1592.8h0M371.5 1536.8h0M273.5 1536.9h0M272.5 1592.7h0M424.6 1536.9h0M263.8 1592.6h0M125.2 1592.6h0M485.2 1537h0M176.2 1537.1h0M726.1 1592.5h0M603 1592.5h0M475 1537.1h0M278.7 1592.5h0M257.2 1537.1h0M438.7 1592.5h0M535.7 1537.1h0M436 1592.5h0M612.3 1537.1h0M550.9 1592.5h0M457.4 1592.4h0M618.9 1592.4h0M533.5 1592.3h0M283.1 1592.3h0M556.6 1592.3h0M338.2 1537.4h0M429.8 1592.2h0M681.9 1537.4h0M531.5 1537.4h0M346.8 1592.2h0M691.7 1592.2h0M544.1 1592.1h0M661.7 1537.5h0M481 1592.1h0M426.3 1537.5h0M308.9 1537.5h0M166.1 1537.5h0M487.8 1592.1h0M479.9 1537.5h0M587.2 1537.5h0M331.2 1537.6h0M668.7 1537.7h0M423.9 1537.7h0M157.5 1591.9h0M593.4 1537.7h0M385.6 1591.8h0M471.2 1591.8h0M120.7 1591.8h0M186.1 1591.8h0M183.5 1537.8h0M208.9 1537.8h0M344.4 1537.8h0M354.9 1537.8h0M708.4 1591.7h0M283 1537.9h0M682.4 1537.9h0M486.3 1537.9h0M375.1 1537.9h0M184.4 1537.9h0M483.6 1591.6h0M137.5 1538.2h0M450 1591.4h0M568 1591.3h0M705.2 1538.3h0M554.8 1591.3h0M469.2 1538.3h0M665 1538.3h0M724.5 1591.3h0M539.5 1538.3h0M573.2 1591.3h0M457.1 1591.3h0M238.3 1538.3h0M231.7 1538.3h0M714.8 1591.2h0M541.6 1591.2h0M363.6 1538.4h0M294.5 1591.2h0M357.9 1591.2h0M285.2 1591.2h0M169.8 1538.4h0M335.6 1591.1h0M687.8 1591.1h0M482.2 1538.5h0M334.3 1538.5h0M437.9 1591.1h0M450.5 1538.6h0M581.2 1538.6h0M263.4 1538.6h0M178.5 1591h0M526.8 1591h0M408 1591h0M442.5 1538.6h0M162 1591h0M477.4 1538.6h0M551.1 1538.6h0M488.8 1591h0M716.1 1538.7h0M118.1 1590.9h0M496.9 1538.8h0M544 1538.8h0M635.5 1538.8h0M203.2 1590.8h0M305.8 1590.8h0M423 1590.8h0M697.8 1590.7h0M213.6 1538.9h0M478.1 1590.7h0M125.6 1590.7h0M150.2 1590.7h0M462.7 1590.7h0M248.4 1590.7h0M471.1 1590.6h0M544.2 1590.6h0M252.5 1590.6h0M446.2 1590.6h0M723.7 1590.6h0M208.5 1539h0M384.2 1539h0M460 1539h0M390.4 1590.6h0M553.5 1590.5h0M218.6 1539.1h0M332.1 1539.1h0M521.1 1539.1h0M149.7 1539.1h0M684.3 1539.1h0M671.4 1539.1h0M207.6 1590.4h0M249.7 1539.2h0M645 1590.4h0M684.2 1590.4h0M189.3 1539.2h0M613.6 1590.4h0M122.3 1539.2h0M263.7 1590.4h0M511 1590.3h0M216.5 1590.3h0M570.5 1539.3h0M313.6 1590.3h0M660.4 1590.3h0M614.5 1590.3h0M508.8 1590.2h0M291 1590.2h0M281.7 1539.4h0M416.3 1539.4h0M448.8 1590.2h0M455.2 1590.2h0M675.1 1539.4h0M129.7 1539.5h0M351.4 1590.1h0M324.2 1590.1h0M545.6 1539.5h0M282.1 1539.5h0M592.9 1539.5h0M265.5 1590h0M228.2 1539.6h0M523.3 1590h0M476 1590h0M677.6 1590h0M375.2 1590h0M693.5 1539.6h0M268.2 1539.7h0M720 1589.9h0M588.1 1539.7h0M608.9 1589.9h0M253.2 1589.9h0M544.4 1539.8h0M192.6 1539.8h0M368.5 1539.8h0M155.5 1539.8h0M411 1539.8h0M207.5 1589.8h0M662.7 1539.8h0M217.3 1539.8h0M653.5 1539.8h0M560.1 1589.8h0M444 1539.9h0M681.1 1589.7h0M330.9 1589.7h0M147.9 1589.7h0M538.2 1540h0M200.9 1589.6h0M248.8 1589.6h0M321.5 1540h0M722.3 1540h0M421.5 1589.6h0M560.1 1540h0M524.7 1589.6h0M569.7 1589.6h0M639.8 1589.5h0M380.5 1540.1h0M265.9 1589.5h0M231.2 1589.5h0M523.8 1540.1h0M624.9 1589.5h0M179.6 1540.1h0M725.8 1589.5h0M672.6 1540.1h0M204.6 1540.1h0M243.6 1589.5h0M305 1589.5h0M218 1540.2h0M608.3 1589.4h0M253.8 1589.4h0M588.9 1540.2h0M158.5 1589.4h0M683.7 1540.2h0M697.2 1589.4h0M382.5 1589.4h0M268 1589.4h0M506.2 1589.3h0M596.9 1589.3h0M171.6 1589.3h0M710.1 1540.3h0M604.5 1589.3h0M580.7 1589.3h0M686.4 1589.2h0M470.3 1589.2h0M672.8 1540.4h0M411.8 1540.5h0M473.9 1589.1h0M432.1 1540.5h0M195.3 1540.5h0M241 1589.1h0M612.4 1589.1h0M268.6 1540.6h0M418 1540.6h0M439.1 1540.6h0M264.2 1540.6h0M231.9 1589h0M190.5 1589h0M446 1589h0M138.7 1589h0M208 1540.6h0M313.2 1588.9h0M451.5 1540.7h0M119.2 1588.9h0M502.3 1588.9h0M303.8 1540.7h0M590.2 1540.7h0M391 1540.7h0M622.3 1540.7h0M662.6 1540.8h0M200.1 1540.8h0M383.1 1588.8h0M459.3 1540.8h0M560.2 1588.8h0M363.5 1588.7h0M373.2 1588.7h0M382.2 1588.7h0M722.7 1588.7h0M246.5 1588.7h0M112.2 1540.9h0M617.8 1588.7h0M552.5 1588.7h0M419.3 1540.9h0M260.8 1541h0M597.7 1541h0M162.8 1588.6h0M560.8 1588.6h0M500 1588.6h0M347.7 1541h0M268.1 1588.6h0M642 1588.6h0M453.1 1541h0M387.5 1588.6h0M607.3 1588.5h0M460.6 1541.1h0M481.6 1588.5h0M172.5 1541.1h0M652.6 1541.1h0M663.9 1588.5h0M729.3 1588.4h0M395.3 1541.2h0M236.9 1541.2h0M664.5 1541.2h0M503 1541.2h0M566.2 1588.4h0M634.9 1541.2h0M345.7 1541.2h0M242.8 1588.4h0M220.7 1541.3h0M436.9 1588.3h0M175.1 1541.3h0M186.5 1541.3h0M695.1 1588.3h0M594.2 1541.3h0M161.1 1588.3h0M380 1588.3h0M415.4 1588.3h0M324.8 1541.4h0M584.2 1588.2h0M398.4 1588.2h0M396.7 1541.4h0M451.3 1541.4h0M511.1 1541.4h0M353.2 1541.5h0M461.3 1588.1h0M359 1541.5h0M188.3 1588.1h0M202.8 1541.6h0M455.7 1588h0M365.5 1588h0M197 1588h0M200.1 1541.6h0M493.6 1541.6h0M257.1 1541.6h0M128.2 1541.6h0M225.1 1588h0M630.6 1588h0M319 1541.7h0M510.6 1587.9h0M118.6 1587.9h0M358 1541.7h0M180.4 1541.7h0M449.6 1587.8h0M359.6 1541.8h0M167.3 1587.8h0M448.3 1587.8h0M618 1541.8h0M183.9 1541.8h0M284.9 1541.8h0M116 1587.8h0M522.4 1587.8h0M154.9 1541.8h0M353.7 1587.8h0M473.9 1587.8h0M566.6 1541.9h0M526.8 1541.9h0M511.4 1541.9h0M175.6 1587.7h0M695.2 1587.7h0M360.1 1541.9h0M217.8 1541.9h0M246.8 1587.7h0M315.4 1587.6h0M241.1 1542h0M398.3 1587.6h0M517.1 1587.6h0M276.6 1587.6h0M187.2 1542h0M722.6 1587.6h0M631.9 1587.6h0M534.6 1542h0M340.4 1587.5h0M116.3 1542.1h0M610.1 1542.1h0M358.8 1587.5h0M270 1587.5h0M215.8 1542.1h0M505 1587.4h0M369.5 1542.2h0M314.2 1542.2h0M651.4 1542.2h0M439.9 1587.4h0M286 1542.2h0M245.3 1587.3h0M713.2 1542.3h0M569.3 1587.3h0M428.1 1542.3h0M303 1587.3h0M153.7 1542.3h0M472.1 1542.3h0M566.8 1542.3h0M600.2 1542.3h0M590.9 1587.2h0M333.9 1587.2h0M375.1 1542.4h0M336.2 1587.2h0M280.3 1587.2h0M355 1587.2h0M362 1587.2h0M498.2 1542.4h0M491.7 1542.5h0M347.5 1542.5h0M723.5 1587.1h0M641.1 1542.5h0M315.9 1542.5h0M670.5 1542.5h0M618 1542.5h0M212.4 1542.5h0M678.4 1542.5h0M132.7 1587.1h0M593.3 1542.5h0M305.9 1587h0M206 1587h0M595.1 1587h0M131.9 1587h0M436.1 1587h0M232.1 1587h0M642.4 1542.6h0M499.7 1542.6h0M352.3 1587h0M382.9 1587h0M509.3 1587h0M649.5 1587h0M432.9 1542.7h0M521.5 1542.7h0M696 1586.9h0M240.9 1542.7h0M646.6 1586.9h0M404.9 1586.9h0M114.7 1586.9h0M226.5 1542.7h0M321.2 1586.9h0M286.4 1542.8h0M223.8 1586.8h0M301.3 1586.8h0M323.5 1586.8h0M257.6 1542.8h0M307.6 1542.8h0M385.1 1542.8h0M430 1542.9h0M442.1 1542.9h0M443.6 1586.7h0M244.4 1542.9h0M227.6 1542.9h0M237.4 1542.9h0M398.2 1586.6h0M425.2 1586.6h0M266.3 1586.6h0M415.2 1586.6h0M192 1586.6h0M354.5 1543h0M546.1 1543h0M264.3 1586.6h0M666.3 1543h0M524 1586.6h0M303.2 1543h0M412.8 1586.6h0M593.4 1586.5h0M570.6 1586.5h0M613.5 1586.5h0M407.4 1586.5h0M509.2 1543.1h0M368.4 1586.5h0M360.7 1543.1h0M316.9 1586.5h0M639.3 1586.5h0M142.8 1586.5h0M378.5 1586.4h0M468.8 1543.2h0M130.5 1586.4h0M211.9 1543.2h0M400.2 1543.2h0M587.6 1543.2h0M484.6 1586.4h0M640.7 1543.3h0M388.2 1586.3h0M333.7 1586.3h0M634.4 1543.3h0M454 1586.3h0M234.4 1586.3h0M604.8 1586.3h0M557.5 1586.3h0M365.8 1586.3h0M456.3 1586.2h0M197.7 1586.2h0M476.7 1586.2h0M563.4 1543.4h0M165.6 1586.2h0M699.8 1543.4h0M534.8 1586.2h0M321.3 1543.4h0M191.4 1543.4h0M703.4 1586.2h0M575.7 1543.4h0M586.8 1586.1h0M258.4 1543.5h0M325.4 1543.5h0M674 1586.1h0M523.6 1543.5h0M159.4 1543.5h0M294.8 1586.1h0M650.3 1543.5h0M516.7 1586.1h0M509 1586.1h0M501.5 1543.5h0M724.6 1586h0M290.8 1586h0M661.9 1586h0M555.8 1543.6h0M681.6 1586h0M221.8 1543.6h0M387.8 1543.6h0M254.9 1543.6h0M420.4 1543.6h0M709.1 1586h0M169.8 1586h0M435.2 1543.6h0M326.4 1586h0M653.4 1543.6h0M707.8 1543.7h0M533.8 1543.7h0M212.6 1585.9h0M122.1 1585.8h0M464.6 1543.8h0M120.3 1543.8h0M177.3 1585.8h0M461 1585.8h0M590.8 1543.8h0M406.6 1543.8h0M372.8 1585.8h0M602.2 1585.8h0M329.1 1543.8h0M630.9 1543.9h0M645.1 1585.7h0M472.8 1543.9h0M698.7 1543.9h0M231 1543.9h0M256.4 1585.7h0M339.9 1543.9h0M296.1 1543.9h0M481.2 1585.7h0M692.9 1543.9h0M670.3 1543.9h0M546.4 1585.7h0M382.4 1543.9h0M133 1585.7h0M619.7 1585.7h0M166.5 1544h0M312.1 1585.6h0M466 1585.6h0M474.1 1585.6h0M390.1 1544h0M282.5 1585.6h0M654.6 1585.6h0M646.5 1544h0M199 1585.6h0M134.9 1544h0M118.1 1544.1h0M154.1 1585.5h0M405 1585.5h0M173.9 1544.1h0M263 1585.5h0M445.2 1544.1h0M586.8 1544.1h0M478.2 1544.1h0M357.6 1585.5h0M540.8 1585.5h0M451.7 1544.1h0M540.4 1544.1h0M723.2 1544.2h0M340.3 1585.4h0M656.5 1544.2h0M599 1544.2h0M270.2 1544.2h0M155 1544.2h0M133.7 1585.4h0M462 1544.2h0M270.9 1585.4h0M215.2 1544.2h0M409.4 1544.2h0M488.2 1585.4h0M531.2 1544.3h0M426.8 1544.3h0M725 1585.3h0M184.9 1585.3h0M302.3 1585.3h0M242.7 1585.3h0M152.9 1544.4h0M127.4 1544.4h0M363.4 1544.4h0M379.5 1544.4h0M426.7 1585.2h0M417.2 1585.2h0M515.2 1544.4h0M383.9 1585.2h0M579.5 1585.2h0M573.3 1544.5h0M486.8 1544.5h0M278.2 1544.5h0M195.5 1544.5h0M546.5 1544.6h0M581.5 1544.6h0M230.4 1585h0M633.5 1585h0M280.8 1544.6h0M391.8 1585h0M501.3 1585h0M718.8 1544.6h0M135.4 1544.6h0M610.9 1544.6h0M348.3 1584.9h0M329.3 1544.7h0M720.5 1584.9h0M393.4 1544.7h0M262.8 1544.7h0M672.9 1584.9h0M598.7 1584.9h0M445.1 1584.9h0M605.5 1584.8h0M248.5 1584.8h0M290.1 1544.8h0M251.8 1544.9h0M669.3 1584.7h0M453.1 1544.9h0M718 1584.7h0M493.9 1544.9h0M619.7 1584.7h0M492.6 1584.7h0M350.4 1544.9h0M142.5 1584.6h0M434.7 1584.6h0M420.2 1545h0M685.5 1545h0M567.5 1584.6h0M529 1584.5h0M315.8 1545.1h0M113.7 1545.1h0M331.6 1545.2h0M130.4 1584.4h0M574.2 1584.3h0M117.3 1584.2h0M694.4 1584.2h0M552 1584.2h0M727.3 1545.4h0M604 1545.4h0M143.4 1584.1h0M217 1584h0M276.1 1584h0M559.1 1583.9h0M729.3 1545.7h0M624 1583.9h0M188.8 1545.7h0M186 1545.7h0M681.2 1583.9h0M200.7 1545.8h0M204 1545.8h0M340.9 1545.8h0M682 1545.9h0M146.3 1545.9h0M622.5 1546h0M679.7 1546.1h0M660 1546.2h0M114.6 1583.4h0M563.5 1546.2h0M728.3 1583.4h0M112.7 1546.5h0M203.9 1582.9h0M182.2 1546.7h0M693.3 1582.8h0M149.3 1582.7h0M160.6 1582.6h0M688.7 1582.6h0M518.5 1582.6h0M112.9 1581.8h0M418.9 1548.2h0M373.4 1548.2h0M145.1 1548.8h0M503.1 1548.8h0M728.2 1580.7h0M728.5 1549.1h0M729.1 1580.3h0M729.1 1550.8h0M112 1578.2h0M728.9 1577.9h0M112 1577.8h0M112.9 1552.2h0M112.5 1552.4h0M728.4 1552.5h0M728.8 1553.8h0M728.5 1575.8h0M729.2 1554.2h0M729.7 1575.4h0M112.9 1554.4h0M729.3 1555h0M113.8 1574.5h0M113.4 1574.3h0M112.4 1555.3h0M112.8 1573.8h0M729.6 1555.9h0M112.6 1573.2h0M112.6 1556.5h0M729.9 1572.9h0M727.7 1558h0M112.9 1571.5h0M112 1558.3h0M729.4 1571.2h0M728.3 1558.7h0M729.4 1570.6h0M729.3 1559.1h0M729.3 1559.7h0M112.1 1569.9h0M728.9 1569.5h0M113.7 1560.2h0M112.8 1560.4h0M112.2 1569.1h0M729.8 1560.8h0M729.2 1567.8h0M112.4 1567.8h0M112 1562h0M729.8 1562.4h0M748.6 103h0M754 108h0M764.5 95.6h0M775.1 102.6h0M780.3 94h0M785.3 108h0M791 109.8h0M800.7 96.7h0M806.8 97.4h0M812 102.6h0M816.6 109.4h0M822 105.3h0M827.2 102.6h0M837.8 96.9h0M853.3 107.6h0M864.1 111.6h0M869.6 99.6h0M874.8 99.6h0M879.8 104.8h0M895.4 105.3h0M900.4 123.9h0M906 124.6h0M921.7 209.5h0M926.9 253.7h0M932.5 292.6h0M1167.9 235.6h0M1173.3 198.6h0M1178.5 157.8h0M1183.5 135.2h0M1188.7 123.4h0M1193.9 101.1h0M1199.5 113.1h0M1204 98.8h0M1209.2 92.7h0M1214.9 107h0M1220.3 102.9h0M1225.5 104h0M1230.4 95h0M1235.6 105.2h0M1240.6 98.8h0M1257.1 103.3h0M1262.1 110.1h0M1267.2 103.3h0M1277.9 98.4h0M1283 106.3h0M1298.9 103.3h0M1304 100.2h0M1309.2 109.7h0M1324.8 96.6h0M1335.4 102.9h0M1345.8 107.9h0M937.6 331.9h0M942.8 379.3h0M948 406.7h0M953 448.1h0M963.7 478.9h0M968.9 493h0M974.1 491.6h0M979.1 505.7h0M994.9 519h0M1010.8 538.3h0M1016.4 525.4h0M1021.7 531.5h0M1042.5 534h0M1047.5 524.2h0M1057.7 543h0M1067.9 527.2h0M1073.1 526.5h0M1078.7 526.5h0M1083.9 529.2h0M1094.1 517.4h0M1099.6 513.4h0M1104.8 508.8h0M1110 510.6h0M1115 501.6h0M1120.6 492.1h0M1126.3 487.1h0M1130.8 473.3h0M1141.7 433h0M1147.1 391.7h0M1152.3 350.1h0M748.6 713.7h0M754 718.7h0M764.5 706.9h0M775.1 713.5h0M780.3 704.5h0M785.3 718.3h0M791 720.1h0M800.7 707.8h0M806.8 708.5h0M812 713.1h0M816.6 719.9h0M822 716h0M827.2 713.5h0M837.8 708.1h0M853.3 718h0M864.1 721.7h0M869.6 709.7h0M874.8 709.7h0M879.8 716h0M895.4 713.3h0M900.4 722.8h0M906 710.8h0M921.7 713.1h0M926.9 716.9h0M932.5 715.3h0M937.5 709.7h0M942.7 715.3h0M947.9 709h0M952.9 720.1h0M963.8 711.9h0M968.8 715.3h0M973.7 707.4h0M979 715.3h0M994.8 714.2h0M1010.7 724.6h0M1016.3 709.7h0M1021.5 713.7h0M1042.4 713.5h0M1057.9 722.1h0M1068.3 709.7h0M1073.3 709.7h0M1078.5 711.5h0M1084 716h0M1094.8 710.8h0M1100 710.8h0M1105.2 710.1h0M1110.2 716.5h0M1115.7 714.2h0M1120.9 711.2h0M1126.1 715.3h0M1131.1 713.1h0M1141.7 718.3h0M1146.9 710.1h0M1152.1 709.7h0M1167.3 718h0M1173 719.2h0M1178.2 709.7h0M1183.6 709.7h0M1188.8 717.1h0M1193.8 705.1h0M1199 721h0M1204.7 708.5h0M1209.7 703.3h0M1214.9 717.6h0M1219.9 713.7h0M1225.5 714.6h0M1230.7 706h0M1235.9 715.3h0M1240.9 709.2h0M1256.8 713.7h0M1262 720.3h0M1267.4 714.2h0M1277.8 709h0M1282.8 716.5h0M1298.7 714.2h0M1303.9 710.3h0M1309.1 720.1h0M1325 707.4h0M1335.4 713.7h0M1345.8 718h0M754 1109.1h0M759.3 1139.7h0M764.5 1107.3h0M764.9 1136.7h0M769.9 1081.4h0M775.1 1110.7h0M780.3 1122h0M785.3 1118.1h0M790.3 1106.8h0M791 1112.9h0M796.2 1122.7h0M806.1 1110.9h0M811.3 1109.8h0M816.6 1097.1h0M817.5 1106.1h0M822 1125.2h0M832.9 1118.8h0M837.8 1101.2h0M843.5 1099.8h0M848 1110.7h0M853.3 1112.9h0M858.9 1114.7h0M864.1 1105.2h0M869.1 1131.5h0M874.3 1144.9h0M879.5 1138.5h0M885 1121.8h0M889.9 1147.8h0M895.4 1145.5h0M895.6 1177.5h0M900.4 1164.6h0M905.8 1164.6h0M911 1175.9h0M916.7 1149.6h0M921.7 1176.8h0M921.7 1187.9h0M926.9 1214.4h0M932.1 1173.4h0M937.5 1198.6h0M942.7 1159.6h0M947.2 1183.4h0M947.9 1209h0M952.9 1189.5h0M958.3 1194.2h0M963.6 1172.5h0M968.8 1161.4h0M973.3 1213.7h0M979 1194.7h0M984.6 1165.5h0M994.8 1173.2h0M999.8 1156.2h0M1000 1208.1h0M1005 1189.9h0M1010.7 1187.2h0M1020.9 1173.2h0M1026.1 1184.5h0M1026.5 1214.4h0M1031.5 1192h0M1036.7 1173.2h0M1041.9 1182h0M1047.7 1134.7h0M1052.5 1169.3h0M1057.9 1203.1h0M1063.1 1181.8h0M1068.3 1201.3h0M1073.8 1164.3h0M1078.5 1175h0M1079 1197.6h0M1089.2 1173h0M1094.8 1172h0M1100 1141h0M1104.6 1180.4h0M1115.2 1178.6h0M1120.4 1201.9h0M1130.6 1160.5h0M1131.3 1164.8h0M1141.9 1177.5h0M1146.9 1186.1h0M1152.1 1174.1h0M1157.6 1164.1h0M1162.3 1174.1h0M1168 1177.3h0M1173 1192h0M1183.6 1166.4h0M1188.8 1192h0M1193.8 1129.7h0M1199 1139.7h0M1209.7 1130.6h0M1209.7 1139.7h0M1214.9 1128.8h0M1220.1 1138.5h0M1225.5 1129.7h0M1230.7 1125.2h0M1235.7 1108h0M1240.9 1132.6h0M1246.1 1119.5h0M1251.6 1124.7h0M1256.8 1112.9h0M1261.8 1124.5h0M1262.4 1112.7h0M1267 1099.6h0M1272.4 1124.7h0M1277.6 1109.3h0M1282.8 1093.7h0M1287.8 1132.4h0M1288 1116.3h0M1293.5 1112.9h0M1298.7 1093h0M1303.9 1100.7h0M1309.1 1125.2h0M1314.1 1086.4h0M1314.1 1112.9h0M1319.3 1118.4h0M1324.7 1112.5h0M1329.9 1104.1h0M1335.4 1109.3h0M1340.6 1119.3h0M1340.8 1126.3h0M1345.8 1081.2h0M754 1563.6h0M759.3 1574.4h0M764.5 1562.9h0M764.9 1573.4h0M769.9 1553.7h0M775.1 1564.1h0M780.3 1568.1h0M785.3 1566.8h0M790.3 1562.7h0M791 1564.9h0M796.2 1568.4h0M806.1 1564.2h0M811.3 1563.8h0M816.6 1559.3h0M817.5 1562.5h0M822 1569.3h0M832.9 1567h0M837.8 1560.7h0M843.5 1560.2h0M848 1563.9h0M853.3 1564.1h0M858.9 1563.7h0M864.1 1559h0M869.1 1566.6h0M874.3 1569.5h0M879.5 1565.4h0M885 1557.5h0M889.9 1564.9h0M895.4 1562.2h0M895.6 1573.4h0M900.4 1567.2h0M905.8 1565.2h0M911 1567.4h0M916.7 1556.1h0M921.7 1564.3h0M921.7 1568.2h0M926.9 1576.5h0M932.1 1561.2h0M937.5 1569.7h0M942.7 1555.8h0M947.2 1564.2h0M947.9 1573.3h0M952.9 1566.4h0M958.3 1568.1h0M963.6 1560.4h0M968.8 1556.4h0M973.3 1575h0M979 1568.3h0M984.6 1557.9h0M994.8 1560.6h0M999.8 1554.6h0M1000 1573h0M1005 1566.6h0M1010.7 1565.6h0M1020.9 1560.6h0M1026.1 1564.6h0M1026.5 1575.3h0M1031.5 1567.3h0M1036.7 1560.6h0M1041.9 1563.8h0M1047.7 1547h0M1052.5 1559.3h0M1057.9 1571.2h0M1063.1 1563.7h0M1068.3 1570.6h0M1073.8 1557.5h0M1078.5 1561.3h0M1079 1569.3h0M1089.2 1560.5h0M1094.8 1560.2h0M1100 1549.2h0M1104.6 1563.2h0M1115.2 1562.6h0M1120.4 1570.8h0M1130.6 1556.1h0M1131.3 1557.6h0M1141.9 1562.2h0M1146.9 1565.2h0M1152.1 1560.9h0M1157.6 1557.6h0M1162.3 1561.7h0M1168 1563.8h0M1173 1570.2h0M1183.6 1564.8h0M1188.8 1575.7h0M1193.8 1555.4h0M1199 1560.8h0M1209.7 1561.4h0M1209.7 1564.6h0M1214.9 1562.6h0M1220.1 1568h0M1225.5 1566.8h0M1230.7 1566.7h0M1235.7 1561.8h0M1240.9 1571.3h0M1246.1 1567.1h0M1251.6 1569.1h0M1256.8 1564.9h0M1261.8 1569h0M1262.4 1564.8h0M1267 1560.2h0M1272.4 1569.1h0M1277.6 1563.6h0M1282.8 1558.1h0M1287.8 1571.8h0M1288 1566.1h0M1293.5 1564.9h0M1298.7 1557.8h0M1303.9 1560.6h0M1309.1 1569.3h0M1314.1 1555.5h0M1314.1 1564.9h0M1319.3 1566.8h0M1324.7 1564.8h0M1329.9 1561.8h0M1335.4 1563.6h0M1340.6 1567.2h0M1340.8 1569.7h0M1345.8 1553.7h0" fill="none" stroke="#000" stroke-width="10.4" stroke-linecap="round"/>
<path d="M110.9 102.9L111.9 102.9L112.9 102.9L114 102.9L115 102.9L116 102.9L117.1 102.9L118.1 102.9L119.1 102.9L120.2 102.9L121.2 102.9L122.2 102.9L123.3 102.9L124.3 102.9L125.4 102.9L126.4 102.9L127.4 102.9L128.5 102.9L129.5 102.9L130.5 102.9L131.6 102.9L132.6 102.9L133.6 102.9L134.7 102.9L135.7 102.9L136.7 102.9L137.8 102.9L138.8 102.9L139.8 102.9L140.9 102.9L141.9 102.9L142.9 102.9L144 102.9L145 102.9L146 102.9L147.1 102.9L148.1 102.9L149.1 102.9L150.2 102.9L151.2 102.9L152.2 102.9L153.3 102.9L154.3 102.9L155.3 102.9L156.4 102.9L157.4 102.9L158.4 102.9L159.5 102.9L160.5 102.9L161.6 102.9L162.6 102.9L163.6 102.9L164.7 102.9L165.7 102.9L166.7 102.9L167.8 102.9L168.8 102.9L169.8 102.9L170.9 102.9L171.9 102.9L172.9 102.9L174 102.9L175 102.9L176 102.9L177.1 102.9L178.1 102.9L179.1 102.9L180.2 102.9L181.2 102.9L182.2 102.9L183.3 102.9L184.3 102.9L185.3 102.9L186.4 102.9L187.4 102.9L188.4 102.9L189.5 102.9L190.5 102.9L191.5 102.9L192.6 102.9L193.6 102.9L194.6 102.9L195.7 102.9L196.7 102.9L197.8 102.9L198.8 102.9L199.8 102.9L200.9 102.9L201.9 102.9L202.9 102.9L204 102.9L205 102.9L206 102.9L207.1 102.9L208.1 102.9L209.1 102.9L210.2 102.9L211.2 102.9L212.2 102.9L213.3 102.9L214.3 102.9L215.3 102.9L216.4 102.9L217.4 102.9L218.4 102.9L219.5 102.9L220.5 102.9L221.5 102.9L222.6 102.9L223.6 102.9L224.6 102.9L225.7 102.9L226.7 102.9L227.7 102.9L228.8 102.9L229.8 102.9L230.8 102.9L231.9 102.9L232.9 102.9L234 102.9L235 102.9L236 102.9L237.1 102.9L238.1 102.9L239.1 102.9L240.2 102.9L241.2 102.9L242.2 102.9L243.3 102.9L244.3 102.9L245.3 102.9L246.4 102.9L247.4 102.9L248.4 102.9L249.5 102.9L250.5 102.9L251.5 102.9L252.6 102.9L253.6 102.9L254.6 102.9L255.7 102.9L256.7 102.9L257.7 102.9L258.8 102.9L259.8 102.9L260.8 102.9L261.9 102.9L262.9 102.9L263.9 102.9L265 102.9L266 102.9L267 102.9L268.1 102.9L269.1 102.9L270.2 102.9L271.2 102.9L272.2 103.2L273.3 104.7L274.3 106.8L275.3 109.3L276.4 112.2L277.4 115.7L278.4 119.5L279.5 123.6L280.5 128L281.5 132.7L282.6 137.6L283.6 143L284.6 148.5L285.7 154.1L286.7 160L287.7 166.3L288.8 172.6L289.8 179.2L290.8 185.9L291.9 192.8L292.9 199.9L293.9 207.2L295 214.5L296 222L297 229.6L298.1 237.3L299.1 245.1L300.1 253.2L301.2 261.1L302.2 269.1L303.2 277.3L304.3 285.5L305.3 293.6L306.4 302L307.4 310.3L308.4 318.5L309.5 326.9L310.5 335.2L311.5 343.4L312.6 351.7L313.6 359.9L314.6 367.8L315.7 375.9L316.7 383.8L317.7 391.5L318.8 399.1L319.8 406.6L320.8 413.7L321.9 420.6L322.9 427.2L323.9 433.4L325 439.3L326 444.8L327 449.2L328.1 452.6L329.1 455.2L330.1 457.5L331.2 459.8L332.2 462L333.2 464.1L334.3 465.9L335.3 467.9L336.3 469.6L337.4 471.4L338.4 473.2L339.5 474.8L340.5 476.3L341.5 477.8L342.6 479.4L343.6 480.7L344.6 482.2L345.7 483.5L346.7 484.6L347.7 485.9L348.8 487.2L349.8 488.3L350.8 489.6L351.9 490.7L352.9 491.6L353.9 492.6L355 493.9L356 494.7L357 495.7L358.1 496.7L359.1 497.6L360.1 498.4L361.2 499.4L362.2 500.1L363.2 501L364.3 501.8L365.3 502.5L366.3 503.3L367.4 504.2L368.4 504.7L369.4 505.4L370.5 506.2L371.5 506.9L372.5 507.5L373.6 508.1L374.6 508.6L375.7 509.2L376.7 509.9L377.7 510.4L378.8 510.9L379.8 511.4L380.8 511.9L381.9 512.3L382.9 512.9L383.9 513.4L385 513.7L386 514.1L387 514.6L388.1 514.9L389.1 515.5L390.1 515.8L391.2 516L392.2 516.3L393.2 516.9L394.3 517L395.3 517.4L396.3 517.7L397.4 517.9L398.4 518.1L399.4 518.6L400.5 518.6L401.5 518.9L402.5 519.2L403.6 519.2L404.6 519.4L405.6 519.8L406.7 519.8L407.7 519.9L408.7 520.2L409.8 520.3L410.8 520.3L411.9 520.6L412.9 520.5L413.9 520.6L415 520.8L416 520.9L417 520.9L418.1 521.1L419.1 520.9L420.1 521L421.2 521.1L422.2 521.1L423.2 521L424.3 521L425.3 520.9L426.3 520.9L427.4 521L428.4 520.8L429.4 520.7L430.5 520.5L431.5 520.6L432.5 520.3L433.6 520.3L434.6 520.2L435.6 519.9L436.7 519.8L437.7 519.7L438.7 519.4L439.8 519.3L440.8 519.1L441.8 518.8L442.9 518.5L443.9 518.5L444.9 518.1L446 517.9L447 517.6L448.1 517.3L449.1 516.9L450.1 516.8L451.2 516.3L452.2 515.9L453.2 515.6L454.3 515.2L455.3 514.8L456.3 514.6L457.4 514L458.4 513.6L459.4 513.2L460.5 512.8L461.5 512.2L462.5 511.8L463.6 511.1L464.6 510.7L465.6 510.3L466.7 509.8L467.7 509.1L468.7 508.5L469.8 507.9L470.8 507.3L471.8 506.7L472.9 506.1L473.9 505.3L474.9 504.6L476 503.9L477 503.2L478 502.5L479.1 501.7L480.1 500.7L481.1 499.8L482.2 499.2L483.2 498.2L484.3 497.4L485.3 496.5L486.3 495.4L487.4 494.4L488.4 493.6L489.4 492.4L490.5 491.4L491.5 490.4L492.5 489.2L493.6 488L494.6 487L495.6 485.6L496.7 484.3L497.7 483.1L498.7 481.8L499.8 480.3L500.8 479L501.8 477.4L502.9 475.8L503.9 474.3L504.9 472.7L506 470.9L507 469.3L508 467.3L509.1 465.4L510.1 463.5L511.1 461.5L512.2 459.2L513.2 457L514.2 454.5L515.3 451.8L516.3 448.1L517.3 443.5L518.4 437.9L519.4 431.8L520.5 425.5L521.5 418.9L522.5 411.9L523.6 404.7L524.6 397.2L525.6 389.5L526.7 381.9L527.7 373.9L528.7 365.8L529.8 357.7L530.8 349.5L531.8 341.2L532.9 333.1L533.9 324.7L534.9 316.4L536 308.1L537 299.8L538 291.5L539.1 283.4L540.1 275.2L541.1 267L542.2 259.1L543.2 251.1L544.2 243.1L545.3 235.3L546.3 227.6L547.3 220L548.4 212.6L549.4 205.3L550.4 198L551.5 191.1L552.5 184.2L553.5 177.5L554.6 170.9L555.6 164.7L556.7 158.5L557.7 152.7L558.7 147.1L559.8 141.6L560.8 136.3L561.8 131.5L562.9 126.8L563.9 122.6L564.9 118.5L566 114.8L567 111.4L568 108.6L569.1 106.2L570.1 104.3L571.1 103L572.2 102.9L573.2 102.9L574.2 102.9L575.3 102.9L576.3 102.9L577.3 102.9L578.4 102.9L579.4 102.9L580.4 102.9L581.5 102.9L582.5 102.9L583.5 102.9L584.6 102.9L585.6 102.9L586.6 102.9L587.7 102.9L588.7 102.9L589.8 102.9L590.8 102.9L591.8 102.9L592.9 102.9L593.9 102.9L594.9 102.9L596 102.9L597 102.9L598 102.9L599.1 102.9L600.1 102.9L601.1 102.9L602.2 102.9L603.2 102.9L604.2 102.9L605.3 102.9L606.3 102.9L607.3 102.9L608.4 102.9L609.4 102.9L610.4 102.9L611.5 102.9L612.5 102.9L613.5 102.9L614.6 102.9L615.6 102.9L616.6 102.9L617.7 102.9L618.7 102.9L619.7 102.9L620.8 102.9L621.8 102.9L622.8 102.9L623.9 102.9L624.9 102.9L626 102.9L627 102.9L628 102.9L629.1 102.9L630.1 102.9L631.1 102.9L632.2 102.9L633.2 102.9L634.2 102.9L635.3 102.9L636.3 102.9L637.3 102.9L638.4 102.9L639.4 102.9L640.4 102.9L641.5 102.9L642.5 102.9L643.5 102.9L644.6 102.9L645.6 102.9L646.6 102.9L647.7 102.9L648.7 102.9L649.7 102.9L650.8 102.9L651.8 102.9L652.8 102.9L653.9 102.9L654.9 102.9L655.9 102.9L657 102.9L658 102.9L659 102.9L660.1 102.9L661.1 102.9L662.2 102.9L663.2 102.9L664.2 102.9L665.3 102.9L666.3 102.9L667.3 102.9L668.4 102.9L669.4 102.9L670.4 102.9L671.5 102.9L672.5 102.9L673.5 102.9L674.6 102.9L675.6 102.9L676.6 102.9L677.7 102.9L678.7 102.9L679.7 102.9L680.8 102.9L681.8 102.9L682.8 102.9L683.9 102.9L684.9 102.9L685.9 102.9L687 102.9L688 102.9L689 102.9L690.1 102.9L691.1 102.9L692.1 102.9L693.2 102.9L694.2 102.9L695.2 102.9L696.3 102.9L697.3 102.9L698.4 102.9L699.4 102.9L700.4 102.9L701.5 102.9L702.5 102.9L703.5 102.9L704.6 102.9L705.6 102.9L706.6 102.9L707.7 102.9L708.7 102.9L709.7 102.9L710.8 102.9L711.8 102.9L712.8 102.9L713.9 102.9L714.9 102.9L715.9 102.9L717 102.9L718 102.9L719 102.9L720.1 102.9L721.1 102.9L722.1 102.9L723.2 102.9L724.2 102.9L725.2 102.9L726.3 102.9L727.3 102.9L728.3 102.9L729.4 102.9L730.4 102.9M743.7 102.9L744.7 102.9L745.7 102.9L746.7 102.9L747.7 102.9L748.7 102.9L749.8 102.9L750.8 102.9L751.8 102.9L752.8 102.9L753.8 102.9L754.8 102.9L755.8 102.9L756.8 102.9L757.8 102.9L758.8 102.9L759.8 102.9L760.9 102.9L761.9 102.9L762.9 102.9L763.9 102.9L764.9 102.9L765.9 102.9L766.9 102.9L767.9 102.9L768.9 102.9L769.9 102.9L770.9 102.9L772 102.9L773 102.9L774 102.9L775 102.9L776 102.9L777 102.9L778 102.9L779 102.9L780 102.9L781 102.9L782 102.9L783.1 102.9L784.1 102.9L785.1 102.9L786.1 102.9L787.1 102.9L788.1 102.9L789.1 102.9L790.1 102.9L791.1 102.9L792.1 102.9L793.1 102.9L794.2 102.9L795.2 102.9L796.2 102.9L797.2 102.9L798.2 102.9L799.2 102.9L800.2 102.9L801.2 102.9L802.2 102.9L803.2 102.9L804.2 102.9L805.3 102.9L806.3 102.9L807.3 102.9L808.3 102.9L809.3 102.9L810.3 102.9L811.3 102.9L812.3 102.9L813.3 102.9L814.3 102.9L815.3 102.9L816.4 102.9L817.4 102.9L818.4 102.9L819.4 102.9L820.4 102.9L821.4 102.9L822.4 102.9L823.4 102.9L824.4 102.9L825.4 102.9L826.4 102.9L827.5 102.9L828.5 102.9L829.5 102.9L830.5 102.9L831.5 102.9L832.5 102.9L833.5 102.9L834.5 102.9L835.5 102.9L836.5 102.9L837.6 102.9L838.6 102.9L839.6 102.9L840.6 102.9L841.6 102.9L842.6 102.9L843.6 102.9L844.6 102.9L845.6 102.9L846.6 102.9L847.6 102.9L848.7 102.9L849.7 102.9L850.7 102.9L851.7 102.9L852.7 102.9L853.7 102.9L854.7 102.9L855.7 102.9L856.7 102.9L857.7 102.9L858.7 102.9L859.8 102.9L860.8 102.9L861.8 102.9L862.8 102.9L863.8 102.9L864.8 102.9L865.8 102.9L866.8 102.9L867.8 102.9L868.8 102.9L869.8 102.9L870.9 102.9L871.9 102.9L872.9 102.9L873.9 102.9L874.9 102.9L875.9 102.9L876.9 102.9L877.9 102.9L878.9 102.9L879.9 102.9L880.9 102.9L882 102.9L883 102.9L884 102.9L885 102.9L886 102.9L887 102.9L888 102.9L889 102.9L890 103.1L891 103.3L892 103.6L893.1 104.1L894.1 104.7L895.1 105.4L896.1 106.4L897.1 107.5L898.1 108.8L899.1 110.4L900.1 112.1L901.1 114.1L902.1 116.3L903.1 118.8L904.2 121.5L905.2 124.4L906.2 127.7L907.2 131.2L908.2 135L909.2 139.1L910.2 143.4L911.2 148.1L912.2 153.1L913.2 158.4L914.2 164L915.3 169.8L916.3 175.9L917.3 182.3L918.3 188.8L919.3 195.6L920.3 202.5L921.3 209.6L922.3 216.9L923.3 224.3L924.3 231.8L925.4 239.5L926.4 247.3L927.4 255.1L928.4 263.1L929.4 271.2L930.4 279.3L931.4 287.5L932.4 295.7L933.4 304L934.4 312.2L935.4 320.5L936.5 328.8L937.5 337.1L938.5 345.3L939.5 353.5L940.5 361.5L941.5 369.5L942.5 377.4L943.5 385L944.5 392.5L945.5 399.7L946.5 406.6L947.6 413.3L948.6 419.8L949.6 426L950.6 431.9L951.6 437.6L952.6 442.9L953.6 448L954.6 452.9L955.6 457.5L956.6 461.8L957.6 465.8L958.7 469.6L959.7 473.1L960.7 476.3L961.7 479.3L962.7 482.1L963.7 484.7L964.7 487L965.7 489.1L966.7 491L967.7 492.7L968.7 494.3L969.8 495.8L970.8 497.2L971.8 498.5L972.8 499.8L973.8 501.1L974.8 502.3L975.8 503.5L976.8 504.6L977.8 505.7L978.8 506.8L979.8 507.8L980.9 508.8L981.9 509.8L982.9 510.7L983.9 511.7L984.9 512.5L985.9 513.4L986.9 514.2L987.9 515.1L988.9 515.8L989.9 516.6L990.9 517.3L992 518.1L993 518.8L994 519.5L995 520.1L996 520.7L997 521.4L998 522L999 522.6L1000 523.1L1001 523.7L1002 524.2L1003.1 524.7L1004.1 525.2L1005.1 525.7L1006.1 526.2L1007.1 526.7L1008.1 527.1L1009.1 527.5L1010.1 527.9L1011.1 528.3L1012.1 528.7L1013.1 529.1L1014.2 529.5L1015.2 529.8L1016.2 530.1L1017.2 530.5L1018.2 530.8L1019.2 531.1L1020.2 531.3L1021.2 531.6L1022.2 531.9L1023.2 532.1L1024.3 532.4L1025.3 532.6L1026.3 532.8L1027.3 533L1028.3 533.2L1029.3 533.4L1030.3 533.5L1031.3 533.7L1032.3 533.8L1033.3 534L1034.3 534.1L1035.4 534.2L1036.4 534.3L1037.4 534.4L1038.4 534.5L1039.4 534.6L1040.4 534.7L1041.4 534.7L1042.4 534.7L1043.4 534.8L1044.4 534.8L1045.4 534.8L1046.5 534.8L1047.5 534.8L1048.5 534.8L1049.5 534.8L1050.5 534.7L1051.5 534.7L1052.5 534.6L1053.5 534.6L1054.5 534.5L1055.5 534.4L1056.5 534.3L1057.6 534.2L1058.6 534.1L1059.6 533.9L1060.6 533.8L1061.6 533.6L1062.6 533.5L1063.6 533.3L1064.6 533.1L1065.6 532.9L1066.6 532.7L1067.6 532.5L1068.7 532.2L1069.7 532L1070.7 531.8L1071.7 531.5L1072.7 531.2L1073.7 530.9L1074.7 530.6L1075.7 530.3L1076.7 530L1077.7 529.6L1078.7 529.3L1079.8 528.9L1080.8 528.5L1081.8 528.1L1082.8 527.7L1083.8 527.3L1084.8 526.9L1085.8 526.4L1086.8 526L1087.8 525.5L1088.8 525L1089.8 524.5L1090.9 524L1091.9 523.4L1092.9 522.9L1093.9 522.3L1094.9 521.7L1095.9 521.1L1096.9 520.4L1097.9 519.8L1098.9 519.1L1099.9 518.4L1100.9 517.7L1102 517L1103 516.2L1104 515.4L1105 514.6L1106 513.8L1107 513L1108 512.1L1109 511.2L1110 510.3L1111 509.3L1112.1 508.3L1113.1 507.3L1114.1 506.3L1115.1 505.2L1116.1 504L1117.1 502.9L1118.1 501.7L1119.1 500.5L1120.1 499.2L1121.1 497.9L1122.1 496.5L1123.2 495L1124.2 493.5L1125.2 491.9L1126.2 490L1127.2 488L1128.2 485.8L1129.2 483.4L1130.2 480.8L1131.2 477.9L1132.2 474.7L1133.2 471.3L1134.3 467.7L1135.3 463.8L1136.3 459.6L1137.3 455.2L1138.3 450.5L1139.3 445.5L1140.3 440.3L1141.3 434.8L1142.3 429L1143.3 422.9L1144.3 416.6L1145.4 410L1146.4 403.2L1147.4 396.1L1148.4 388.8L1149.4 381.2L1150.4 373.4L1151.4 365.5L1152.4 357.5L1153.4 349.4L1154.4 341.2L1155.4 332.9L1156.5 324.7L1157.5 316.4L1158.5 308.1L1159.5 299.8L1160.5 291.6L1161.5 283.4L1162.5 275.2L1163.5 267.1L1164.5 259.1L1165.5 251.2L1166.5 243.3L1167.6 235.6L1168.6 228L1169.6 220.5L1170.6 213.2L1171.6 206L1172.6 199L1173.6 192.2L1174.6 185.5L1175.6 179.1L1176.6 172.8L1177.6 166.8L1178.7 161.1L1179.7 155.7L1180.7 150.5L1181.7 145.7L1182.7 141.2L1183.7 137L1184.7 133L1185.7 129.4L1186.7 126L1187.7 122.9L1188.7 120.1L1189.8 117.5L1190.8 115.2L1191.8 113.1L1192.8 111.2L1193.8 109.6L1194.8 108.1L1195.8 106.9L1196.8 105.9L1197.8 105L1198.8 104.3L1199.9 103.8L1200.9 103.4L1201.9 103.2L1202.9 103L1203.9 102.9L1204.9 102.9L1205.9 102.9L1206.9 102.9L1207.9 102.9L1208.9 102.9L1209.9 102.9L1211 102.9L1212 102.9L1213 102.9L1214 102.9L1215 102.9L1216 102.9L1217 102.9L1218 102.9L1219 102.9L1220 102.9L1221 102.9L1222.1 102.9L1223.1 102.9L1224.1 102.9L1225.1 102.9L1226.1 102.9L1227.1 102.9L1228.1 102.9L1229.1 102.9L1230.1 102.9L1231.1 102.9L1232.1 102.9L1233.2 102.9L1234.2 102.9L1235.2 102.9L1236.2 102.9L1237.2 102.9L1238.2 102.9L1239.2 102.9L1240.2 102.9L1241.2 102.9L1242.2 102.9L1243.2 102.9L1244.3 102.9L1245.3 102.9L1246.3 102.9L1247.3 102.9L1248.3 102.9L1249.3 102.9L1250.3 102.9L1251.3 102.9L1252.3 102.9L1253.3 102.9L1254.3 102.9L1255.4 102.9L1256.4 102.9L1257.4 102.9L1258.4 102.9L1259.4 102.9L1260.4 102.9L1261.4 102.9L1262.4 102.9L1263.4 102.9L1264.4 102.9L1265.4 102.9L1266.5 102.9L1267.5 102.9L1268.5 102.9L1269.5 102.9L1270.5 102.9L1271.5 102.9L1272.5 102.9L1273.5 102.9L1274.5 102.9L1275.5 102.9L1276.5 102.9L1277.6 102.9L1278.6 102.9L1279.6 102.9L1280.6 102.9L1281.6 102.9L1282.6 102.9L1283.6 102.9L1284.6 102.9L1285.6 102.9L1286.6 102.9L1287.7 102.9L1288.7 102.9L1289.7 102.9L1290.7 102.9L1291.7 102.9L1292.7 102.9L1293.7 102.9L1294.7 102.9L1295.7 102.9L1296.7 102.9L1297.7 102.9L1298.8 102.9L1299.8 102.9L1300.8 102.9L1301.8 102.9L1302.8 102.9L1303.8 102.9L1304.8 102.9L1305.8 102.9L1306.8 102.9L1307.8 102.9L1308.8 102.9L1309.9 102.9L1310.9 102.9L1311.9 102.9L1312.9 102.9L1313.9 102.9L1314.9 102.9L1315.9 102.9L1316.9 102.9L1317.9 102.9L1318.9 102.9L1319.9 102.9L1321 102.9L1322 102.9L1323 102.9L1324 102.9L1325 102.9L1326 102.9L1327 102.9L1328 102.9L1329 102.9L1330 102.9L1331 102.9L1332.1 102.9L1333.1 102.9L1334.1 102.9L1335.1 102.9L1336.1 102.9L1337.1 102.9L1338.1 102.9L1339.1 102.9L1340.1 102.9L1341.1 102.9L1342.1 102.9L1343.2 102.9L1344.2 102.9L1345.2 102.9L1346.2 102.9L1347.2 102.9L1348.2 102.9M110.9 1112.6L111.9 1112.6L112.9 1112.6L114 1112.6L115 1112.6L116 1112.6L117.1 1112.6L118.1 1112.6L119.1 1112.6L120.2 1112.6L121.2 1112.6L122.2 1112.6L123.3 1112.6L124.3 1112.6L125.4 1112.6L126.4 1112.6L127.4 1112.6L128.5 1112.6L129.5 1112.6L130.5 1112.6L131.6 1112.6L132.6 1112.6L133.6 1112.6L134.7 1112.6L135.7 1112.6L136.7 1112.6L137.8 1112.6L138.8 1112.6L139.8 1112.6L140.9 1112.6L141.9 1112.6L142.9 1112.6L144 1112.6L145 1112.6L146 1112.6L147.1 1112.6L148.1 1112.6L149.1 1112.6L150.2 1112.6L151.2 1112.6L152.2 1112.6L153.3 1112.6L154.3 1112.6L155.3 1112.6L156.4 1112.6L157.4 1112.6L158.4 1112.6L159.5 1112.6L160.5 1112.6L161.6 1112.6L162.6 1112.6L163.6 1112.6L164.7 1112.6L165.7 1112.6L166.7 1112.6L167.8 1112.6L168.8 1112.6L169.8 1112.6L170.9 1112.6L171.9 1112.6L172.9 1112.6L174 1112.6L175 1112.6L176 1112.6L177.1 1112.6L178.1 1112.6L179.1 1112.6L180.2 1112.6L181.2 1112.6L182.2 1112.6L183.3 1112.6L184.3 1112.6L185.3 1112.6L186.4 1112.6L187.4 1112.6L188.4 1112.6L189.5 1112.6L190.5 1112.6L191.5 1112.6L192.6 1112.6L193.6 1112.6L194.6 1112.6L195.7 1112.6L196.7 1112.6L197.8 1112.6L198.8 1112.6L199.8 1112.6L200.9 1112.6L201.9 1112.6L202.9 1112.6L204 1112.6L205 1112.6L206 1112.6L207.1 1112.6L208.1 1112.6L209.1 1112.6L210.2 1112.6L211.2 1112.6L212.2 1112.6L213.3 1112.6L214.3 1112.6L215.3 1112.6L216.4 1112.6L217.4 1112.6L218.4 1112.6L219.5 1112.6L220.5 1112.6L221.5 1112.6L222.6 1112.6L223.6 1112.6L224.6 1112.6L225.7 1112.6L226.7 1112.7L227.7 1112.9L228.8 1113.1L229.8 1113.4L230.8 1113.7L231.9 1114.2L232.9 1114.7L234 1115.2L235 1115.9L236 1116.6L237.1 1117.4L238.1 1118.2L239.1 1119.1L240.2 1120.1L241.2 1121.2L242.2 1122.3L243.3 1123.5L244.3 1124.8L245.3 1126.1L246.4 1127.4L247.4 1128.7L248.4 1130L249.5 1131.2L250.5 1132.5L251.5 1133.8L252.6 1135.1L253.6 1136.4L254.6 1137.7L255.7 1139L256.7 1140.3L257.7 1141.6L258.8 1142.9L259.8 1144.2L260.8 1145.5L261.9 1146.8L262.9 1148.1L263.9 1149.4L265 1150.7L266 1152L267 1153.3L268.1 1154.6L269.1 1155.9L270.2 1157.2L271.2 1158.5L272.2 1159.8L273.3 1161.1L274.3 1162.4L275.3 1163.7L276.4 1165L277.4 1166.3L278.4 1167.6L279.5 1168.9L280.5 1170.2L281.5 1171.5L282.6 1172.8L283.6 1174L284.6 1175.2L285.7 1176.4L286.7 1177.4L287.7 1178.4L288.8 1179.3L289.8 1180.2L290.8 1181L291.9 1181.7L292.9 1182.3L293.9 1182.9L295 1183.4L296 1183.8L297 1184.2L298.1 1184.5L299.1 1184.7L300.1 1184.9L301.2 1184.9L302.2 1185L303.2 1185L304.3 1185L305.3 1185L306.4 1185L307.4 1185L308.4 1185L309.5 1185L310.5 1185L311.5 1185L312.6 1185L313.6 1185L314.6 1185L315.7 1185L316.7 1185L317.7 1185L318.8 1185L319.8 1185L320.8 1185L321.9 1185L322.9 1185L323.9 1185L325 1185L326 1185L327 1185L328.1 1185L329.1 1185L330.1 1185L331.2 1185L332.2 1185L333.2 1185L334.3 1185L335.3 1185L336.3 1185L337.4 1185L338.4 1185L339.5 1185L340.5 1185L341.5 1185L342.6 1185L343.6 1185L344.6 1185L345.7 1185L346.7 1185L347.7 1185L348.8 1185L349.8 1185L350.8 1185L351.9 1185L352.9 1185L353.9 1185L355 1185L356 1185L357 1185L358.1 1185L359.1 1185L360.1 1185L361.2 1185L362.2 1185L363.2 1185L364.3 1185L365.3 1185L366.3 1185L367.4 1185L368.4 1185L369.4 1185L370.5 1185L371.5 1185L372.5 1185L373.6 1185L374.6 1185L375.7 1185L376.7 1185L377.7 1185L378.8 1185L379.8 1185L380.8 1185L381.9 1185L382.9 1185L383.9 1185L385 1185L386 1185L387 1185L388.1 1185L389.1 1185L390.1 1185L391.2 1185L392.2 1185L393.2 1185L394.3 1185L395.3 1185L396.3 1185L397.4 1185L398.4 1185L399.4 1185L400.5 1185L401.5 1185L402.5 1185L403.6 1185L404.6 1185L405.6 1185L406.7 1185L407.7 1185L408.7 1185L409.8 1185L410.8 1185L411.9 1185L412.9 1185L413.9 1185L415 1185L416 1185L417 1185L418.1 1185L419.1 1185L420.1 1185L421.2 1185L422.2 1185L423.2 1185L424.3 1185L425.3 1185L426.3 1185L427.4 1185L428.4 1185L429.4 1185L430.5 1185L431.5 1185L432.5 1185L433.6 1185L434.6 1185L435.6 1185L436.7 1185L437.7 1185L438.7 1185L439.8 1185L440.8 1185L441.8 1185L442.9 1185L443.9 1185L444.9 1185L446 1185L447 1185L448.1 1185L449.1 1185L450.1 1185L451.2 1185L452.2 1185L453.2 1185L454.3 1185L455.3 1185L456.3 1185L457.4 1185L458.4 1185L459.4 1185L460.5 1185L461.5 1185L462.5 1185L463.6 1185L464.6 1185L465.6 1185L466.7 1185L467.7 1185L468.7 1185L469.8 1185L470.8 1185L471.8 1185L472.9 1185L473.9 1185L474.9 1185L476 1185L477 1185L478 1185L479.1 1185L480.1 1185L481.1 1185L482.2 1185L483.2 1185L484.3 1185L485.3 1185L486.3 1185L487.4 1185L488.4 1185L489.4 1185L490.5 1185L491.5 1185L492.5 1185L493.6 1185L494.6 1185L495.6 1185L496.7 1185L497.7 1185L498.7 1185L499.8 1185L500.8 1185L501.8 1185L502.9 1185L503.9 1185L504.9 1185L506 1185L507 1185L508 1185L509.1 1185L510.1 1185L511.1 1185L512.2 1185L513.2 1185L514.2 1185L515.3 1185L516.3 1185L517.3 1185L518.4 1185L519.4 1185L520.5 1185L521.5 1185L522.5 1185L523.6 1185L524.6 1185L525.6 1185L526.7 1185L527.7 1185L528.7 1185L529.8 1185L530.8 1185L531.8 1185L532.9 1185L533.9 1185L534.9 1185L536 1185L537 1185L538 1185L539.1 1185L540.1 1185L541.1 1184.9L542.2 1184.8L543.2 1184.6L544.2 1184.3L545.3 1184L546.3 1183.6L547.3 1183.1L548.4 1182.6L549.4 1182L550.4 1181.3L551.5 1180.6L552.5 1179.8L553.5 1178.9L554.6 1177.9L555.6 1176.9L556.7 1175.8L557.7 1174.6L558.7 1173.4L559.8 1172.1L560.8 1170.8L561.8 1169.5L562.9 1168.2L563.9 1166.9L564.9 1165.6L566 1164.3L567 1163L568 1161.7L569.1 1160.4L570.1 1159.1L571.1 1157.8L572.2 1156.5L573.2 1155.2L574.2 1154L575.3 1152.7L576.3 1151.4L577.3 1150.1L578.4 1148.8L579.4 1147.5L580.4 1146.2L581.5 1144.9L582.5 1143.6L583.5 1142.3L584.6 1141L585.6 1139.7L586.6 1138.4L587.7 1137.1L588.7 1135.8L589.8 1134.5L590.8 1133.2L591.8 1131.9L592.9 1130.6L593.9 1129.3L594.9 1128L596 1126.7L597 1125.4L598 1124.1L599.1 1122.9L600.1 1121.7L601.1 1120.6L602.2 1119.6L603.2 1118.7L604.2 1117.8L605.3 1117L606.3 1116.2L607.3 1115.5L608.4 1114.9L609.4 1114.4L610.4 1113.9L611.5 1113.5L612.5 1113.2L613.5 1112.9L614.6 1112.8L615.6 1112.7L616.6 1112.6L617.7 1112.6L618.7 1112.6L619.7 1112.6L620.8 1112.6L621.8 1112.6L622.8 1112.6L623.9 1112.6L624.9 1112.6L626 1112.6L627 1112.6L628 1112.6L629.1 1112.6L630.1 1112.6L631.1 1112.6L632.2 1112.6L633.2 1112.6L634.2 1112.6L635.3 1112.6L636.3 1112.6L637.3 1112.6L638.4 1112.6L639.4 1112.6L640.4 1112.6L641.5 1112.6L642.5 1112.6L643.5 1112.6L644.6 1112.6L645.6 1112.6L646.6 1112.6L647.7 1112.6L648.7 1112.6L649.7 1112.6L650.8 1112.6L651.8 1112.6L652.8 1112.6L653.9 1112.6L654.9 1112.6L655.9 1112.6L657 1112.6L658 1112.6L659 1112.6L660.1 1112.6L661.1 1112.6L662.2 1112.6L663.2 1112.6L664.2 1112.6L665.3 1112.6L666.3 1112.6L667.3 1112.6L668.4 1112.6L669.4 1112.6L670.4 1112.6L671.5 1112.6L672.5 1112.6L673.5 1112.6L674.6 1112.6L675.6 1112.6L676.6 1112.6L677.7 1112.6L678.7 1112.6L679.7 1112.6L680.8 1112.6L681.8 1112.6L682.8 1112.6L683.9 1112.6L684.9 1112.6L685.9 1112.6L687 1112.6L688 1112.6L689 1112.6L690.1 1112.6L691.1 1112.6L692.1 1112.6L693.2 1112.6L694.2 1112.6L695.2 1112.6L696.3 1112.6L697.3 1112.6L698.4 1112.6L699.4 1112.6L700.4 1112.6L701.5 1112.6L702.5 1112.6L703.5 1112.6L704.6 1112.6L705.6 1112.6L706.6 1112.6L707.7 1112.6L708.7 1112.6L709.7 1112.6L710.8 1112.6L711.8 1112.6L712.8 1112.6L713.9 1112.6L714.9 1112.6L715.9 1112.6L717 1112.6L718 1112.6L719 1112.6L720.1 1112.6L721.1 1112.6L722.1 1112.6L723.2 1112.6L724.2 1112.6L725.2 1112.6L726.3 1112.6L727.3 1112.6L728.3 1112.6L729.4 1112.6L730.4 1112.6M743.7 1112.6L744.7 1112.6L745.7 1112.6L746.7 1112.6L747.7 1112.6L748.7 1112.6L749.8 1112.6L750.8 1112.6L751.8 1112.6L752.8 1112.6L753.8 1112.6L754.8 1112.6L755.8 1112.6L756.8 1112.6L757.8 1112.6L758.8 1112.6L759.8 1112.6L760.9 1112.6L761.9 1112.6L762.9 1112.6L763.9 1112.6L764.9 1112.6L765.9 1112.6L766.9 1112.6L767.9 1112.6L768.9 1112.6L769.9 1112.6L770.9 1112.6L772 1112.6L773 1112.6L774 1112.6L775 1112.6L776 1112.6L777 1112.6L778 1112.6L779 1112.6L780 1112.6L781 1112.6L782 1112.6L783.1 1112.6L784.1 1112.6L785.1 1112.6L786.1 1112.6L787.1 1112.6L788.1 1112.6L789.1 1112.6L790.1 1112.6L791.1 1112.6L792.1 1112.6L793.1 1112.6L794.2 1112.6L795.2 1112.6L796.2 1112.6L797.2 1112.6L798.2 1112.6L799.2 1112.6L800.2 1112.6L801.2 1112.6L802.2 1112.6L803.2 1112.6L804.2 1112.6L805.3 1112.6L806.3 1112.6L807.3 1112.6L808.3 1112.6L809.3 1112.6L810.3 1112.6L811.3 1112.6L812.3 1112.6L813.3 1112.6L814.3 1112.6L815.3 1112.6L816.4 1112.6L817.4 1112.6L818.4 1112.6L819.4 1112.6L820.4 1112.6L821.4 1112.6L822.4 1112.6L823.4 1112.6L824.4 1112.6L825.4 1112.6L826.4 1112.6L827.5 1112.6L828.5 1112.6L829.5 1112.6L830.5 1112.6L831.5 1112.6L832.5 1112.6L833.5 1112.6L834.5 1112.6L835.5 1112.6L836.5 1112.6L837.6 1112.6L838.6 1112.6L839.6 1112.6L840.6 1112.6L841.6 1112.6L842.6 1112.6L843.6 1112.6L844.6 1112.7L845.6 1112.8L846.6 1112.9L847.6 1113.1L848.7 1113.4L849.7 1113.6L850.7 1113.9L851.7 1114.3L852.7 1114.6L853.7 1115.1L854.7 1115.5L855.7 1116L856.7 1116.6L857.7 1117.1L858.7 1117.8L859.8 1118.4L860.8 1119.1L861.8 1119.8L862.8 1120.6L863.8 1121.4L864.8 1122.3L865.8 1123.2L866.8 1124.1L867.8 1125.1L868.8 1126.1L869.8 1127.1L870.9 1128.1L871.9 1129.1L872.9 1130.2L873.9 1131.2L874.9 1132.2L875.9 1133.2L876.9 1134.2L877.9 1135.3L878.9 1136.3L879.9 1137.3L880.9 1138.3L882 1139.3L883 1140.3L884 1141.4L885 1142.4L886 1143.4L887 1144.4L888 1145.4L889 1146.5L890 1147.5L891 1148.5L892 1149.5L893.1 1150.5L894.1 1151.6L895.1 1152.6L896.1 1153.6L897.1 1154.6L898.1 1155.6L899.1 1156.7L900.1 1157.7L901.1 1158.7L902.1 1159.7L903.1 1160.7L904.2 1161.8L905.2 1162.8L906.2 1163.8L907.2 1164.8L908.2 1165.8L909.2 1166.9L910.2 1167.9L911.2 1168.9L912.2 1169.9L913.2 1170.9L914.2 1172L915.3 1172.9L916.3 1173.9L917.3 1174.8L918.3 1175.7L919.3 1176.5L920.3 1177.3L921.3 1178.1L922.3 1178.8L923.3 1179.5L924.3 1180.1L925.4 1180.7L926.4 1181.2L927.4 1181.8L928.4 1182.2L929.4 1182.7L930.4 1183.1L931.4 1183.5L932.4 1183.8L933.4 1184.1L934.4 1184.3L935.4 1184.5L936.5 1184.7L937.5 1184.8L938.5 1184.9L939.5 1184.9L940.5 1185L941.5 1185L942.5 1185L943.5 1185L944.5 1185L945.5 1185L946.5 1185L947.6 1185L948.6 1185L949.6 1185L950.6 1185L951.6 1185L952.6 1185L953.6 1185L954.6 1185L955.6 1185L956.6 1185L957.6 1185L958.7 1185L959.7 1185L960.7 1185L961.7 1185L962.7 1185L963.7 1185L964.7 1185L965.7 1185L966.7 1185L967.7 1185L968.7 1185L969.8 1185L970.8 1185L971.8 1185L972.8 1185L973.8 1185L974.8 1185L975.8 1185L976.8 1185L977.8 1185L978.8 1185L979.8 1185L980.9 1185L981.9 1185L982.9 1185L983.9 1185L984.9 1185L985.9 1185L986.9 1185L987.9 1185L988.9 1185L989.9 1185L990.9 1185L992 1185L993 1185L994 1185L995 1185L996 1185L997 1185L998 1185L999 1185L1000 1185L1001 1185L1002 1185L1003.1 1185L1004.1 1185L1005.1 1185L1006.1 1185L1007.1 1185L1008.1 1185L1009.1 1185L1010.1 1185L1011.1 1185L1012.1 1185L1013.1 1185L1014.2 1185L1015.2 1185L1016.2 1185L1017.2 1185L1018.2 1185L1019.2 1185L1020.2 1185L1021.2 1185L1022.2 1185L1023.2 1185L1024.3 1185L1025.3 1185L1026.3 1185L1027.3 1185L1028.3 1185L1029.3 1185L1030.3 1185L1031.3 1185L1032.3 1185L1033.3 1185L1034.3 1185L1035.4 1185L1036.4 1185L1037.4 1185L1038.4 1185L1039.4 1185L1040.4 1185L1041.4 1185L1042.4 1185L1043.4 1185L1044.4 1185L1045.4 1185L1046.5 1185L1047.5 1185L1048.5 1185L1049.5 1185L1050.5 1185L1051.5 1185L1052.5 1185L1053.5 1185L1054.5 1185L1055.5 1185L1056.5 1185L1057.6 1185L1058.6 1185L1059.6 1185L1060.6 1185L1061.6 1185L1062.6 1185L1063.6 1185L1064.6 1185L1065.6 1185L1066.6 1185L1067.6 1185L1068.7 1185L1069.7 1185L1070.7 1185L1071.7 1185L1072.7 1185L1073.7 1185L1074.7 1185L1075.7 1185L1076.7 1185L1077.7 1185L1078.7 1185L1079.8 1185L1080.8 1185L1081.8 1185L1082.8 1185L1083.8 1185L1084.8 1185L1085.8 1185L1086.8 1185L1087.8 1185L1088.8 1185L1089.8 1185L1090.9 1185L1091.9 1185L1092.9 1185L1093.9 1185L1094.9 1185L1095.9 1185L1096.9 1185L1097.9 1185L1098.9 1185L1099.9 1185L1100.9 1185L1102 1185L1103 1185L1104 1185L1105 1185L1106 1185L1107 1185L1108 1185L1109 1185L1110 1185L1111 1185L1112.1 1185L1113.1 1185L1114.1 1185L1115.1 1185L1116.1 1185L1117.1 1185L1118.1 1185L1119.1 1185L1120.1 1185L1121.1 1185L1122.1 1185L1123.2 1185L1124.2 1185L1125.2 1185L1126.2 1185L1127.2 1185L1128.2 1185L1129.2 1185L1130.2 1185L1131.2 1185L1132.2 1185L1133.2 1185L1134.3 1185L1135.3 1185L1136.3 1185L1137.3 1185L1138.3 1185L1139.3 1185L1140.3 1185L1141.3 1185L1142.3 1185L1143.3 1185L1144.3 1185L1145.4 1185L1146.4 1185L1147.4 1185L1148.4 1185L1149.4 1185L1150.4 1185L1151.4 1185L1152.4 1185L1153.4 1184.9L1154.4 1184.9L1155.4 1184.7L1156.5 1184.6L1157.5 1184.4L1158.5 1184.2L1159.5 1183.9L1160.5 1183.6L1161.5 1183.3L1162.5 1182.9L1163.5 1182.5L1164.5 1182L1165.5 1181.5L1166.5 1181L1167.6 1180.4L1168.6 1179.8L1169.6 1179.1L1170.6 1178.4L1171.6 1177.7L1172.6 1176.9L1173.6 1176.1L1174.6 1175.2L1175.6 1174.4L1176.6 1173.4L1177.6 1172.5L1178.7 1171.4L1179.7 1170.4L1180.7 1169.4L1181.7 1168.4L1182.7 1167.4L1183.7 1166.4L1184.7 1165.3L1185.7 1164.3L1186.7 1163.3L1187.7 1162.3L1188.7 1161.3L1189.8 1160.2L1190.8 1159.2L1191.8 1158.2L1192.8 1157.2L1193.8 1156.2L1194.8 1155.1L1195.8 1154.1L1196.8 1153.1L1197.8 1152.1L1198.8 1151.1L1199.9 1150L1200.9 1149L1201.9 1148L1202.9 1147L1203.9 1146L1204.9 1144.9L1205.9 1143.9L1206.9 1142.9L1207.9 1141.9L1208.9 1140.9L1209.9 1139.8L1211 1138.8L1212 1137.8L1213 1136.8L1214 1135.8L1215 1134.7L1216 1133.7L1217 1132.7L1218 1131.7L1219 1130.7L1220 1129.6L1221 1128.6L1222.1 1127.6L1223.1 1126.6L1224.1 1125.6L1225.1 1124.6L1226.1 1123.6L1227.1 1122.7L1228.1 1121.8L1229.1 1121L1230.1 1120.2L1231.1 1119.5L1232.1 1118.8L1233.2 1118.1L1234.2 1117.4L1235.2 1116.8L1236.2 1116.3L1237.2 1115.8L1238.2 1115.3L1239.2 1114.9L1240.2 1114.5L1241.2 1114.1L1242.2 1113.8L1243.2 1113.5L1244.3 1113.2L1245.3 1113L1246.3 1112.9L1247.3 1112.7L1248.3 1112.7L1249.3 1112.6L1250.3 1112.6L1251.3 1112.6L1252.3 1112.6L1253.3 1112.6L1254.3 1112.6L1255.4 1112.6L1256.4 1112.6L1257.4 1112.6L1258.4 1112.6L1259.4 1112.6L1260.4 1112.6L1261.4 1112.6L1262.4 1112.6L1263.4 1112.6L1264.4 1112.6L1265.4 1112.6L1266.5 1112.6L1267.5 1112.6L1268.5 1112.6L1269.5 1112.6L1270.5 1112.6L1271.5 1112.6L1272.5 1112.6L1273.5 1112.6L1274.5 1112.6L1275.5 1112.6L1276.5 1112.6L1277.6 1112.6L1278.6 1112.6L1279.6 1112.6L1280.6 1112.6L1281.6 1112.6L1282.6 1112.6L1283.6 1112.6L1284.6 1112.6L1285.6 1112.6L1286.6 1112.6L1287.7 1112.6L1288.7 1112.6L1289.7 1112.6L1290.7 1112.6L1291.7 1112.6L1292.7 1112.6L1293.7 1112.6L1294.7 1112.6L1295.7 1112.6L1296.7 1112.6L1297.7 1112.6L1298.8 1112.6L1299.8 1112.6L1300.8 1112.6L1301.8 1112.6L1302.8 1112.6L1303.8 1112.6L1304.8 1112.6L1305.8 1112.6L1306.8 1112.6L1307.8 1112.6L1308.8 1112.6L1309.9 1112.6L1310.9 1112.6L1311.9 1112.6L1312.9 1112.6L1313.9 1112.6L1314.9 1112.6L1315.9 1112.6L1316.9 1112.6L1317.9 1112.6L1318.9 1112.6L1319.9 1112.6L1321 1112.6L1322 1112.6L1323 1112.6L1324 1112.6L1325 1112.6L1326 1112.6L1327 1112.6L1328 1112.6L1329 1112.6L1330 1112.6L1331 1112.6L1332.1 1112.6L1333.1 1112.6L1334.1 1112.6L1335.1 1112.6L1336.1 1112.6L1337.1 1112.6L1338.1 1112.6L1339.1 1112.6L1340.1 1112.6L1341.1 1112.6L1342.1 1112.6L1343.2 1112.6L1344.2 1112.6L1345.2 1112.6L1346.2 1112.6L1347.2 1112.6L1348.2 1112.6" fill="none" stroke="#f00" stroke-width="2" stroke-linejoin="round"/>
<path d="M110.9 713.7H729.9M110.9 1564.7H729.9M743.7 713.7H1347.7M743.7 1564.7H1347.7" fill="none" stroke="#f00" stroke-width="2" stroke-dasharray="29.5 26.6"/>
<g font-family="'Liberation Sans', sans-serif" font-size="39.0" fill="#000" stroke="#fff" stroke-width="1"><text transform="translate(122.1 1711)"><tspan font-size="49" x="-2.5" y="4.8">−</tspan><tspan x="27.5 51.4 64.4" y="0">0.2</tspan></text><text transform="translate(250.8 1711)"><tspan font-size="49" x="-2.5" y="4.8">−</tspan><tspan x="27.6 48.4 58.3" y="0">0.1</tspan></text><text transform="translate(411.6 1711)" x="-1.5" y="0">0</text><text transform="translate(522.9 1711)" x="-2 18.7 28.6" y="0">0.1</text><text transform="translate(650.9 1711)" x="-2 21.8 34.7" y="0">0.2</text><text transform="translate(753.7 1711)"><tspan font-size="49" x="-2.5" y="4.8">−</tspan><tspan x="27.5 51.4 64.4" y="0">0.2</tspan></text><text transform="translate(879.3 1711)"><tspan font-size="49" x="-2.5" y="4.8">−</tspan><tspan x="27.6 48.4 58.3" y="0">0.1</tspan></text><text transform="translate(1036.9 1711)" x="-1.5" y="0">0</text><text transform="translate(1145.1 1711)" x="-2 18.7 28.6" y="0">0.1</text><text transform="translate(1270 1711)" x="-2 21.8 34.7" y="0">0.2</text><text transform="translate(456 1768.5)"><tspan x="-1.4 22.4 30.9 63.3" y="0">Time</tspan><tspan x="89" y="0"> </tspan><tspan x="104.5 124.9 134.4 156.9 177.2" y="0">since</tspan><tspan x="204" y="0"> </tspan><tspan x="218.1 251.6 261.3 284.1 306.8 327.4 337.1 346.8 369.5 390" y="0">mideclipse</tspan><tspan x="416" y="0"> </tspan><tspan x="431 445.7 469.1 492.4 513.6 534.8" y="0">(days)</tspan></text><text transform="translate(86 108.2) rotate(-90)" x="-6.3" y="0">1</text><text transform="translate(86 278.6) rotate(-90)" x="-2 21.9 34.9 58.8" y="0">0.98</text><text transform="translate(86 415.3) rotate(-90)" x="-2 22.1 35.4 59.5" y="0">0.96</text><text transform="translate(86 551.2) rotate(-90)" x="-2 21.9 34.9 58.9" y="0">0.94</text><text transform="translate(84 686.6) rotate(-90)" x="-2 19.6 30.4 52" y="0">0.01</text><text transform="translate(84 833) rotate(-90)"><tspan font-size="49" x="-2.6" y="4.8">−</tspan><tspan x="30.5 52 62.8 84.3" y="0">0.01</tspan></text><text transform="translate(86 962.1) rotate(-90)" x="-3.5 17.3 27.3 48.1" y="0">1.01</text><text transform="translate(86 1118.3) rotate(-90)" x="-7.1" y="0">1</text><text transform="translate(86 1338.7) rotate(-90)" x="-2 22 35.1 59.2" y="0">0.99</text><text transform="translate(84 1537.7) rotate(-90)" x="-2 19.6 30.4 52" y="0">0.01</text><text transform="translate(84 1684.1) rotate(-90)"><tspan font-size="49" x="-2.6" y="4.8">−</tspan><tspan x="30.5 52 62.8 84.3" y="0">0.01</tspan></text><text transform="translate(27.8 963.7) rotate(-90)"><tspan x="-3.7 25.2 47.7 61.5 94.7 117.2 126.6 136.1 156.4 178.8" y="0">Normalized</tspan><tspan x="205.7" y="0"> </tspan><tspan x="220.9 233 242.9 265.8" y="0">flux</tspan></text></g>
</svg>
</body></html>
